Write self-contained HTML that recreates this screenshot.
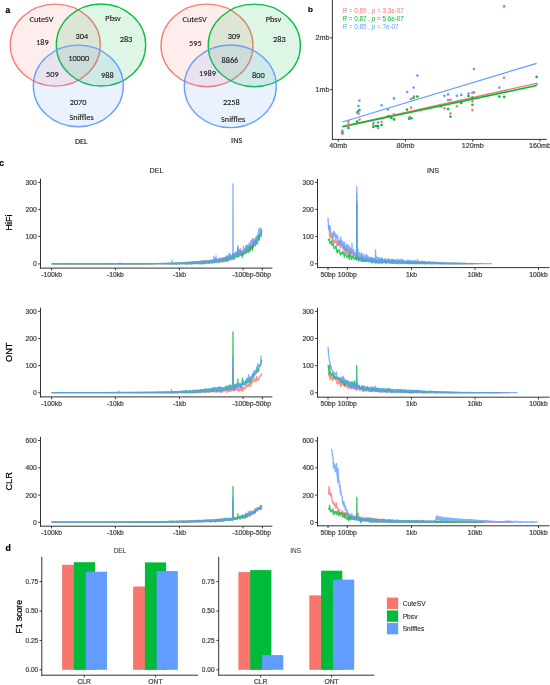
<!DOCTYPE html>
<html><head><meta charset="utf-8"><title>Figure</title>
<style>html,body{margin:0;padding:0;background:#fff;}svg{display:block;}</style></head>
<body><svg width="550" height="685" viewBox="0 0 550 685">
<rect width="550" height="685" fill="#fff"/>
<text x="5.50" y="13.00" font-size="8.5" text-anchor="start" fill="#000" font-weight="bold" font-family="'Liberation Sans', Arial, sans-serif" stroke="#000" stroke-width="0.22" >a</text>
<ellipse cx="55.3" cy="45.1" rx="45" ry="41" fill="#F8766D" fill-opacity="0.13" stroke="none"/>
<ellipse cx="55.3" cy="45.1" rx="45" ry="41" fill="none" stroke="#F8766D" stroke-opacity="0.95" stroke-width="1.35"/>
<ellipse cx="101" cy="45" rx="44.7" ry="41" fill="#00BA38" fill-opacity="0.13" stroke="none"/>
<ellipse cx="101" cy="45" rx="44.7" ry="41" fill="none" stroke="#00BA38" stroke-opacity="0.95" stroke-width="1.35"/>
<ellipse cx="78.3" cy="85.9" rx="45" ry="40.8" fill="#619CFF" fill-opacity="0.13" stroke="none"/>
<ellipse cx="78.3" cy="85.9" rx="45" ry="40.8" fill="none" stroke="#619CFF" stroke-opacity="0.95" stroke-width="1.35"/>
<text x="41.50" y="22.30" font-size="8.3" text-anchor="middle" fill="#1a1a1a" font-weight="normal" font-family="Carlito, 'Liberation Sans', sans-serif" stroke="#1a1a1a" stroke-width="0.12" >CuteSV</text>
<text x="113.10" y="21.40" font-size="8.3" text-anchor="middle" fill="#1a1a1a" font-weight="normal" font-family="Carlito, 'Liberation Sans', sans-serif" stroke="#1a1a1a" stroke-width="0.12" >Pbsv</text>
<text x="42.30" y="45.00" font-size="8.3" text-anchor="middle" fill="#1a1a1a" font-weight="normal" font-family="Carlito, 'Liberation Sans', sans-serif" stroke="#1a1a1a" stroke-width="0.12" >189</text>
<text x="81.80" y="39.10" font-size="8.3" text-anchor="middle" fill="#1a1a1a" font-weight="normal" font-family="Carlito, 'Liberation Sans', sans-serif" stroke="#1a1a1a" stroke-width="0.12" >304</text>
<text x="126.00" y="41.70" font-size="8.3" text-anchor="middle" fill="#1a1a1a" font-weight="normal" font-family="Carlito, 'Liberation Sans', sans-serif" stroke="#1a1a1a" stroke-width="0.12" >283</text>
<text x="78.70" y="61.10" font-size="8.3" text-anchor="middle" fill="#1a1a1a" font-weight="normal" font-family="Carlito, 'Liberation Sans', sans-serif" stroke="#1a1a1a" stroke-width="0.12" >10000</text>
<text x="52.40" y="76.90" font-size="8.3" text-anchor="middle" fill="#1a1a1a" font-weight="normal" font-family="Carlito, 'Liberation Sans', sans-serif" stroke="#1a1a1a" stroke-width="0.12" >509</text>
<text x="107.30" y="78.20" font-size="8.3" text-anchor="middle" fill="#1a1a1a" font-weight="normal" font-family="Carlito, 'Liberation Sans', sans-serif" stroke="#1a1a1a" stroke-width="0.12" >988</text>
<text x="78.10" y="104.50" font-size="8.3" text-anchor="middle" fill="#1a1a1a" font-weight="normal" font-family="Carlito, 'Liberation Sans', sans-serif" stroke="#1a1a1a" stroke-width="0.12" >2070</text>
<text x="81.60" y="119.90" font-size="8.3" text-anchor="middle" fill="#1a1a1a" font-weight="normal" font-family="Carlito, 'Liberation Sans', sans-serif" stroke="#1a1a1a" stroke-width="0.12" >Sniffles</text>
<text x="81.30" y="143.70" font-size="8.3" text-anchor="middle" fill="#1a1a1a" font-weight="normal" font-family="Carlito, 'Liberation Sans', sans-serif" stroke="#1a1a1a" stroke-width="0.12" >DEL</text>
<ellipse cx="207" cy="45.4" rx="46" ry="41.3" fill="#F8766D" fill-opacity="0.13" stroke="none"/>
<ellipse cx="207" cy="45.4" rx="46" ry="41.3" fill="none" stroke="#F8766D" stroke-opacity="0.95" stroke-width="1.35"/>
<ellipse cx="254.3" cy="45.4" rx="46.1" ry="41.3" fill="#00BA38" fill-opacity="0.13" stroke="none"/>
<ellipse cx="254.3" cy="45.4" rx="46.1" ry="41.3" fill="none" stroke="#00BA38" stroke-opacity="0.95" stroke-width="1.35"/>
<ellipse cx="230.3" cy="86.3" rx="46" ry="41.3" fill="#619CFF" fill-opacity="0.13" stroke="none"/>
<ellipse cx="230.3" cy="86.3" rx="46" ry="41.3" fill="none" stroke="#619CFF" stroke-opacity="0.95" stroke-width="1.35"/>
<text x="194.60" y="21.50" font-size="8.3" text-anchor="middle" fill="#1a1a1a" font-weight="normal" font-family="Carlito, 'Liberation Sans', sans-serif" stroke="#1a1a1a" stroke-width="0.12" >CuteSV</text>
<text x="273.50" y="21.50" font-size="8.3" text-anchor="middle" fill="#1a1a1a" font-weight="normal" font-family="Carlito, 'Liberation Sans', sans-serif" stroke="#1a1a1a" stroke-width="0.12" >Pbsv</text>
<text x="195.30" y="46.10" font-size="8.3" text-anchor="middle" fill="#1a1a1a" font-weight="normal" font-family="Carlito, 'Liberation Sans', sans-serif" stroke="#1a1a1a" stroke-width="0.12" >595</text>
<text x="234.00" y="39.20" font-size="8.3" text-anchor="middle" fill="#1a1a1a" font-weight="normal" font-family="Carlito, 'Liberation Sans', sans-serif" stroke="#1a1a1a" stroke-width="0.12" >309</text>
<text x="279.30" y="42.10" font-size="8.3" text-anchor="middle" fill="#1a1a1a" font-weight="normal" font-family="Carlito, 'Liberation Sans', sans-serif" stroke="#1a1a1a" stroke-width="0.12" >283</text>
<text x="229.90" y="63.10" font-size="8.3" text-anchor="middle" fill="#1a1a1a" font-weight="normal" font-family="Carlito, 'Liberation Sans', sans-serif" stroke="#1a1a1a" stroke-width="0.12" >8866</text>
<text x="207.50" y="76.20" font-size="8.3" text-anchor="middle" fill="#1a1a1a" font-weight="normal" font-family="Carlito, 'Liberation Sans', sans-serif" stroke="#1a1a1a" stroke-width="0.12" >1989</text>
<text x="258.30" y="77.90" font-size="8.3" text-anchor="middle" fill="#1a1a1a" font-weight="normal" font-family="Carlito, 'Liberation Sans', sans-serif" stroke="#1a1a1a" stroke-width="0.12" >800</text>
<text x="231.30" y="104.80" font-size="8.3" text-anchor="middle" fill="#1a1a1a" font-weight="normal" font-family="Carlito, 'Liberation Sans', sans-serif" stroke="#1a1a1a" stroke-width="0.12" >2258</text>
<text x="233.10" y="122.10" font-size="8.3" text-anchor="middle" fill="#1a1a1a" font-weight="normal" font-family="Carlito, 'Liberation Sans', sans-serif" stroke="#1a1a1a" stroke-width="0.12" >Sniffles</text>
<text x="236.70" y="142.90" font-size="8.3" text-anchor="middle" fill="#1a1a1a" font-weight="normal" font-family="Carlito, 'Liberation Sans', sans-serif" stroke="#1a1a1a" stroke-width="0.12" >INS</text>
<text x="307.90" y="12.10" font-size="8.1" text-anchor="start" fill="#000" font-weight="bold" font-family="'Liberation Sans', Arial, sans-serif" stroke="#000" stroke-width="0.22" >b</text>
<line x1="332.40" y1="0.00" x2="332.40" y2="139.70" stroke="#333333" stroke-width="1"/>
<line x1="332.00" y1="139.40" x2="546.70" y2="139.40" stroke="#333333" stroke-width="1"/>
<line x1="330.20" y1="37.90" x2="332.40" y2="37.90" stroke="#333333" stroke-width="1"/>
<text x="329.60" y="40.40" font-size="7.2" text-anchor="end" fill="#444444" font-weight="normal" font-family="'Liberation Sans', Arial, sans-serif" stroke="#444444" stroke-width="0.22" >2mb</text>
<line x1="330.20" y1="89.60" x2="332.40" y2="89.60" stroke="#333333" stroke-width="1"/>
<text x="329.60" y="92.10" font-size="7.2" text-anchor="end" fill="#444444" font-weight="normal" font-family="'Liberation Sans', Arial, sans-serif" stroke="#444444" stroke-width="0.22" >1mb</text>
<line x1="338.30" y1="139.40" x2="338.30" y2="141.60" stroke="#333333" stroke-width="1"/>
<text x="338.30" y="148.40" font-size="7.2" text-anchor="middle" fill="#444444" font-weight="normal" font-family="'Liberation Sans', Arial, sans-serif" stroke="#444444" stroke-width="0.22" >40mb</text>
<line x1="405.50" y1="139.40" x2="405.50" y2="141.60" stroke="#333333" stroke-width="1"/>
<text x="405.50" y="148.40" font-size="7.2" text-anchor="middle" fill="#444444" font-weight="normal" font-family="'Liberation Sans', Arial, sans-serif" stroke="#444444" stroke-width="0.22" >80mb</text>
<line x1="472.70" y1="139.40" x2="472.70" y2="141.60" stroke="#333333" stroke-width="1"/>
<text x="472.70" y="148.40" font-size="7.2" text-anchor="middle" fill="#444444" font-weight="normal" font-family="'Liberation Sans', Arial, sans-serif" stroke="#444444" stroke-width="0.22" >120mb</text>
<line x1="539.90" y1="139.40" x2="539.90" y2="141.60" stroke="#333333" stroke-width="1"/>
<text x="539.90" y="148.40" font-size="7.2" text-anchor="middle" fill="#444444" font-weight="normal" font-family="'Liberation Sans', Arial, sans-serif" stroke="#444444" stroke-width="0.22" >160mb</text>
<line x1="342.4" y1="122" x2="536.6" y2="63.3" stroke="#619CFF" stroke-width="1.25"/>
<line x1="342.4" y1="126.5" x2="536.6" y2="83.3" stroke="#F8766D" stroke-width="1.3"/>
<line x1="342.4" y1="126.8" x2="536.6" y2="85.5" stroke="#00BA38" stroke-width="1.6"/>
<circle cx="504" cy="77.8" r="1.3" fill="#F8766D"/>
<circle cx="474" cy="92.3" r="1.3" fill="#F8766D"/>
<circle cx="448.1" cy="100.1" r="1.3" fill="#F8766D"/>
<circle cx="472.4" cy="101.2" r="1.3" fill="#F8766D"/>
<circle cx="456.9" cy="106.3" r="1.3" fill="#F8766D"/>
<circle cx="444.4" cy="108.2" r="1.3" fill="#F8766D"/>
<circle cx="472.4" cy="110" r="1.3" fill="#F8766D"/>
<circle cx="450.5" cy="113.5" r="1.3" fill="#F8766D"/>
<circle cx="414" cy="96.6" r="1.3" fill="#F8766D"/>
<circle cx="411" cy="107.6" r="1.3" fill="#F8766D"/>
<circle cx="358.6" cy="113.6" r="1.3" fill="#F8766D"/>
<circle cx="394" cy="114.4" r="1.3" fill="#F8766D"/>
<circle cx="409.6" cy="117" r="1.3" fill="#F8766D"/>
<circle cx="359.6" cy="119.6" r="1.3" fill="#F8766D"/>
<circle cx="348.4" cy="123.6" r="1.3" fill="#F8766D"/>
<circle cx="342.4" cy="133.6" r="1.3" fill="#F8766D"/>
<circle cx="373.4" cy="125" r="1.3" fill="#F8766D"/>
<circle cx="378" cy="128" r="1.3" fill="#F8766D"/>
<circle cx="381.6" cy="122" r="1.3" fill="#F8766D"/>
<circle cx="348.4" cy="126" r="1.3" fill="#F8766D"/>
<circle cx="536.6" cy="76.9" r="1.3" fill="#00BA38"/>
<circle cx="499.4" cy="96.6" r="1.3" fill="#00BA38"/>
<circle cx="504.2" cy="96.9" r="1.3" fill="#00BA38"/>
<circle cx="468.5" cy="96" r="1.3" fill="#00BA38"/>
<circle cx="472.4" cy="97.5" r="1.3" fill="#00BA38"/>
<circle cx="461.3" cy="103" r="1.3" fill="#00BA38"/>
<circle cx="448.1" cy="109.1" r="1.3" fill="#00BA38"/>
<circle cx="472.4" cy="104.7" r="1.3" fill="#00BA38"/>
<circle cx="450.5" cy="116.8" r="1.3" fill="#00BA38"/>
<circle cx="441" cy="106.3" r="1.3" fill="#00BA38"/>
<circle cx="413.6" cy="98" r="1.3" fill="#00BA38"/>
<circle cx="417.4" cy="96.6" r="1.3" fill="#00BA38"/>
<circle cx="407" cy="109.6" r="1.3" fill="#00BA38"/>
<circle cx="359.4" cy="110" r="1.3" fill="#00BA38"/>
<circle cx="358" cy="111.6" r="1.3" fill="#00BA38"/>
<circle cx="388.4" cy="116" r="1.3" fill="#00BA38"/>
<circle cx="391.4" cy="118" r="1.3" fill="#00BA38"/>
<circle cx="394" cy="119.4" r="1.3" fill="#00BA38"/>
<circle cx="409.2" cy="118.8" r="1.3" fill="#00BA38"/>
<circle cx="411.4" cy="118.2" r="1.3" fill="#00BA38"/>
<circle cx="357" cy="121.6" r="1.3" fill="#00BA38"/>
<circle cx="348.4" cy="128" r="1.3" fill="#00BA38"/>
<circle cx="342.4" cy="132.4" r="1.3" fill="#00BA38"/>
<circle cx="373.4" cy="127" r="1.3" fill="#00BA38"/>
<circle cx="376" cy="126" r="1.3" fill="#00BA38"/>
<circle cx="381.6" cy="125" r="1.3" fill="#00BA38"/>
<circle cx="378" cy="126" r="1.3" fill="#00BA38"/>
<circle cx="504.2" cy="6.4" r="1.3" fill="#619CFF"/>
<circle cx="474" cy="69" r="1.3" fill="#619CFF"/>
<circle cx="536.6" cy="84.1" r="1.3" fill="#619CFF"/>
<circle cx="499.4" cy="87.6" r="1.3" fill="#619CFF"/>
<circle cx="444.4" cy="95.8" r="1.3" fill="#619CFF"/>
<circle cx="448.1" cy="94.4" r="1.3" fill="#619CFF"/>
<circle cx="456.9" cy="95.8" r="1.3" fill="#619CFF"/>
<circle cx="461.3" cy="94.9" r="1.3" fill="#619CFF"/>
<circle cx="468.5" cy="93.6" r="1.3" fill="#619CFF"/>
<circle cx="472.4" cy="92.9" r="1.3" fill="#619CFF"/>
<circle cx="450.5" cy="99.7" r="1.3" fill="#619CFF"/>
<circle cx="417.4" cy="75.6" r="1.3" fill="#619CFF"/>
<circle cx="413.6" cy="87.6" r="1.3" fill="#619CFF"/>
<circle cx="407.2" cy="92" r="1.3" fill="#619CFF"/>
<circle cx="394" cy="98.4" r="1.3" fill="#619CFF"/>
<circle cx="359.4" cy="100.6" r="1.3" fill="#619CFF"/>
<circle cx="358.4" cy="106" r="1.3" fill="#619CFF"/>
<circle cx="381.6" cy="105.2" r="1.3" fill="#619CFF"/>
<circle cx="411" cy="99" r="1.3" fill="#619CFF"/>
<circle cx="388" cy="109.6" r="1.3" fill="#619CFF"/>
<circle cx="357" cy="112.4" r="1.3" fill="#619CFF"/>
<circle cx="348.4" cy="121" r="1.3" fill="#619CFF"/>
<circle cx="342.4" cy="130.8" r="1.3" fill="#619CFF"/>
<circle cx="373.4" cy="123" r="1.3" fill="#619CFF"/>
<circle cx="378" cy="122.6" r="1.3" fill="#619CFF"/>
<text x="342.5" y="13.2" font-size="6.3" fill="#F8766D" font-family="'Liberation Sans', Arial, sans-serif"><tspan font-style="italic">R</tspan> = 0.89 , <tspan font-style="italic">p</tspan> = 3.3e-07</text>
<text x="342.5" y="21.1" font-size="6.3" fill="#00BA38" font-family="'Liberation Sans', Arial, sans-serif"><tspan font-style="italic">R</tspan> = 0.87 , <tspan font-style="italic">p</tspan> = 5.6e-07</text>
<text x="342.5" y="28.9" font-size="6.3" fill="#619CFF" font-family="'Liberation Sans', Arial, sans-serif"><tspan font-style="italic">R</tspan> = 0.85 , <tspan font-style="italic">p</tspan> = 7e-07</text>
<text x="-0.80" y="166.10" font-size="8.6" text-anchor="start" fill="#000" font-weight="bold" font-family="'Liberation Sans', Arial, sans-serif" stroke="#000" stroke-width="0.22" >c</text>
<text x="156.50" y="172.70" font-size="7.2" text-anchor="middle" fill="#1a1a1a" font-weight="normal" font-family="'Liberation Sans', Arial, sans-serif" stroke="#1a1a1a" stroke-width="0.1" >DEL</text>
<text x="433.00" y="172.60" font-size="7.2" text-anchor="middle" fill="#1a1a1a" font-weight="normal" font-family="'Liberation Sans', Arial, sans-serif" stroke="#1a1a1a" stroke-width="0.1" >INS</text>
<text x="0.00" y="0.00" font-size="9.2" text-anchor="middle" fill="#000" font-weight="normal" font-family="'Liberation Sans', Arial, sans-serif" stroke="#000" stroke-width="0.22" transform="translate(12.4,222.5) rotate(-90)">HiFi</text>
<line x1="40.50" y1="178.70" x2="40.50" y2="268.60" stroke="#333333" stroke-width="1"/>
<line x1="40.00" y1="268.10" x2="272.40" y2="268.10" stroke="#333333" stroke-width="1"/>
<line x1="38.20" y1="182.40" x2="40.50" y2="182.40" stroke="#333333" stroke-width="1"/>
<text x="36.80" y="184.80" font-size="6.8" text-anchor="end" fill="#444444" font-weight="normal" font-family="'Liberation Sans', Arial, sans-serif" stroke="#444444" stroke-width="0.22" >300</text>
<line x1="38.20" y1="209.40" x2="40.50" y2="209.40" stroke="#333333" stroke-width="1"/>
<text x="36.80" y="211.80" font-size="6.8" text-anchor="end" fill="#444444" font-weight="normal" font-family="'Liberation Sans', Arial, sans-serif" stroke="#444444" stroke-width="0.22" >200</text>
<line x1="38.20" y1="236.40" x2="40.50" y2="236.40" stroke="#333333" stroke-width="1"/>
<text x="36.80" y="238.80" font-size="6.8" text-anchor="end" fill="#444444" font-weight="normal" font-family="'Liberation Sans', Arial, sans-serif" stroke="#444444" stroke-width="0.22" >100</text>
<line x1="38.20" y1="263.90" x2="40.50" y2="263.90" stroke="#333333" stroke-width="1"/>
<text x="36.80" y="266.30" font-size="6.8" text-anchor="end" fill="#444444" font-weight="normal" font-family="'Liberation Sans', Arial, sans-serif" stroke="#444444" stroke-width="0.22" >0</text>
<line x1="51.60" y1="268.10" x2="51.60" y2="270.30" stroke="#333333" stroke-width="1"/>
<text x="51.60" y="277.10" font-size="6.8" text-anchor="middle" fill="#444444" font-weight="normal" font-family="'Liberation Sans', Arial, sans-serif" stroke="#444444" stroke-width="0.22" >-100kb</text>
<line x1="115.40" y1="268.10" x2="115.40" y2="270.30" stroke="#333333" stroke-width="1"/>
<text x="115.40" y="277.10" font-size="6.8" text-anchor="middle" fill="#444444" font-weight="normal" font-family="'Liberation Sans', Arial, sans-serif" stroke="#444444" stroke-width="0.22" >-10kb</text>
<line x1="179.50" y1="268.10" x2="179.50" y2="270.30" stroke="#333333" stroke-width="1"/>
<text x="179.50" y="277.10" font-size="6.8" text-anchor="middle" fill="#444444" font-weight="normal" font-family="'Liberation Sans', Arial, sans-serif" stroke="#444444" stroke-width="0.22" >-1kb</text>
<line x1="243.00" y1="268.10" x2="243.00" y2="270.30" stroke="#333333" stroke-width="1"/>
<text x="243.00" y="277.10" font-size="6.8" text-anchor="middle" fill="#444444" font-weight="normal" font-family="'Liberation Sans', Arial, sans-serif" stroke="#444444" stroke-width="0.22" >-100bp</text>
<line x1="262.40" y1="268.10" x2="262.40" y2="270.30" stroke="#333333" stroke-width="1"/>
<text x="262.40" y="277.10" font-size="6.8" text-anchor="middle" fill="#444444" font-weight="normal" font-family="'Liberation Sans', Arial, sans-serif" stroke="#444444" stroke-width="0.22" >-50bp</text>
<line x1="317.50" y1="178.70" x2="317.50" y2="268.10" stroke="#333333" stroke-width="1"/>
<line x1="317.00" y1="267.60" x2="549.50" y2="267.60" stroke="#333333" stroke-width="1"/>
<line x1="315.20" y1="182.40" x2="317.50" y2="182.40" stroke="#333333" stroke-width="1"/>
<text x="313.80" y="184.80" font-size="6.8" text-anchor="end" fill="#444444" font-weight="normal" font-family="'Liberation Sans', Arial, sans-serif" stroke="#444444" stroke-width="0.22" >300</text>
<line x1="315.20" y1="209.40" x2="317.50" y2="209.40" stroke="#333333" stroke-width="1"/>
<text x="313.80" y="211.80" font-size="6.8" text-anchor="end" fill="#444444" font-weight="normal" font-family="'Liberation Sans', Arial, sans-serif" stroke="#444444" stroke-width="0.22" >200</text>
<line x1="315.20" y1="236.40" x2="317.50" y2="236.40" stroke="#333333" stroke-width="1"/>
<text x="313.80" y="238.80" font-size="6.8" text-anchor="end" fill="#444444" font-weight="normal" font-family="'Liberation Sans', Arial, sans-serif" stroke="#444444" stroke-width="0.22" >100</text>
<line x1="315.20" y1="263.80" x2="317.50" y2="263.80" stroke="#333333" stroke-width="1"/>
<text x="313.80" y="266.20" font-size="6.8" text-anchor="end" fill="#444444" font-weight="normal" font-family="'Liberation Sans', Arial, sans-serif" stroke="#444444" stroke-width="0.22" >0</text>
<line x1="328.00" y1="267.60" x2="328.00" y2="269.80" stroke="#333333" stroke-width="1"/>
<text x="328.00" y="276.60" font-size="6.8" text-anchor="middle" fill="#444444" font-weight="normal" font-family="'Liberation Sans', Arial, sans-serif" stroke="#444444" stroke-width="0.22" >50bp</text>
<line x1="347.30" y1="267.60" x2="347.30" y2="269.80" stroke="#333333" stroke-width="1"/>
<text x="347.30" y="276.60" font-size="6.8" text-anchor="middle" fill="#444444" font-weight="normal" font-family="'Liberation Sans', Arial, sans-serif" stroke="#444444" stroke-width="0.22" >100bp</text>
<line x1="411.50" y1="267.60" x2="411.50" y2="269.80" stroke="#333333" stroke-width="1"/>
<text x="411.50" y="276.60" font-size="6.8" text-anchor="middle" fill="#444444" font-weight="normal" font-family="'Liberation Sans', Arial, sans-serif" stroke="#444444" stroke-width="0.22" >1kb</text>
<line x1="475.00" y1="267.60" x2="475.00" y2="269.80" stroke="#333333" stroke-width="1"/>
<text x="475.00" y="276.60" font-size="6.8" text-anchor="middle" fill="#444444" font-weight="normal" font-family="'Liberation Sans', Arial, sans-serif" stroke="#444444" stroke-width="0.22" >10kb</text>
<line x1="538.50" y1="267.60" x2="538.50" y2="269.80" stroke="#333333" stroke-width="1"/>
<text x="538.50" y="276.60" font-size="6.8" text-anchor="middle" fill="#444444" font-weight="normal" font-family="'Liberation Sans', Arial, sans-serif" stroke="#444444" stroke-width="0.22" >100kb</text>
<polyline points="51.6,263.8 51.9,263.8 52.1,263.8 52.4,263.8 52.6,263.8 52.9,263.8 53.1,263.8 53.4,263.8 53.6,263.8 53.9,263.8 54.1,263.8 54.4,263.8 54.6,263.8 54.9,263.8 55.1,263.8 55.4,263.8 55.6,263.8 55.9,263.8 56.1,263.8 56.4,263.8 56.6,263.8 56.9,263.8 57.1,263.8 57.4,263.8 57.6,263.8 57.9,263.8 58.1,263.8 58.4,263.8 58.6,263.8 58.9,263.8 59.1,263.8 59.4,263.8 59.6,263.8 59.9,263.8 60.1,263.8 60.4,263.9 60.6,263.8 60.9,263.8 61.1,263.8 61.4,263.8 61.6,263.8 61.9,263.8 62.1,263.8 62.4,263.8 62.6,263.8 62.9,263.8 63.1,263.8 63.4,263.8 63.6,263.8 63.9,263.8 64.1,263.8 64.4,263.8 64.6,263.8 64.9,263.8 65.1,263.8 65.4,263.8 65.6,263.8 65.9,263.8 66.1,263.8 66.4,263.8 66.6,263.8 66.9,263.8 67.1,263.8 67.4,263.8 67.6,263.8 67.9,263.8 68.1,263.8 68.4,263.8 68.6,263.8 68.9,263.8 69.1,263.8 69.4,263.8 69.6,263.8 69.9,263.8 70.1,263.8 70.4,263.8 70.6,263.8 70.9,263.8 71.1,263.8 71.4,263.8 71.6,263.8 71.9,263.8 72.1,263.8 72.4,263.8 72.6,263.8 72.9,263.8 73.1,263.8 73.4,263.8 73.6,263.8 73.9,263.8 74.1,263.8 74.4,263.8 74.6,263.8 74.9,263.8 75.1,263.8 75.4,263.8 75.6,263.8 75.9,263.8 76.1,263.8 76.4,263.8 76.6,263.8 76.9,263.8 77.1,263.8 77.4,263.8 77.6,263.8 77.9,263.8 78.1,263.8 78.4,263.8 78.6,263.8 78.9,263.8 79.1,263.8 79.4,263.8 79.6,263.8 79.9,263.8 80.1,263.8 80.4,263.8 80.6,263.8 80.9,263.8 81.1,263.8 81.4,263.8 81.6,263.8 81.9,263.8 82.1,263.8 82.4,263.8 82.6,263.8 82.9,263.8 83.1,263.8 83.4,263.8 83.6,263.8 83.9,263.8 84.1,263.8 84.4,263.8 84.6,263.8 84.9,263.8 85.1,263.8 85.4,263.8 85.6,263.8 85.9,263.8 86.1,263.8 86.4,263.8 86.6,263.8 86.9,263.8 87.1,263.8 87.4,263.8 87.6,263.8 87.9,263.8 88.1,263.8 88.4,263.8 88.6,263.8 88.9,263.8 89.1,263.8 89.4,263.8 89.6,263.8 89.9,263.8 90.1,263.8 90.4,263.8 90.6,263.8 90.9,263.8 91.1,263.8 91.4,263.8 91.6,263.8 91.9,263.8 92.1,263.8 92.4,263.8 92.6,263.8 92.9,263.8 93.1,263.8 93.4,263.8 93.6,263.8 93.9,263.8 94.1,263.8 94.4,263.8 94.6,263.8 94.9,263.8 95.1,263.8 95.4,263.8 95.6,263.8 95.9,263.8 96.1,263.8 96.4,263.8 96.6,263.8 96.9,263.8 97.1,263.8 97.4,263.8 97.6,263.8 97.9,263.8 98.1,263.8 98.4,263.8 98.6,263.8 98.9,263.8 99.1,263.8 99.4,263.8 99.6,263.8 99.9,263.8 100.1,263.8 100.4,263.8 100.6,263.8 100.9,263.8 101.1,263.8 101.4,263.8 101.6,263.8 101.9,263.8 102.1,263.8 102.4,263.8 102.6,263.8 102.9,263.8 103.1,263.8 103.4,263.8 103.6,263.8 103.9,263.8 104.1,263.8 104.4,263.8 104.6,263.8 104.9,263.8 105.1,263.8 105.4,263.8 105.6,263.8 105.9,263.8 106.1,263.8 106.4,263.8 106.6,263.8 106.9,263.8 107.1,263.8 107.4,263.8 107.6,263.8 107.9,263.8 108.1,263.8 108.4,263.8 108.6,263.8 108.9,263.8 109.1,263.8 109.4,263.8 109.6,263.8 109.9,263.8 110.1,263.8 110.4,263.8 110.6,263.8 110.9,263.8 111.1,263.8 111.4,263.8 111.6,263.8 111.9,263.8 112.1,263.8 112.4,263.8 112.6,263.8 112.9,263.8 113.1,263.8 113.4,263.8 113.6,263.8 113.9,263.8 114.1,263.8 114.4,263.8 114.6,263.8 114.9,263.8 115.1,263.8 115.4,263.8 115.6,263.8 115.9,263.8 116.1,263.8 116.4,263.8 116.6,263.8 116.9,263.8 117.1,263.8 117.4,263.8 117.6,263.8 117.9,263.8 118.1,263.8 118.4,263.8 118.6,263.8 118.9,263.8 119.1,263.8 119.4,263.8 119.6,263.8 119.9,263.8 120.1,263.8 120.4,263.8 120.6,263.8 120.9,263.8 121.1,263.8 121.4,263.8 121.6,263.8 121.9,263.8 122.1,263.8 122.4,263.8 122.6,263.8 122.9,263.8 123.1,263.8 123.4,263.8 123.6,263.8 123.9,263.8 124.1,263.7 124.4,263.8 124.6,263.8 124.9,263.8 125.1,263.8 125.4,263.8 125.6,263.8 125.9,263.8 126.1,263.8 126.4,263.8 126.6,263.8 126.9,263.8 127.1,263.8 127.4,263.8 127.6,263.8 127.9,263.8 128.1,263.8 128.4,263.8 128.6,263.8 128.9,263.7 129.1,263.8 129.4,263.8 129.6,263.7 129.9,263.8 130.1,263.8 130.4,263.8 130.6,263.8 130.9,263.8 131.1,263.7 131.4,263.8 131.6,263.7 131.9,263.8 132.1,263.8 132.4,263.7 132.6,263.7 132.9,263.8 133.1,263.8 133.4,263.8 133.6,263.8 133.9,263.8 134.1,263.8 134.4,263.7 134.6,263.8 134.9,263.8 135.1,263.7 135.4,263.8 135.6,263.8 135.9,263.8 136.1,263.7 136.4,263.8 136.6,263.8 136.9,263.8 137.1,263.7 137.4,263.8 137.6,263.7 137.9,263.8 138.1,263.8 138.4,263.8 138.6,263.8 138.9,263.7 139.1,263.8 139.4,263.7 139.6,263.7 139.9,263.8 140.1,263.7 140.4,263.8 140.6,263.7 140.9,263.8 141.1,263.8 141.4,263.7 141.6,263.8 141.9,263.7 142.1,263.7 142.4,263.8 142.6,263.7 142.9,263.8 143.1,263.8 143.4,263.7 143.6,263.7 143.9,263.8 144.1,263.8 144.4,263.7 144.6,263.8 144.9,263.7 145.1,263.8 145.4,263.7 145.6,263.8 145.9,263.7 146.1,263.8 146.4,263.7 146.6,263.7 146.9,263.8 147.1,263.7 147.4,263.8 147.6,263.8 147.9,263.6 148.1,263.8 148.4,263.7 148.6,263.7 148.9,263.8 149.1,263.8 149.4,263.6 149.6,263.8 149.9,263.6 150.1,263.7 150.4,263.6 150.6,263.8 150.9,263.7 151.1,263.7 151.4,263.7 151.6,263.7 151.9,263.6 152.1,263.7 152.4,263.6 152.6,263.6 152.9,263.7 153.1,263.7 153.4,263.7 153.6,263.7 153.9,263.6 154.1,263.6 154.4,263.8 154.6,263.7 154.9,263.7 155.1,263.6 155.4,263.7 155.6,263.6 155.9,263.7 156.1,263.6 156.4,263.7 156.6,263.7 156.9,263.6 157.1,263.7 157.4,263.6 157.6,263.6 157.9,263.7 158.1,263.7 158.4,263.5 158.6,263.6 158.9,263.7 159.1,263.6 159.4,263.7 159.6,263.6 159.9,263.7 160.1,263.8 160.4,263.5 160.6,263.8 160.9,263.6 161.1,263.4 161.4,263.8 161.6,263.6 161.9,263.7 162.1,263.6 162.4,263.5 162.6,263.6 162.9,263.8 163.1,263.7 163.4,263.5 163.6,263.6 163.9,263.7 164.1,263.7 164.4,263.5 164.6,263.6 164.9,263.7 165.1,263.5 165.4,263.7 165.6,263.6 165.9,263.5 166.1,263.4 166.4,263.7 166.6,263.7 166.9,263.5 167.1,263.9 167.4,263.5 167.6,263.7 167.9,263.5 168.1,263.5 168.4,263.7 168.6,263.4 168.9,263.6 169.1,263.4 169.4,263.8 169.6,263.9 169.9,263.3 170.1,263.4 170.4,263.7 170.6,263.8 170.9,263.4 171.1,263.8 171.4,263.3 171.6,263.3 171.9,263.7 172.1,263.5 172.4,263.7 172.6,263.4 172.9,263.6 173.1,263.4 173.4,263.9 173.6,263.4 173.9,263.8 174.1,263.5 174.4,263.1 174.6,263.1 174.9,263.8 175.1,263.1 175.4,263.7 175.6,263.9 175.9,263.4 176.1,263.8 176.4,263.3 176.6,263.1 176.9,263.6 177.1,263.5 177.4,263.2 177.6,263.8 177.9,263.3 178.1,263.2 178.4,263.7 178.6,263.1 178.9,263.5 179.1,263.3 179.4,263.6 179.6,263.1 179.9,263.5 180.1,263.0 180.4,263.5 180.6,263.2 180.9,262.9 181.1,263.6 181.4,263.2 181.6,263.3 181.9,262.8 182.1,263.4 182.4,263.0 182.6,263.0 182.9,263.7 183.1,262.8 183.4,263.2 183.6,262.9 183.9,263.3 184.1,262.7 184.4,263.6 184.6,263.3 184.9,263.1 185.1,262.7 185.4,263.4 185.6,263.6 185.9,262.9 186.1,262.8 186.4,263.7 186.6,262.9 186.9,263.5 187.1,262.8 187.4,263.3 187.6,263.1 187.9,262.4 188.1,262.5 188.4,263.7 188.6,262.3 188.9,263.2 189.1,262.4 189.4,263.2 189.6,262.8 189.9,263.6 190.1,262.1 190.4,263.6 190.6,262.9 190.9,263.9 191.1,262.4 191.4,263.2 191.6,262.7 191.9,263.4 192.1,261.9 192.4,263.3 192.6,263.1 192.9,262.0 193.1,262.4 193.4,263.4 193.6,262.2 193.9,263.3 194.1,262.1 194.4,263.3 194.6,263.4 194.9,262.3 195.1,263.7 195.4,262.7 195.6,262.0 195.9,263.0 196.1,262.0 196.4,262.7 196.6,262.8 196.9,261.7 197.1,263.1 197.4,262.2 197.6,263.5 197.9,261.7 198.1,262.8 198.4,261.8 198.6,262.1 198.9,262.8 199.1,262.5 199.4,263.6 199.6,262.1 199.9,262.8 200.1,262.6 200.4,261.9 200.6,261.7 200.9,263.9 201.1,262.6 201.4,262.1 201.6,261.6 201.9,263.8 202.1,262.6 202.4,261.5 202.6,263.0 202.9,261.8 203.1,261.0 203.4,262.8 203.6,262.8 203.9,262.1 204.1,263.7 204.4,261.4 204.6,263.2 204.9,261.5 205.1,263.0 205.4,261.8 205.6,261.5 205.9,262.3 206.1,261.3 206.4,262.4 206.6,262.3 206.9,261.0 207.1,261.1 207.4,262.3 207.6,262.6 207.9,261.5 208.1,262.7 208.4,261.8 208.6,261.4 208.9,263.3 209.1,262.7 209.4,261.2 209.6,262.0 209.9,260.8 210.1,261.3 210.4,261.6 210.6,262.2 210.9,260.5 211.1,260.5 211.4,262.8 211.6,261.4 211.9,260.4 212.1,260.5 212.4,262.0 212.6,260.6 212.9,262.9 213.1,260.8 213.4,262.6 213.6,261.2 213.9,259.4 214.1,260.7 214.4,262.0 214.6,261.6 214.9,260.8 215.1,258.5 215.4,261.6 215.6,261.4 215.9,260.0 216.1,260.8 216.4,259.8 216.6,259.8 216.9,261.7 217.1,259.6 217.4,262.6 217.6,260.4 217.9,262.0 218.1,260.9 218.4,259.5 218.6,258.9 218.9,261.2 219.1,259.6 219.4,262.7 219.6,261.4 219.9,259.9 220.1,259.9 220.4,261.5 220.6,259.0 220.9,261.1 221.1,258.9 221.4,261.2 221.6,259.0 221.9,259.6 222.1,262.2 222.4,260.0 222.6,259.5 222.9,261.3 223.1,260.1 223.4,258.8 223.6,259.7 223.9,259.1 224.1,260.6 224.4,258.8 224.6,260.3 224.9,259.3 225.1,257.3 225.4,260.0 225.6,258.8 225.9,260.0 226.1,260.0 226.4,257.3 226.6,260.8 226.9,258.0 227.1,260.5 227.4,258.7 227.6,258.9 227.9,257.7 228.1,258.1 228.4,256.4 228.6,258.3 228.9,256.3 229.1,255.8 229.4,259.2 229.6,254.3 229.9,258.5 230.1,258.8 230.4,256.6 230.6,256.8 230.9,255.9 231.2,257.2 231.4,258.4 231.6,256.8 231.9,258.5 232.1,258.1 232.4,255.6 232.7,257.8 232.9,257.0 233.1,259.3 233.4,256.0 233.6,258.9 233.8,255.0 234.1,255.8 234.4,256.8 234.7,254.5 234.9,255.4 235.1,255.3 235.4,256.7 235.7,254.8 235.9,255.0 236.1,254.6 236.4,257.0 236.6,255.3 236.8,255.4 237.1,252.3 237.4,255.1 237.7,255.8 237.9,255.4 237.7,254.6 237.9,249.0 238.1,254.6 238.2,253.4 238.4,253.9 238.6,252.9 238.9,254.4 239.1,255.5 239.4,253.6 239.6,252.4 239.9,253.8 240.1,253.8 240.4,253.0 240.6,248.7 240.9,251.3 241.1,253.3 241.4,252.8 241.6,252.0 241.9,255.7 242.2,254.0 242.4,251.4 242.7,252.4 243.0,251.2 243.3,251.3 243.6,255.0 243.8,253.5 244.1,251.4 244.4,251.9 244.7,250.7 245.0,249.2 245.3,250.5 245.6,250.9 245.9,252.8 246.2,251.3 246.6,247.4 246.9,247.1 247.2,247.4 247.5,249.8 247.8,249.1 248.2,246.0 248.5,249.7 248.9,246.2 249.2,246.9 249.6,246.4 249.9,249.2 250.3,244.8 250.6,244.9 251.0,247.7 251.4,244.8 251.7,244.8 252.1,244.4 252.5,248.7 252.9,239.0 253.3,247.3 253.7,246.1 254.1,242.2 254.5,241.3 255.0,239.6 255.4,243.1 255.8,240.0 256.3,241.7 256.7,243.0 257.2,239.3 257.7,238.4 258.1,237.2 258.6,240.0 259.1,235.7 259.6,234.8 260.1,234.8 260.6,231.9 261.2,234.5 261.7,232.5" fill="none" stroke="#F8766D" stroke-opacity="0.8" stroke-width="1.3" stroke-linejoin="round"/>
<polyline points="51.6,263.8 51.9,263.8 52.1,263.8 52.4,263.8 52.6,263.8 52.9,263.8 53.1,263.8 53.4,263.8 53.6,263.8 53.9,263.8 54.1,263.8 54.4,263.8 54.6,263.8 54.9,263.8 55.1,263.8 55.4,263.8 55.6,263.8 55.9,263.8 56.1,263.8 56.4,263.8 56.6,263.8 56.9,263.8 57.1,263.8 57.4,263.8 57.6,263.8 57.9,263.8 58.1,263.8 58.4,263.8 58.6,263.8 58.9,263.8 59.1,263.8 59.4,263.8 59.6,263.8 59.9,263.8 60.1,263.8 60.4,263.8 60.6,263.8 60.9,263.8 61.1,263.8 61.4,263.8 61.6,263.8 61.9,263.8 62.1,263.8 62.4,263.8 62.6,263.8 62.9,263.9 63.1,263.8 63.4,263.8 63.6,263.8 63.9,263.8 64.1,263.8 64.4,263.9 64.6,263.8 64.9,263.8 65.1,263.8 65.4,263.8 65.6,263.8 65.9,263.8 66.1,263.8 66.4,263.8 66.6,263.9 66.9,263.8 67.1,263.8 67.4,263.8 67.6,263.8 67.9,263.8 68.1,263.8 68.4,263.8 68.6,263.8 68.9,263.8 69.1,263.8 69.4,263.8 69.6,263.8 69.9,263.8 70.1,263.8 70.4,263.8 70.6,263.8 70.9,263.8 71.1,263.8 71.4,263.8 71.6,263.8 71.9,263.8 72.1,263.8 72.4,263.8 72.6,263.8 72.9,263.8 73.1,263.8 73.4,263.8 73.6,263.8 73.9,263.8 74.1,263.8 74.4,263.8 74.6,263.8 74.9,263.8 75.1,263.8 75.4,263.8 75.6,263.8 75.9,263.8 76.1,263.8 76.4,263.8 76.6,263.8 76.9,263.8 77.1,263.8 77.4,263.8 77.6,263.8 77.9,263.8 78.1,263.8 78.4,263.8 78.6,263.8 78.9,263.8 79.1,263.8 79.4,263.8 79.6,263.8 79.9,263.8 80.1,263.8 80.4,263.8 80.6,263.8 80.9,263.8 81.1,263.8 81.4,263.8 81.6,263.8 81.9,263.8 82.1,263.8 82.4,263.8 82.6,263.8 82.9,263.8 83.1,263.8 83.4,263.8 83.6,263.8 83.9,263.8 84.1,263.8 84.4,263.8 84.6,263.8 84.9,263.8 85.1,263.8 85.4,263.8 85.6,263.8 85.9,263.8 86.1,263.8 86.4,263.8 86.6,263.8 86.9,263.8 87.1,263.8 87.4,263.8 87.6,263.8 87.9,263.8 88.1,263.8 88.4,263.8 88.6,263.8 88.9,263.8 89.1,263.8 89.4,263.8 89.6,263.8 89.9,263.8 90.1,263.8 90.4,263.8 90.6,263.8 90.9,263.8 91.1,263.8 91.4,263.8 91.6,263.8 91.9,263.8 92.1,263.8 92.4,263.8 92.6,263.8 92.9,263.9 93.1,263.8 93.4,263.8 93.6,263.8 93.9,263.8 94.1,263.8 94.4,263.8 94.6,263.8 94.9,263.8 95.1,263.8 95.4,263.8 95.6,263.8 95.9,263.8 96.1,263.8 96.4,263.8 96.6,263.8 96.9,263.8 97.1,263.8 97.4,263.8 97.6,263.8 97.9,263.8 98.1,263.8 98.4,263.8 98.6,263.8 98.9,263.8 99.1,263.8 99.4,263.8 99.6,263.8 99.9,263.8 100.1,263.8 100.4,263.7 100.6,263.8 100.9,263.8 101.1,263.8 101.4,263.8 101.6,263.8 101.9,263.8 102.1,263.8 102.4,263.8 102.6,263.8 102.9,263.8 103.1,263.8 103.4,263.8 103.6,263.8 103.9,263.8 104.1,263.8 104.4,263.8 104.6,263.8 104.9,263.8 105.1,263.8 105.4,263.8 105.6,263.8 105.9,263.8 106.1,263.8 106.4,263.8 106.6,263.8 106.9,263.8 107.1,263.8 107.4,263.8 107.6,263.8 107.9,263.8 108.1,263.8 108.4,263.8 108.6,263.8 108.9,263.8 109.1,263.8 109.4,263.8 109.6,263.8 109.9,263.8 110.1,263.8 110.4,263.8 110.6,263.8 110.9,263.8 111.1,263.8 111.4,263.8 111.6,263.8 111.9,263.8 112.1,263.8 112.4,263.8 112.6,263.8 112.9,263.8 113.1,263.8 113.4,263.8 113.6,263.8 113.9,263.8 114.1,263.8 114.4,263.8 114.6,263.8 114.9,263.8 115.1,263.8 115.4,263.8 115.6,263.8 115.9,263.8 116.1,263.8 116.4,263.8 116.6,263.7 116.9,263.8 117.1,263.8 117.4,263.8 117.6,263.8 117.9,263.8 118.1,263.8 118.4,263.8 118.6,263.8 118.9,263.8 119.1,263.8 119.4,263.8 119.6,263.8 119.9,263.8 120.1,263.8 120.4,263.8 120.6,263.8 120.9,263.8 121.1,263.8 121.4,263.8 121.6,263.8 121.9,263.8 122.1,263.8 122.4,263.8 122.6,263.7 122.9,263.8 123.1,263.8 123.4,263.8 123.6,263.8 123.9,263.8 124.1,263.8 124.4,263.8 124.6,263.8 124.9,263.7 125.1,263.8 125.4,263.8 125.6,263.8 125.9,263.8 126.1,263.8 126.4,263.8 126.6,263.8 126.9,263.8 127.1,263.8 127.4,263.8 127.6,263.8 127.9,263.8 128.1,263.8 128.4,263.8 128.6,263.8 128.9,263.8 129.1,263.7 129.4,263.8 129.6,263.8 129.9,263.8 130.1,263.8 130.4,263.8 130.6,263.8 130.9,263.8 131.1,263.8 131.4,263.8 131.6,263.8 131.9,263.7 132.1,263.8 132.4,263.7 132.6,263.8 132.9,263.7 133.1,263.8 133.4,263.8 133.6,263.8 133.9,263.8 134.1,263.8 134.4,263.8 134.6,263.7 134.9,263.8 135.1,263.8 135.4,263.8 135.6,263.8 135.9,263.7 136.1,263.7 136.4,263.8 136.6,263.7 136.9,263.8 137.1,263.8 137.4,263.7 137.6,263.8 137.9,263.7 138.1,263.7 138.4,263.8 138.6,263.7 138.9,263.8 139.1,263.8 139.4,263.7 139.6,263.7 139.9,263.8 140.1,263.8 140.4,263.7 140.6,263.7 140.9,263.8 141.1,263.7 141.4,263.8 141.6,263.8 141.9,263.7 142.1,263.7 142.4,263.8 142.6,263.8 142.9,263.7 143.1,263.8 143.4,263.7 143.6,263.7 143.9,263.8 144.1,263.7 144.4,263.8 144.6,263.7 144.9,263.8 145.1,263.7 145.4,263.8 145.6,263.7 145.9,263.8 146.1,263.7 146.4,263.8 146.6,263.6 146.9,263.7 147.1,263.7 147.4,263.7 147.6,263.7 147.9,263.8 148.1,263.6 148.4,263.7 148.6,263.8 148.9,263.7 149.1,263.7 149.4,263.8 149.6,263.7 149.9,263.7 150.1,263.8 150.4,263.7 150.6,263.7 150.9,263.8 151.1,263.7 151.4,263.7 151.6,263.7 151.9,263.8 152.1,263.8 152.4,263.6 152.6,263.8 152.9,263.7 153.1,263.7 153.4,263.8 153.6,263.6 153.9,263.8 154.1,263.7 154.4,263.7 154.6,263.6 154.9,263.7 155.1,263.6 155.4,263.7 155.6,263.7 155.9,263.6 156.1,263.6 156.4,263.7 156.6,263.7 156.9,263.6 157.1,263.7 157.4,263.8 157.6,263.8 157.9,263.5 158.1,263.7 158.4,263.7 158.6,263.7 158.9,263.6 159.1,263.7 159.4,263.6 159.6,263.6 159.9,263.7 160.1,263.7 160.4,263.6 160.6,263.8 160.9,263.6 161.1,263.8 161.4,263.6 161.6,263.7 161.9,263.5 162.1,263.7 162.4,263.6 162.6,263.7 162.9,263.5 163.1,263.7 163.4,263.5 163.6,263.6 163.9,263.7 164.1,263.6 164.4,263.7 164.6,263.8 164.9,263.4 165.1,263.7 165.4,263.5 165.6,263.6 165.9,263.6 166.1,263.5 166.4,263.7 166.6,263.6 166.9,263.7 167.1,263.8 167.4,263.3 167.6,263.7 167.9,263.5 168.1,263.6 168.4,263.4 168.6,263.5 168.9,263.6 169.1,263.6 169.4,263.3 169.6,263.5 169.9,263.6 170.1,263.8 170.4,263.5 170.6,263.6 170.9,263.5 171.1,263.8 171.4,263.5 171.6,263.7 171.9,263.3 172.1,263.7 172.4,263.5 172.6,263.7 172.9,263.4 173.1,263.3 173.4,263.6 173.6,263.7 173.9,263.3 174.1,263.3 174.4,263.9 174.6,263.2 174.9,263.6 175.1,263.3 175.4,263.6 175.6,263.1 175.9,263.7 176.1,263.2 176.4,263.6 176.6,263.9 176.9,263.6 177.1,263.7 177.4,263.2 177.6,263.1 177.9,263.6 178.1,263.4 178.4,263.8 178.6,263.3 178.9,263.5 179.1,263.7 179.4,263.3 179.6,263.2 179.9,263.8 180.1,263.5 180.4,263.0 180.6,263.0 180.9,263.4 181.1,263.5 181.4,263.0 181.6,263.0 181.9,263.5 182.1,263.8 182.4,263.2 182.6,263.6 182.9,263.2 183.1,263.1 183.4,263.4 183.6,263.4 183.9,263.1 184.1,263.7 184.4,263.2 184.6,263.8 184.9,262.9 185.1,262.8 185.4,263.9 185.6,263.5 185.9,262.8 186.1,263.9 186.4,262.6 186.6,262.5 186.9,263.9 187.1,263.4 187.4,262.3 187.6,263.6 187.9,262.4 188.1,262.6 188.4,263.9 188.6,262.6 188.9,263.5 189.1,262.9 189.4,263.6 189.6,263.2 189.9,262.4 190.1,263.0 190.4,263.6 190.6,263.7 190.9,262.7 191.1,262.5 191.4,263.5 191.6,263.8 191.9,263.0 192.1,262.8 192.4,263.1 192.6,263.8 192.9,262.0 193.1,263.5 193.4,262.2 193.6,263.3 193.9,262.6 194.1,263.5 194.4,262.7 194.6,263.3 194.9,262.8 195.1,263.2 195.4,262.0 195.6,262.6 195.9,263.0 196.1,261.7 196.4,262.8 196.6,262.5 196.9,263.6 197.1,263.3 197.4,262.0 197.6,263.6 197.9,261.7 198.1,263.0 198.4,262.3 198.6,262.7 198.9,262.0 199.1,263.8 199.4,262.1 199.6,261.5 199.9,262.4 200.1,261.4 200.4,262.7 200.6,262.0 200.9,262.6 201.1,261.1 201.4,263.8 201.6,261.2 201.9,263.1 202.1,261.1 202.4,262.4 202.6,261.6 202.9,262.8 203.1,262.5 203.4,261.3 203.6,261.5 203.9,263.4 204.1,263.9 204.4,261.7 204.6,263.5 204.9,260.9 205.1,263.0 205.4,262.1 205.6,261.3 205.9,262.8 206.1,262.0 206.4,263.4 206.6,262.6 206.9,261.6 207.1,263.2 207.4,261.9 207.6,262.5 207.9,260.6 208.1,261.7 208.4,262.3 208.6,261.5 208.9,263.4 209.1,263.2 209.4,260.9 209.6,260.8 209.9,262.2 210.1,260.1 210.4,262.1 210.6,261.0 210.9,262.4 211.1,261.3 211.4,262.7 211.6,261.6 211.9,261.2 212.1,262.5 212.4,260.8 212.6,261.7 212.9,260.6 213.1,261.9 213.4,261.1 213.6,260.2 213.9,261.6 214.1,260.4 214.4,262.0 214.6,262.6 214.9,260.9 215.1,259.0 215.4,261.1 215.6,259.9 215.9,262.1 216.1,260.6 216.4,261.5 216.6,261.4 216.9,260.1 217.1,261.9 217.4,260.8 217.6,261.9 217.9,259.9 218.1,259.7 218.4,260.8 218.6,260.0 218.9,261.8 219.1,262.0 219.4,258.9 219.6,261.3 219.9,259.3 220.1,259.4 220.4,260.6 220.6,260.6 220.9,259.7 221.1,260.0 221.4,261.6 221.6,260.5 221.9,258.8 222.1,258.3 222.4,261.1 222.6,260.9 222.9,258.9 223.1,259.0 223.4,260.5 223.6,261.7 223.9,259.6 224.1,257.9 224.4,260.4 224.6,260.6 224.9,258.3 225.1,261.2 225.4,258.0 225.6,261.4 225.9,258.7 226.1,259.9 226.4,258.8 226.6,259.7 226.9,256.9 227.1,256.2 227.4,259.6 227.6,261.4 227.9,258.3 228.1,257.2 228.4,258.4 228.6,259.8 228.9,257.2 229.1,258.9 229.4,259.5 229.6,257.2 229.9,259.7 230.1,257.5 230.4,256.4 230.6,257.7 230.9,258.4 231.2,258.2 231.4,257.1 231.6,257.8 231.9,255.9 232.1,259.2 232.4,254.5 232.7,256.3 232.9,255.7 233.1,254.1 233.4,257.1 233.6,257.9 233.8,254.1 234.1,256.1 234.4,259.2 234.7,256.6 234.9,257.3 235.1,256.8 235.4,253.9 235.7,256.6 235.9,252.0 236.1,255.5 236.4,254.8 236.6,254.3 236.8,255.9 237.1,256.9 237.4,253.4 237.7,254.8 237.9,255.0 237.7,255.2 237.9,247.6 238.1,255.2 238.2,256.9 238.4,253.0 238.6,255.7 238.9,256.4 239.1,254.8 239.4,252.7 239.6,253.7 239.9,253.3 240.1,253.5 240.4,251.6 240.6,255.1 240.9,252.3 241.1,253.5 241.4,252.5 241.6,251.3 241.9,252.4 242.2,257.3 242.4,253.6 242.7,253.8 243.0,254.6 243.3,253.7 243.6,252.0 243.8,253.4 244.1,251.3 244.4,251.9 244.7,252.2 245.0,253.6 245.3,253.1 245.6,252.0 245.9,251.8 246.2,252.8 246.6,246.0 246.9,251.7 247.2,249.6 247.5,249.9 247.8,251.9 248.2,252.6 248.5,251.5 248.9,248.0 249.2,251.5 249.6,246.8 249.9,251.0 250.3,250.6 250.6,247.4 251.0,246.6 251.4,247.1 251.7,249.1 252.1,244.9 252.5,250.0 252.9,247.1 253.3,246.5 253.7,244.5 254.1,244.1 254.5,241.9 255.0,241.5 255.4,245.8 255.8,239.4 256.3,243.9 256.7,243.4 257.2,235.8 257.7,237.0 258.1,240.1 258.6,234.8 259.1,240.0 259.6,238.5 260.1,234.5 260.6,234.1 261.2,236.2 261.7,229.4" fill="none" stroke="#00BA38" stroke-opacity="0.8" stroke-width="1.3" stroke-linejoin="round"/>
<polyline points="51.6,263.8 51.9,263.8 52.1,263.8 52.4,263.8 52.6,263.8 52.9,263.8 53.1,263.8 53.4,263.8 53.6,263.8 53.9,263.8 54.1,263.8 54.4,263.8 54.6,263.8 54.9,263.8 55.1,263.8 55.4,263.8 55.6,263.8 55.9,263.8 56.1,263.8 56.4,263.8 56.6,263.8 56.9,263.8 57.1,263.8 57.4,263.8 57.6,263.8 57.9,263.8 58.1,263.8 58.4,263.8 58.6,263.8 58.9,263.8 59.1,263.8 59.4,263.8 59.6,263.8 59.9,263.8 60.1,263.8 60.4,263.8 60.6,263.8 60.9,263.8 61.1,263.8 61.4,263.8 61.6,263.8 61.9,263.8 62.1,263.8 62.4,263.8 62.6,263.8 62.9,263.8 63.1,263.8 63.4,263.8 63.6,263.8 63.9,263.8 64.1,263.8 64.4,263.8 64.6,263.8 64.9,263.8 65.1,263.8 65.4,263.8 65.6,263.9 65.9,263.8 66.1,263.8 66.4,263.8 66.6,263.8 66.9,263.8 67.1,263.8 67.4,263.8 67.6,263.8 67.9,263.8 68.1,263.8 68.4,263.8 68.6,263.8 68.9,263.8 69.1,263.8 69.4,263.8 69.6,263.8 69.9,263.8 70.1,263.8 70.4,263.8 70.6,263.8 70.9,263.8 71.1,263.8 71.4,263.8 71.6,263.8 71.9,263.8 72.1,263.8 72.4,263.8 72.6,263.8 72.9,263.8 73.1,263.8 73.4,263.8 73.6,263.8 73.9,263.8 74.1,263.8 74.4,263.8 74.6,263.8 74.9,263.8 75.1,263.8 75.4,263.8 75.6,263.8 75.9,263.8 76.1,263.8 76.4,263.8 76.6,263.8 76.9,263.8 77.1,263.8 77.4,263.8 77.6,263.8 77.9,263.8 78.1,263.8 78.4,263.8 78.6,263.8 78.9,263.8 79.1,263.8 79.4,263.8 79.6,263.8 79.9,263.8 80.1,263.8 80.4,263.8 80.6,263.8 80.9,263.8 81.1,263.8 81.4,263.8 81.6,263.8 81.9,263.8 82.1,263.8 82.4,263.8 82.6,263.8 82.9,263.8 83.1,263.8 83.4,263.8 83.6,263.8 83.9,263.8 84.1,263.8 84.4,263.8 84.6,263.8 84.9,263.8 85.1,263.8 85.4,263.8 85.6,263.8 85.9,263.8 86.1,263.8 86.4,263.8 86.6,263.9 86.9,263.8 87.1,263.8 87.4,263.8 87.6,263.8 87.9,263.8 88.1,263.8 88.4,263.8 88.6,263.8 88.9,263.8 89.1,263.8 89.4,263.8 89.6,263.8 89.9,263.8 90.1,263.8 90.4,263.8 90.6,263.8 90.9,263.8 91.1,263.8 91.4,263.8 91.6,263.8 91.9,263.8 92.1,263.8 92.4,263.8 92.6,263.8 92.9,263.8 93.1,263.8 93.4,263.8 93.6,263.8 93.9,263.8 94.1,263.8 94.4,263.8 94.6,263.8 94.9,263.8 95.1,263.8 95.4,263.8 95.6,263.8 95.9,263.8 96.1,263.8 96.4,263.8 96.6,263.8 96.9,263.8 97.1,263.8 97.4,263.8 97.6,263.8 97.9,263.8 98.1,263.8 98.4,263.8 98.6,263.8 98.9,263.8 99.1,263.8 99.4,263.8 99.6,263.8 99.9,263.8 100.1,263.8 100.4,263.8 100.6,263.8 100.9,263.8 101.1,263.8 101.4,263.8 101.6,263.8 101.9,263.8 102.1,263.8 102.4,263.8 102.6,263.8 102.9,263.8 103.1,263.8 103.4,263.8 103.6,263.8 103.9,263.8 104.1,263.8 104.4,263.8 104.6,263.8 104.9,263.8 105.1,263.8 105.4,263.8 105.6,263.8 105.9,263.8 106.1,263.8 106.4,263.8 106.6,263.8 106.9,263.8 107.1,263.8 107.4,263.8 107.6,263.8 107.9,263.8 108.1,263.8 108.4,263.8 108.6,263.8 108.9,263.8 109.1,263.8 109.4,263.8 109.6,263.8 109.9,263.8 110.1,263.8 110.4,263.8 110.6,263.8 110.9,263.8 111.1,263.8 111.4,263.8 111.6,263.8 111.9,263.8 112.1,263.8 112.4,263.8 112.6,263.8 112.9,263.8 113.1,263.8 113.4,263.8 113.6,263.8 113.9,263.8 114.1,263.8 114.4,263.8 114.6,263.8 114.9,263.8 115.1,263.8 115.4,263.8 115.6,263.8 115.9,263.8 116.1,263.8 116.4,263.8 116.6,263.8 116.9,263.8 117.1,263.8 117.4,263.8 117.6,263.8 117.9,263.8 118.1,263.8 118.4,263.8 118.6,263.8 118.9,263.8 119.1,263.8 119.4,263.8 119.6,263.8 119.9,263.8 119.8,263.8 120.0,262.5 120.2,263.8 120.1,263.8 120.4,263.8 120.6,263.8 120.9,263.8 121.1,263.8 121.4,263.8 121.6,263.7 121.9,263.8 122.1,263.8 122.4,263.8 122.6,263.8 122.9,263.8 123.1,263.8 123.4,263.8 123.6,263.7 123.9,263.8 124.1,263.8 124.4,263.8 124.6,263.8 124.9,263.8 125.1,263.8 125.4,263.8 125.6,263.8 125.9,263.8 126.1,263.8 126.4,263.8 126.6,263.7 126.9,263.8 127.1,263.8 127.4,263.8 127.6,263.8 127.9,263.8 128.1,263.8 128.4,263.8 128.6,263.8 128.9,263.8 129.1,263.8 129.4,263.7 129.6,263.7 129.9,263.8 130.1,263.7 130.4,263.8 130.6,263.8 130.9,263.8 131.1,263.8 131.4,263.8 131.6,263.8 131.9,263.8 132.1,263.8 132.4,263.8 132.6,263.8 132.9,263.7 133.1,263.7 133.4,263.8 133.6,263.8 133.9,263.8 134.1,263.7 134.4,263.8 134.6,263.7 134.9,263.8 135.1,263.7 135.4,263.8 135.6,263.7 135.9,263.8 136.1,263.7 136.4,263.8 136.6,263.8 136.9,263.8 137.1,263.7 137.4,263.8 137.6,263.7 137.9,263.8 138.1,263.7 138.4,263.8 138.6,263.8 138.9,263.7 139.1,263.8 139.4,263.7 139.6,263.8 139.9,263.7 140.1,263.8 140.4,263.8 140.6,263.8 140.9,263.7 141.1,263.7 141.4,263.8 141.6,263.8 141.9,263.7 142.1,263.8 142.4,263.7 142.6,263.7 142.9,263.8 143.1,263.8 143.4,263.7 143.6,263.7 143.9,263.8 144.1,263.7 144.4,263.7 144.6,263.7 144.9,263.8 145.1,263.8 145.4,263.7 145.6,263.7 145.9,263.8 146.1,263.8 146.4,263.7 146.6,263.7 146.9,263.8 147.1,263.8 147.4,263.7 147.6,263.7 147.9,263.8 148.1,263.8 148.4,263.7 148.6,263.7 148.9,263.8 149.1,263.7 149.4,263.8 149.6,263.6 149.9,263.8 150.1,263.7 150.4,263.7 150.6,263.8 150.9,263.7 151.1,263.6 151.4,263.7 151.6,263.7 151.9,263.6 152.1,263.8 152.4,263.7 152.6,263.7 152.9,263.8 153.1,263.7 153.4,263.8 153.6,263.8 153.9,263.6 154.1,263.7 154.4,263.6 154.6,263.6 154.9,263.8 155.1,263.7 155.4,263.6 155.6,263.7 155.9,263.6 156.1,263.8 156.4,263.7 156.6,263.7 156.9,263.6 157.1,263.5 157.4,263.8 157.6,263.7 157.9,263.6 158.1,263.4 158.4,263.7 158.6,263.7 158.9,263.7 159.1,263.6 159.4,263.7 159.6,263.6 159.9,263.7 160.1,263.5 160.4,263.7 160.6,263.5 160.9,263.7 161.1,263.7 161.4,263.5 161.6,263.5 161.9,263.7 162.1,263.6 162.4,263.7 162.6,263.5 162.9,263.8 163.1,263.7 163.4,263.5 163.6,263.6 163.9,263.5 164.1,263.7 164.4,263.4 164.6,263.5 164.9,263.7 165.1,263.6 165.4,263.5 165.6,263.8 165.9,263.3 166.1,263.4 166.4,263.7 166.6,263.6 166.9,263.6 167.1,263.5 167.4,263.7 167.6,263.6 167.9,263.7 168.1,263.6 168.4,263.4 168.6,263.7 168.9,263.5 169.1,263.4 169.4,263.7 169.6,263.5 169.9,263.8 170.1,263.4 170.4,263.7 170.6,263.6 170.9,263.5 171.1,263.4 171.4,263.8 171.6,263.2 171.9,263.6 171.8,263.5 172.0,260.4 172.2,263.5 172.1,263.6 172.4,263.4 172.6,263.4 172.9,263.7 173.1,263.3 173.4,263.8 173.6,263.7 173.9,263.2 174.1,263.2 174.4,263.6 174.6,263.3 174.9,263.6 175.1,263.2 175.4,263.5 175.6,263.5 175.9,263.3 176.1,263.8 176.4,263.2 176.6,263.0 176.9,263.8 177.1,263.5 177.4,263.2 177.6,263.4 177.9,263.3 178.1,263.5 178.4,263.3 178.6,263.0 178.9,263.4 179.1,263.5 179.4,263.0 179.6,263.4 179.9,263.7 180.1,263.6 180.4,263.1 180.6,262.9 180.9,263.3 181.1,263.1 181.4,263.8 181.6,263.0 181.9,263.2 182.1,263.4 182.4,262.8 182.6,263.5 182.9,262.8 183.1,262.7 183.4,263.6 183.6,263.5 183.9,263.0 184.1,262.8 184.4,263.4 184.6,263.2 184.9,262.2 185.1,263.3 185.4,263.9 185.6,263.8 185.9,263.0 186.1,262.8 186.4,263.8 186.6,263.7 186.9,263.3 187.1,263.6 187.4,262.3 187.6,262.8 187.9,263.9 188.1,261.9 188.4,263.4 188.6,263.5 188.9,262.6 189.1,263.6 189.4,262.2 189.6,263.3 189.9,262.7 190.1,262.4 190.4,263.4 190.6,262.4 190.9,263.3 191.1,262.0 191.4,263.9 191.6,262.3 191.9,263.5 192.1,263.3 192.4,262.6 192.6,262.8 192.9,262.2 193.1,263.3 193.4,262.3 193.6,263.1 193.9,262.3 194.1,262.3 194.4,263.2 194.6,263.6 194.9,261.6 195.1,261.9 195.4,263.2 195.6,263.6 195.9,262.1 196.1,262.7 196.4,262.2 196.6,262.7 196.9,263.0 197.1,263.1 197.4,262.4 197.6,261.7 197.9,263.3 198.1,263.4 198.4,261.9 198.6,263.8 198.9,262.4 199.1,263.4 199.4,261.6 199.6,262.2 199.9,263.4 200.1,262.1 200.4,262.9 200.6,261.8 200.9,262.7 201.1,261.3 201.4,262.4 201.6,262.0 201.9,263.5 202.1,261.9 202.4,263.1 202.6,261.7 202.9,262.6 203.1,260.6 203.4,262.2 203.6,261.1 203.9,262.7 204.1,262.6 204.4,261.8 204.6,262.6 204.9,261.2 204.8,262.0 205.0,260.6 205.2,262.0 205.1,262.9 205.4,260.4 205.6,262.7 205.9,261.3 206.1,263.1 206.4,261.0 206.6,262.3 206.9,261.8 207.1,260.9 207.4,262.3 207.6,261.6 207.9,262.9 208.1,262.6 208.4,260.8 208.6,261.6 208.9,262.8 209.1,260.9 209.4,262.5 209.6,261.6 209.9,261.1 210.1,261.2 210.4,262.1 210.6,262.3 210.9,260.6 211.1,263.0 211.4,261.7 211.6,263.4 211.9,259.9 212.1,261.9 212.4,260.8 212.6,262.0 212.9,260.3 213.1,262.9 213.4,260.8 213.6,260.3 213.9,261.8 213.7,261.0 213.9,256.6 214.1,261.0 214.1,259.9 214.4,261.6 214.6,259.0 214.9,261.5 215.1,261.2 215.4,259.2 215.6,262.4 215.9,259.9 215.8,260.6 216.0,255.7 216.2,260.6 216.1,258.4 216.4,261.3 216.6,261.8 216.9,259.1 217.1,261.8 217.4,258.8 217.6,260.2 217.9,261.1 218.1,258.8 218.4,259.8 218.6,260.6 218.9,260.0 219.1,261.5 219.4,259.3 219.6,261.5 219.9,257.8 220.1,259.3 220.4,260.3 220.6,259.0 220.9,261.7 221.1,260.7 221.4,259.0 221.6,260.5 221.9,257.9 222.1,257.7 222.4,260.3 222.6,259.9 222.9,258.2 223.1,261.4 223.4,257.9 223.6,258.1 223.9,259.9 224.1,259.7 224.4,258.4 224.6,259.1 224.9,257.9 224.8,258.7 225.0,257.1 225.2,258.7 225.1,261.7 225.4,256.9 225.6,257.5 225.9,260.0 226.1,259.3 226.4,257.7 226.6,255.7 226.9,258.6 227.1,258.5 227.4,259.2 227.6,258.4 227.9,259.2 228.1,259.5 228.4,257.1 228.6,257.6 228.9,260.6 228.8,257.5 229.0,253.0 229.2,257.5 229.1,256.7 229.4,258.4 229.6,257.3 229.9,257.9 230.1,256.3 230.4,254.5 230.6,256.3 230.9,255.5 231.2,255.7 231.4,259.9 231.6,257.6 231.9,256.4 232.1,255.4 232.4,256.5 232.7,258.4 232.9,256.5 232.8,256.1 233.0,183.8 233.2,256.1 233.1,253.1 233.4,255.3 233.6,254.5 233.8,256.2 234.1,253.4 234.4,257.1 234.7,252.9 234.9,253.9 235.1,254.8 235.4,256.7 235.7,254.6 235.9,253.6 236.1,253.6 236.4,255.0 236.6,252.5 236.8,256.0 237.1,253.7 237.4,255.6 237.7,253.3 237.9,253.2 237.7,253.8 237.9,245.4 238.1,253.8 238.2,252.6 238.4,255.5 238.6,253.8 238.9,254.3 239.1,251.5 239.4,249.5 239.6,252.4 239.9,252.1 240.1,252.8 240.4,251.9 240.6,250.6 240.9,253.6 241.1,252.4 241.4,251.3 241.6,251.7 241.9,252.5 242.2,251.7 242.4,251.8 242.7,250.2 243.0,250.2 243.3,252.6 243.6,246.5 243.8,248.9 244.1,252.1 244.4,250.4 244.7,252.5 245.0,248.6 245.3,249.5 245.6,250.7 245.9,245.6 246.2,246.4 246.6,248.2 246.9,245.4 247.2,247.8 247.5,250.9 247.8,245.3 248.2,246.2 248.5,249.9 248.9,245.9 249.2,243.0 249.6,247.2 249.9,245.2 250.3,245.0 250.6,244.1 251.0,240.4 251.4,242.4 251.7,239.8 252.1,243.8 252.5,243.8 252.9,242.8 253.3,238.7 253.7,241.3 254.1,243.6 254.5,241.2 255.0,245.1 255.4,237.4 255.8,245.1 256.3,237.4 256.7,237.9 257.2,236.1 257.7,243.7 258.1,232.7 258.6,231.2 259.1,228.6 259.6,233.8 260.1,228.1 260.6,234.3 261.2,228.8 261.7,229.0" fill="none" stroke="#619CFF" stroke-opacity="0.8" stroke-width="1.3" stroke-linejoin="round"/>
<polyline points="328.0,229.9 328.6,229.3 329.1,225.3 329.6,236.9 330.1,236.6 330.6,233.6 331.1,237.8 331.6,236.6 332.1,234.6 332.6,242.0 333.1,240.3 333.5,241.6 334.0,240.4 334.4,242.6 334.9,241.6 335.3,240.8 335.7,242.8 336.1,241.2 336.5,240.8 337.0,245.6 337.4,243.1 337.7,243.6 338.1,244.1 338.5,245.3 338.9,241.5 339.3,245.2 339.6,244.0 340.0,241.4 340.4,247.9 340.7,242.0 341.1,246.2 341.4,246.2 341.8,245.3 342.1,247.6 342.4,247.7 342.7,246.1 343.1,249.5 343.4,248.9 343.7,246.2 344.0,250.4 344.3,250.2 344.6,247.6 344.9,251.2 345.2,249.6 345.5,247.9 345.8,249.6 346.1,251.2 346.4,250.1 346.7,252.4 347.0,253.4 347.3,248.8 347.5,253.7 347.8,252.1 348.1,249.4 348.4,251.7 348.6,252.4 348.9,251.8 349.1,252.7 349.4,249.7 349.7,250.9 349.9,255.6 350.2,252.2 350.4,252.0 350.7,254.1 350.9,253.4 351.2,254.0 351.4,251.6 351.6,251.5 351.9,250.6 352.1,253.9 352.3,251.9 352.6,253.1 352.8,252.2 353.1,252.8 353.4,256.3 353.7,253.9 353.9,253.9 354.1,255.7 354.3,254.1 354.6,254.8 354.9,253.4 355.2,255.2 355.4,253.2 355.6,258.9 355.8,258.6 356.1,255.9 356.4,254.8 356.6,256.0 356.8,257.7 356.6,255.9 356.8,193.7 357.0,255.9 357.1,255.3 357.4,257.0 357.6,256.3 357.9,255.5 358.2,257.4 358.3,257.1 358.6,256.7 358.9,256.9 359.1,259.6 359.4,257.2 359.6,257.1 359.9,258.3 360.2,257.2 360.3,256.3 360.6,258.2 360.9,257.2 361.1,256.3 361.4,258.7 361.6,257.5 361.9,256.9 362.1,260.4 362.4,257.7 362.6,259.6 362.9,256.5 363.1,256.4 363.4,260.9 363.6,256.5 363.9,258.5 364.1,259.6 364.4,258.1 364.6,261.4 364.9,257.8 365.1,260.8 365.4,258.8 365.6,260.4 365.9,258.4 366.1,260.1 366.4,258.8 366.6,258.4 366.9,259.3 367.1,259.3 367.4,260.7 367.6,258.2 367.9,260.3 368.1,258.6 368.4,260.8 368.6,260.8 368.9,259.2 369.1,260.5 369.4,258.6 369.6,261.1 369.9,258.7 370.1,260.3 370.4,261.0 370.6,260.7 370.9,259.5 371.1,261.2 371.4,257.9 371.6,260.6 371.9,259.6 372.1,258.1 372.4,260.8 372.6,260.2 372.9,261.9 373.1,259.0 373.4,260.8 373.6,259.7 373.9,262.1 374.1,261.1 374.4,259.4 374.6,260.4 374.9,260.2 375.1,260.3 375.4,261.2 375.6,261.9 375.9,259.3 376.1,259.9 376.4,260.7 376.6,261.0 376.9,261.8 377.1,261.7 377.4,260.5 377.6,261.8 377.9,259.7 378.1,261.2 378.4,260.2 378.6,260.5 378.9,261.8 379.1,262.3 379.4,260.3 379.6,262.9 379.9,259.6 380.1,261.7 380.4,259.4 380.6,259.8 380.9,262.7 381.1,261.8 381.4,259.8 381.6,260.1 381.9,262.2 382.1,261.8 382.4,260.7 382.6,258.9 382.9,261.3 383.1,261.8 383.4,260.5 383.6,260.9 383.9,262.1 384.1,262.0 384.4,261.2 384.6,261.9 384.9,259.9 385.1,260.3 385.4,261.6 385.6,261.5 385.9,260.7 386.1,260.9 386.4,262.3 386.6,263.2 386.9,261.3 387.1,262.5 387.4,260.8 387.6,260.8 387.9,262.3 388.1,262.1 388.4,260.5 388.6,262.2 388.9,260.6 389.1,262.5 389.4,260.6 389.6,262.2 389.9,260.7 390.1,262.1 390.4,261.0 390.6,262.3 390.9,260.9 391.1,262.4 391.4,261.1 391.6,263.0 391.9,260.2 392.1,261.5 392.4,262.8 392.6,261.1 392.9,262.3 393.1,260.3 393.4,262.1 393.6,260.3 393.9,262.0 394.1,262.6 394.4,260.6 394.6,261.3 394.9,262.9 395.1,262.4 395.4,261.6 395.6,262.8 395.9,261.5 396.1,262.8 396.4,261.4 396.6,261.5 396.9,263.4 397.1,261.8 397.4,262.6 397.6,262.7 397.9,261.6 398.1,260.8 398.4,262.6 398.6,262.4 398.9,263.0 399.1,261.8 399.4,262.7 399.6,262.2 399.9,263.0 400.1,262.8 400.4,261.2 400.6,262.3 400.9,261.4 401.1,262.2 401.4,260.8 401.6,261.6 401.9,262.6 402.1,262.5 402.4,261.5 402.6,263.0 402.9,262.2 403.1,262.4 403.4,261.6 403.6,263.0 403.9,261.8 404.1,261.9 404.4,263.0 404.6,262.5 404.9,261.9 405.1,261.6 405.4,262.5 405.6,261.4 405.9,262.1 406.1,261.8 406.4,262.6 406.6,261.6 406.9,263.2 407.1,263.4 407.4,261.6 407.6,262.9 407.9,261.9 408.1,261.5 408.4,263.7 408.6,261.9 408.9,262.9 409.1,261.1 409.4,263.0 409.6,263.1 409.9,261.9 410.1,262.2 410.4,262.8 410.6,262.7 410.9,263.1 411.1,262.5 411.4,261.5 411.6,262.7 411.9,262.3 412.1,262.7 412.4,262.1 412.6,262.7 412.9,261.9 413.1,263.3 413.4,261.8 413.6,263.0 413.9,261.9 414.1,262.7 414.4,261.6 414.6,263.3 414.9,262.4 415.1,262.6 415.4,263.3 415.6,262.6 415.9,262.1 416.1,263.4 416.4,263.0 416.6,263.7 416.9,262.8 417.1,263.1 417.4,262.3 417.6,261.8 417.9,263.0 418.1,261.7 418.4,263.8 418.6,263.5 418.9,262.2 419.1,261.9 419.4,263.1 419.6,262.8 419.9,263.2 420.1,262.8 420.4,263.5 420.6,262.0 420.9,263.4 421.1,262.5 421.4,263.4 421.6,263.6 421.9,262.0 422.1,263.0 422.4,261.9 422.6,263.5 422.9,262.5 423.1,262.3 423.4,262.9 423.6,263.0 423.9,262.5 424.1,262.3 424.4,262.9 424.6,263.3 424.9,262.4 425.1,263.5 425.4,262.5 425.6,262.5 425.9,263.8 426.1,263.3 426.4,262.6 426.6,263.3 426.9,262.2 427.1,263.4 427.4,262.6 427.6,262.6 427.9,263.4 428.1,262.7 428.4,263.4 428.6,262.8 428.9,263.4 429.1,263.3 429.4,263.7 429.6,262.9 429.9,263.6 430.1,262.7 430.4,263.3 430.6,263.6 430.9,263.0 431.1,263.7 431.4,262.5 431.6,263.8 431.9,262.6 432.1,263.2 432.4,263.5 432.6,263.0 432.9,263.3 433.1,262.7 433.4,263.5 433.6,262.9 433.9,263.4 434.1,262.9 434.4,263.1 434.6,263.2 434.9,263.7 435.1,263.4 435.4,262.7 435.6,262.9 435.9,263.3 436.1,263.0 436.4,263.2 436.6,263.2 436.9,262.9 437.1,262.9 437.4,263.1 437.6,263.3 437.9,262.9 438.1,263.6 438.4,263.1 438.6,263.0 438.9,263.6 439.1,263.1 439.4,263.4 439.6,263.0 439.9,263.5 440.1,263.2 440.4,263.4 440.6,263.7 440.9,263.3 441.1,263.7 441.4,263.2 441.6,263.3 441.9,263.7 442.1,263.3 442.4,263.0 442.6,263.3 442.9,263.2 443.1,263.1 443.4,263.7 443.6,263.0 443.9,263.5 444.1,263.4 444.4,263.5 444.6,263.7 444.9,263.3 445.1,263.3 445.4,263.4 445.6,263.3 445.9,263.6 446.1,263.6 446.4,263.2 446.6,263.3 446.9,263.8 447.1,263.6 447.4,263.4 447.6,263.4 447.9,263.6 448.1,263.6 448.4,263.3 448.6,263.6 448.9,263.4 449.1,263.4 449.4,263.5 449.6,263.4 449.9,263.6 450.1,263.3 450.4,263.5 450.6,263.3 450.9,263.5 451.1,263.6 451.4,263.4 451.6,263.4 451.9,263.6 452.1,263.8 452.4,263.3 452.6,263.6 452.9,263.4 453.1,263.7 453.4,263.4 453.6,263.6 453.9,263.5 454.1,263.6 454.4,263.4 454.6,263.6 454.9,263.3 455.1,263.6 455.4,263.4 455.6,263.5 455.9,263.4 456.1,263.6 456.4,263.4 456.6,263.6 456.9,263.4 457.1,263.5 457.4,263.6 457.6,263.7 457.9,263.5 458.1,263.5 458.4,263.5 458.6,263.5 458.9,263.6 459.1,263.6 459.4,263.5 459.6,263.5 459.9,263.6 460.1,263.6 460.4,263.5 460.6,263.5 460.9,263.6 461.1,263.5 461.4,263.6 461.6,263.6 461.9,263.5 462.1,263.5 462.4,263.6 462.6,263.6 462.9,263.6 463.1,263.4 463.4,263.7 463.6,263.5 463.9,263.6 464.1,263.6 464.4,263.4 464.6,263.5 464.9,263.7 465.1,263.5 465.4,263.7 465.6,263.7 465.9,263.6 466.1,263.6 466.4,263.6 466.6,263.6 466.9,263.6 467.1,263.6 467.4,263.7 467.6,263.6 467.9,263.6 468.1,263.6 468.4,263.6 468.6,263.6 468.9,263.6 469.1,263.6 469.4,263.5 469.6,263.6 469.9,263.6 470.1,263.6 470.4,263.7 470.6,263.6 470.9,263.6 471.1,263.7 471.4,263.5 471.6,263.6 471.9,263.6 472.1,263.5 472.4,263.6 472.6,263.6 472.9,263.7 473.1,263.7 473.4,263.6 473.6,263.6 473.9,263.6 474.1,263.6 474.4,263.7 474.6,263.5 474.9,263.7 475.1,263.7 475.4,263.6 475.6,263.6 475.9,263.6 476.1,263.6 476.4,263.7 476.6,263.6 476.9,263.6 477.1,263.6 477.4,263.7 477.6,263.6 477.9,263.7 478.1,263.7 478.4,263.6 478.6,263.6 478.9,263.7 479.1,263.7 479.4,263.6 479.6,263.7 479.9,263.6 480.1,263.7 480.4,263.6 480.6,263.6 480.9,263.7 481.1,263.6 481.4,263.7 481.6,263.7 481.9,263.7 482.1,263.6 482.4,263.7 482.6,263.6 482.9,263.7 483.1,263.7 483.4,263.6 483.6,263.6 483.9,263.7 484.1,263.6 484.4,263.7 484.6,263.7 484.9,263.7 485.1,263.7 485.4,263.7 485.6,263.7 485.9,263.7 486.1,263.7 486.4,263.6 486.6,263.7 486.9,263.7 487.1,263.7 487.4,263.6 487.6,263.7 487.9,263.6 488.1,263.6 488.4,263.7 488.6,263.7 488.9,263.7 489.1,263.6 489.4,263.7 489.6,263.7 489.9,263.7 490.1,263.7 490.4,263.6 490.6,263.7 490.9,263.7 491.1,263.7 491.4,263.7 491.6,263.7 491.9,263.7" fill="none" stroke="#F8766D" stroke-opacity="0.8" stroke-width="1.3" stroke-linejoin="round"/>
<polyline points="328.0,238.9 328.6,240.0 329.1,240.7 329.6,238.9 330.1,244.0 330.6,242.5 331.1,241.4 331.6,241.4 332.1,245.4 332.6,244.8 333.1,243.2 333.5,245.5 334.0,248.4 334.4,247.8 334.9,248.2 335.3,246.8 335.7,246.5 336.1,246.0 336.5,251.4 337.0,252.0 337.4,253.0 337.7,250.3 338.1,250.3 338.5,251.4 338.9,251.2 339.3,249.5 339.6,251.7 340.0,253.7 340.4,255.0 340.7,253.9 341.1,252.8 341.4,252.4 341.8,253.9 342.1,253.2 342.4,251.8 342.7,251.4 343.1,254.0 343.4,252.6 343.7,254.3 344.0,253.2 344.3,257.2 344.6,254.4 344.9,253.8 345.2,252.8 345.5,253.4 345.8,254.9 346.1,255.8 346.4,255.8 346.7,256.6 347.0,257.7 347.3,255.9 347.5,257.0 347.8,255.6 348.1,254.5 348.4,256.3 348.6,258.2 348.9,254.9 349.1,252.9 349.4,254.5 349.7,259.5 349.9,254.8 350.2,255.3 350.4,256.0 350.7,256.3 350.9,255.7 351.2,256.4 351.4,257.1 351.6,259.4 351.9,258.8 352.1,256.7 352.3,255.9 352.6,256.7 352.8,257.3 353.1,256.0 353.4,257.5 353.7,257.0 353.9,259.3 354.1,257.9 354.3,258.6 354.6,259.0 354.9,257.9 355.2,258.1 355.4,258.7 355.6,257.2 355.8,257.1 356.1,257.1 356.4,257.7 356.6,260.0 356.8,258.2 356.6,258.8 356.8,202.4 357.0,258.8 357.1,258.0 357.4,259.8 357.6,256.8 357.9,258.7 358.2,259.7 358.3,258.6 358.6,258.2 358.9,261.0 359.1,259.2 359.4,259.9 359.6,259.0 359.9,259.8 360.2,259.1 360.3,257.9 360.6,258.7 360.9,259.0 361.1,258.6 361.4,261.5 361.6,259.8 361.9,257.7 362.1,259.5 362.4,259.9 362.6,261.3 362.9,259.2 363.1,259.3 363.4,260.3 363.6,260.0 363.9,260.5 364.1,258.5 364.4,261.0 364.6,261.4 364.9,259.9 365.1,260.7 365.4,259.5 365.6,261.4 365.9,260.6 366.1,261.4 366.4,259.6 366.6,258.2 366.9,260.9 367.1,259.6 367.4,261.1 367.6,260.9 367.9,260.5 368.1,261.7 368.4,259.6 368.6,261.4 368.9,261.9 369.1,260.4 369.4,261.1 369.6,261.5 369.9,260.6 370.1,259.2 370.4,261.5 370.6,261.4 370.9,259.7 371.1,261.3 371.4,258.5 371.6,260.9 371.9,263.1 372.1,261.0 372.4,260.5 372.6,260.2 372.9,261.7 373.1,260.1 373.4,261.2 373.6,261.9 373.9,260.6 374.1,260.4 374.4,261.4 374.6,260.3 374.9,261.8 375.1,262.1 375.4,260.3 375.6,261.0 375.9,262.4 376.1,260.5 376.4,261.9 376.6,260.7 376.9,262.9 377.1,261.2 377.4,260.1 377.6,262.0 377.9,260.5 378.1,261.9 378.4,260.3 378.6,261.7 378.9,260.9 379.1,260.4 379.4,262.1 379.6,261.2 379.9,260.7 380.1,261.9 380.4,259.9 380.6,262.0 380.9,260.0 381.1,261.0 381.4,260.4 381.6,259.7 381.9,262.3 382.1,260.5 382.4,262.6 382.6,263.2 382.9,260.9 383.1,261.5 383.4,262.1 383.6,262.2 383.9,260.7 384.1,262.5 384.4,260.6 384.6,262.3 384.9,260.4 385.1,262.0 385.4,262.4 385.6,261.5 385.9,262.2 386.1,260.7 386.4,262.0 386.6,261.0 386.9,262.1 387.1,262.7 387.4,261.6 387.6,261.5 387.9,260.6 388.1,261.8 388.4,261.2 388.6,262.6 388.9,261.1 389.1,262.8 389.4,260.7 389.6,262.1 389.9,261.5 390.1,260.8 390.4,263.2 390.6,261.2 390.9,262.6 391.1,260.2 391.4,262.8 391.6,262.2 391.9,261.4 392.1,261.5 392.4,262.9 392.6,260.7 392.9,262.6 393.1,263.4 393.4,261.0 393.6,260.7 393.9,262.3 394.1,260.4 394.4,263.3 394.6,261.3 394.9,262.3 395.1,261.8 395.4,262.5 395.6,262.5 395.9,261.8 396.1,262.3 396.4,260.9 396.6,262.9 396.9,261.6 397.1,262.6 397.4,261.4 397.6,263.1 397.9,261.2 398.1,262.0 398.4,263.0 398.6,262.4 398.9,262.8 399.1,262.7 399.4,261.0 399.6,261.5 399.9,262.9 400.1,262.4 400.4,261.5 400.6,262.0 400.9,262.7 401.1,263.2 401.4,262.0 401.6,262.4 401.9,261.5 402.1,262.9 402.4,261.9 402.6,261.3 402.9,262.1 403.1,261.6 403.4,262.6 403.6,262.5 403.9,261.3 404.1,261.8 404.4,263.1 404.6,263.0 404.9,262.2 405.1,262.1 405.4,262.6 405.6,262.8 405.9,261.9 406.1,262.8 406.4,262.2 406.6,262.4 406.9,263.0 407.1,262.4 407.4,261.8 407.6,261.7 407.9,263.2 408.1,261.8 408.4,262.9 408.6,262.8 408.9,262.0 409.1,261.5 409.4,263.3 409.6,261.3 409.9,262.2 410.1,263.8 410.4,262.6 410.6,263.6 410.9,263.1 411.1,262.5 411.4,261.9 411.6,262.5 411.9,261.4 412.1,263.3 412.4,261.4 412.6,263.8 412.9,261.8 413.1,263.0 413.4,262.5 413.6,262.9 413.9,262.1 414.1,263.6 414.4,262.3 414.6,262.2 414.9,262.6 415.1,262.3 415.4,263.7 415.6,262.6 415.9,261.5 416.1,262.2 416.4,263.8 416.6,263.1 416.9,262.7 417.1,262.6 417.4,262.3 417.6,262.5 417.9,262.9 418.1,263.2 418.4,262.4 418.6,263.3 418.9,261.8 419.1,263.7 419.4,262.6 419.6,262.9 419.9,262.6 420.1,263.5 420.4,262.6 420.6,263.3 420.9,261.9 421.1,262.3 421.4,263.4 421.6,263.0 421.9,262.1 422.1,262.2 422.4,263.5 422.6,263.7 422.9,262.1 423.1,262.6 423.4,263.4 423.6,262.7 423.9,263.1 424.1,261.7 424.4,262.8 424.6,262.4 424.9,263.3 425.1,262.0 425.4,262.9 425.6,262.8 425.9,263.5 426.1,262.8 426.4,263.1 426.6,263.5 426.9,262.7 427.1,263.5 427.4,262.7 427.6,262.6 427.9,263.0 428.1,262.8 428.4,263.4 428.6,263.2 428.9,262.7 429.1,262.9 429.4,263.1 429.6,262.5 429.9,263.2 430.1,263.1 430.4,262.7 430.6,262.7 430.9,263.4 431.1,262.6 431.4,263.6 431.6,262.8 431.9,263.4 432.1,263.4 432.4,262.5 432.6,263.3 432.9,262.5 433.1,263.5 433.4,263.3 433.6,263.5 433.9,262.8 434.1,263.1 434.4,263.3 434.6,263.6 434.9,262.7 435.1,263.5 435.4,263.0 435.6,263.4 435.9,262.9 436.1,263.5 436.4,262.8 436.6,263.3 436.9,262.9 437.1,263.0 437.4,263.5 437.6,263.5 437.9,262.7 438.1,263.2 438.4,263.6 438.6,263.0 438.9,263.6 439.1,263.5 439.4,263.2 439.6,263.4 439.9,263.0 440.1,263.2 440.4,263.3 440.6,263.0 440.9,263.4 441.1,263.0 441.4,263.4 441.6,263.4 441.9,262.9 442.1,263.6 442.4,263.2 442.6,263.5 442.9,263.1 443.1,263.3 443.4,263.5 443.6,263.6 443.9,263.1 444.1,263.5 444.4,263.2 444.6,263.4 444.9,263.5 445.1,263.6 445.4,263.4 445.6,263.3 445.9,263.7 446.1,263.6 446.4,263.4 446.6,263.8 446.9,263.1 447.1,263.5 447.4,263.2 447.6,263.2 447.9,263.6 448.1,263.4 448.4,263.2 448.6,263.3 448.9,263.5 449.1,263.4 449.4,263.6 449.6,263.5 449.9,263.3 450.1,263.5 450.4,263.3 450.6,263.3 450.9,263.8 451.1,263.3 451.4,263.6 451.6,263.7 451.9,263.4 452.1,263.7 452.4,263.5 452.6,263.6 452.9,263.4 453.1,263.6 453.4,263.4 453.6,263.6 453.9,263.4 454.1,263.4 454.4,263.5 454.6,263.4 454.9,263.6 455.1,263.5 455.4,263.6 455.6,263.5 455.9,263.6 456.1,263.4 456.4,263.6 456.6,263.4 456.9,263.6 457.1,263.7 457.4,263.5 457.6,263.7 457.9,263.5 458.1,263.5 458.4,263.6 458.6,263.6 458.9,263.5 459.1,263.5 459.4,263.7 459.6,263.6 459.9,263.5 460.1,263.6 460.4,263.5 460.6,263.6 460.9,263.6 461.1,263.6 461.4,263.6 461.6,263.6 461.9,263.7 462.1,263.7 462.4,263.5 462.6,263.6 462.9,263.6 463.1,263.5 463.4,263.7 463.6,263.6 463.9,263.7 464.1,263.6 464.4,263.7 464.6,263.6 464.9,263.6 465.1,263.6 465.4,263.7 465.6,263.7 465.9,263.6 466.1,263.6 466.4,263.7 466.6,263.7 466.9,263.6 467.1,263.6 467.4,263.7 467.6,263.6 467.9,263.7 468.1,263.6 468.4,263.7 468.6,263.7 468.9,263.6 469.1,263.7 469.4,263.7 469.6,263.7 469.9,263.7 470.1,263.6 470.4,263.7 470.6,263.7 470.9,263.6 471.1,263.7 471.4,263.6 471.6,263.7 471.9,263.6 472.1,263.6 472.4,263.7 472.6,263.7 472.9,263.7 473.1,263.7 473.4,263.6 473.6,263.7 473.9,263.7" fill="none" stroke="#00BA38" stroke-opacity="0.8" stroke-width="1.3" stroke-linejoin="round"/>
<polyline points="328.0,217.7 328.6,228.8 329.1,225.9 329.6,226.2 330.1,226.1 330.6,232.1 331.1,232.6 331.6,233.1 332.1,234.2 332.6,233.5 333.1,241.5 333.5,231.1 334.0,231.7 334.4,232.4 334.9,236.4 335.3,233.5 335.7,239.7 336.1,237.2 336.5,234.9 337.0,234.9 337.4,239.3 337.7,236.1 338.1,245.2 338.5,242.6 338.9,243.2 339.3,240.1 339.6,240.8 340.0,245.1 340.4,239.3 340.7,237.0 341.1,242.2 341.4,241.2 341.8,245.2 342.1,244.6 342.4,242.6 342.0,243.8 342.2,240.7 342.4,243.8 342.7,246.4 343.1,245.5 343.4,246.1 343.7,242.5 344.0,248.0 344.3,243.5 344.6,242.3 344.9,249.9 345.2,245.3 345.5,252.1 345.8,249.6 346.1,246.1 346.4,246.2 346.7,244.4 347.0,252.2 347.3,247.4 347.5,244.9 347.8,244.9 348.1,248.6 348.4,248.1 348.6,246.4 348.9,245.6 349.1,249.7 349.4,247.0 349.7,255.9 349.9,247.6 350.2,252.3 350.4,252.5 350.7,253.8 350.9,248.4 351.2,250.7 351.4,252.2 351.6,253.6 351.9,250.4 351.8,251.3 352.0,243.2 352.2,251.3 352.1,249.4 352.3,251.9 352.6,252.3 352.8,252.2 353.1,251.7 353.4,249.7 353.7,249.4 353.9,250.7 354.1,253.0 354.3,254.4 354.6,252.7 354.9,253.7 355.2,253.5 355.4,253.7 355.6,255.9 355.8,254.6 356.1,254.3 356.4,252.5 356.6,252.3 356.8,254.4 356.6,253.9 356.8,186.4 357.0,253.9 357.1,256.6 357.4,254.7 357.6,256.3 357.9,248.9 358.2,254.6 358.3,258.0 358.6,254.2 358.9,254.0 359.1,254.2 359.4,255.7 359.6,252.4 359.9,257.4 360.2,258.3 360.3,256.0 360.6,260.5 360.9,254.6 361.1,256.3 361.4,252.8 361.6,258.2 361.9,254.2 362.1,255.1 362.4,258.8 362.6,255.5 362.9,259.5 363.1,258.3 363.4,259.8 363.6,254.0 363.9,258.1 364.1,257.4 364.4,259.2 364.6,256.4 364.9,261.4 365.1,259.1 365.4,256.8 365.6,255.3 365.9,258.7 366.1,257.7 366.4,260.3 366.6,254.5 366.9,259.1 367.1,260.7 367.4,256.0 367.6,261.2 367.9,259.1 368.1,259.1 368.4,258.2 368.6,261.2 368.9,257.0 369.1,261.3 369.4,258.1 369.6,261.5 369.9,256.8 370.1,259.9 370.4,261.5 370.6,258.3 370.9,261.4 371.1,258.9 371.4,261.7 371.6,257.8 371.9,260.3 372.1,257.6 372.4,261.9 372.6,258.1 372.9,261.2 373.1,260.0 373.4,258.7 373.6,260.7 373.9,258.6 374.1,262.7 374.4,259.4 374.6,261.4 374.9,257.7 375.1,257.3 375.4,260.5 375.6,263.8 375.9,257.7 375.4,260.2 375.6,249.7 375.8,260.2 376.1,262.9 376.4,261.1 376.6,257.0 376.9,262.0 377.1,258.3 377.4,260.4 377.6,261.6 377.9,258.2 378.1,257.2 378.4,263.6 378.6,263.0 378.9,258.5 379.1,259.2 379.4,258.5 379.6,263.7 379.9,258.3 380.1,258.0 380.4,261.6 380.6,259.6 380.9,262.4 381.1,261.4 381.4,259.6 381.6,257.7 381.9,263.8 382.1,260.0 382.4,263.2 382.6,262.1 382.9,258.9 383.1,259.4 383.4,262.3 383.6,262.0 383.9,260.0 384.1,260.4 384.4,261.7 384.6,261.2 384.9,259.6 385.1,258.4 385.4,261.2 385.6,263.8 385.9,259.5 386.1,261.3 386.4,259.9 386.6,262.3 386.9,260.8 387.1,262.7 387.4,260.0 387.6,262.4 387.9,259.9 388.1,258.4 388.4,262.4 388.6,259.0 388.9,262.6 389.1,259.0 389.4,262.2 389.6,261.1 389.9,262.7 390.1,262.6 390.4,260.0 390.6,261.6 390.9,260.0 391.1,262.8 391.4,259.9 391.6,260.4 391.9,262.5 392.1,262.2 392.4,259.4 392.6,261.1 392.9,262.8 393.1,263.2 393.4,259.3 393.6,261.8 393.9,260.1 394.1,259.8 394.4,262.5 394.6,260.4 394.9,261.8 395.1,263.0 395.4,260.2 395.6,261.0 395.9,262.9 396.1,262.5 396.4,259.8 396.6,260.1 396.9,263.3 397.1,258.7 397.4,263.6 397.6,262.1 397.9,261.2 398.1,260.6 398.4,263.8 398.6,262.8 398.9,259.6 399.1,262.9 399.4,261.0 399.6,261.0 399.9,262.3 400.1,259.6 400.4,263.7 400.6,263.2 400.9,262.1 401.1,263.7 401.4,260.2 401.6,259.2 401.9,263.3 402.1,263.8 402.4,259.7 402.6,261.1 402.9,262.3 403.1,260.1 403.4,263.2 403.6,263.2 403.9,261.2 404.1,263.2 404.4,261.3 404.6,263.0 404.9,260.6 405.1,262.4 405.4,261.2 405.6,263.7 405.9,262.1 406.1,263.7 406.4,261.2 406.6,263.7 406.9,261.5 407.1,263.0 407.4,260.0 407.6,261.3 407.9,262.6 408.1,263.5 408.4,261.6 408.6,261.3 408.9,263.4 409.1,260.0 409.4,262.6 409.6,261.1 409.9,262.7 410.1,262.4 410.4,260.6 410.6,261.1 410.9,262.5 411.1,263.5 411.4,261.8 411.6,262.9 411.9,260.7 412.1,261.3 412.4,262.9 412.6,262.5 412.9,261.0 413.1,263.3 413.4,261.8 413.6,262.9 413.9,261.0 414.1,261.5 414.4,263.5 414.6,261.5 414.9,263.0 415.1,260.4 415.4,261.8 415.6,262.3 415.9,262.7 416.1,262.7 416.4,261.0 416.6,261.3 416.9,262.7 417.1,263.2 417.4,261.5 417.6,262.6 417.9,261.6 417.5,262.5 417.7,259.7 417.9,262.5 418.1,261.8 418.4,263.4 418.6,262.1 418.9,263.4 419.1,262.6 419.4,263.8 419.6,261.9 419.9,263.3 420.1,263.7 420.4,261.6 420.6,261.9 420.9,262.5 421.1,263.3 421.4,262.1 421.6,261.5 421.9,262.9 422.1,263.3 422.4,261.9 422.6,263.3 422.9,261.4 423.1,262.0 423.4,261.5 423.6,263.6 423.9,262.1 424.1,262.2 424.4,263.5 424.6,263.6 424.9,262.2 425.1,261.3 425.4,263.8 425.6,262.0 425.9,263.8 426.1,263.4 426.4,262.4 426.6,263.6 426.9,262.4 427.1,261.8 427.4,263.7 427.6,261.8 427.9,262.8 428.1,262.7 428.4,263.5 428.6,263.1 428.9,263.5 429.1,261.2 429.4,263.3 429.6,263.8 429.9,262.2 430.1,262.8 430.4,263.4 430.6,261.8 430.9,263.6 431.1,263.2 431.4,262.2 431.6,263.6 431.9,262.5 432.1,263.8 432.4,261.7 432.6,263.7 432.9,262.0 433.1,263.7 433.4,262.9 433.6,263.2 433.9,262.6 434.1,263.8 434.4,262.3 434.6,262.5 434.9,263.7 435.1,263.1 435.4,261.8 435.6,263.5 435.9,262.6 436.1,262.2 436.4,263.3 436.6,263.5 436.9,262.6 437.1,263.5 437.4,262.5 437.6,263.3 437.9,262.4 438.1,263.4 438.4,262.4 438.6,263.3 438.9,262.7 439.1,263.2 439.4,263.8 439.6,262.8 439.9,263.7 440.1,263.4 440.4,263.0 440.6,262.9 440.9,263.8 441.1,263.3 441.4,262.5 441.6,262.9 441.9,263.8 442.1,263.0 442.4,263.8 442.6,263.6 442.9,262.7 443.1,263.8 443.4,263.0 443.6,262.9 443.9,263.7 444.1,263.2 444.4,263.8 444.6,262.9 444.9,263.3 445.1,263.0 445.4,263.4 445.6,263.6 445.9,262.8 446.1,263.6 446.4,263.4 446.6,262.8 446.9,263.7 447.1,263.0 447.4,263.4 447.6,263.7 447.9,263.3 448.1,263.8 448.4,263.2 448.6,263.2 448.9,263.7 449.1,263.2 449.4,263.7 449.6,263.7 449.9,263.1 450.1,263.5 450.4,263.3 450.6,263.6 450.9,263.2 451.1,263.6 451.4,263.3 451.6,263.3 451.9,263.4 452.1,263.5 452.4,263.3 452.6,263.6 452.9,263.2 453.1,263.1 453.4,263.5 453.6,263.6 453.9,262.9 454.1,263.8 454.4,263.2 454.6,263.1 454.9,263.7 455.1,263.3 455.4,263.7 455.6,263.2 455.9,263.7 456.1,263.5 456.4,263.7 456.6,263.2 456.9,263.6 457.1,263.6 457.4,263.1 457.6,263.7 457.9,263.2 458.1,263.6 458.4,263.2 458.6,263.8 458.9,263.3 459.1,263.7 459.4,263.3 459.6,263.4 459.9,263.8 460.1,263.4 460.4,263.7 460.6,263.6 460.9,263.3 461.1,263.4 461.4,263.6 461.6,263.6 461.9,263.3 462.1,263.5 462.4,263.6 462.6,263.3 462.9,263.6 463.1,263.4 463.4,263.6 463.6,263.6 463.9,263.5 464.1,263.6 464.4,263.4 464.6,263.7 464.9,263.5 465.1,263.6 465.4,263.4 465.6,263.4 465.9,263.6 466.1,263.6 466.4,263.6 466.6,263.6 466.9,263.6 467.1,263.7 467.4,263.5 467.6,263.6 467.9,263.6 468.1,263.7 468.4,263.5 468.6,263.6 468.9,263.6 469.1,263.6 469.4,263.4 469.6,263.6 469.9,263.5 470.1,263.7 470.4,263.6 470.6,263.6 470.9,263.6 471.1,263.5 471.4,263.7 471.6,263.6 471.9,263.7 472.1,263.5 472.4,263.7 472.6,263.7 472.9,263.6 473.1,263.7 473.4,263.5 473.6,263.6 473.9,263.7 474.1,263.7 474.4,263.6 474.6,263.6 474.9,263.7 475.1,263.6 475.4,263.7 475.6,263.6 475.9,263.7 476.1,263.6 476.4,263.7 476.6,263.6 476.9,263.7 477.1,263.8 477.4,263.6 477.6,263.6 477.9,263.6 478.1,263.7 478.4,263.6 478.6,263.6 478.9,263.7 479.1,263.6 479.4,263.6 479.6,263.7 479.9,263.6 480.1,263.6 480.4,263.7 480.6,263.7 480.9,263.7 481.1,263.7 481.4,263.6 481.6,263.6 481.9,263.7" fill="none" stroke="#619CFF" stroke-opacity="0.8" stroke-width="1.3" stroke-linejoin="round"/>
<text x="0.00" y="0.00" font-size="9.2" text-anchor="middle" fill="#000" font-weight="normal" font-family="'Liberation Sans', Arial, sans-serif" stroke="#000" stroke-width="0.22" transform="translate(12.4,352.3) rotate(-90)">ONT</text>
<line x1="40.50" y1="307.70" x2="40.50" y2="397.40" stroke="#333333" stroke-width="1"/>
<line x1="40.00" y1="396.90" x2="272.40" y2="396.90" stroke="#333333" stroke-width="1"/>
<line x1="38.20" y1="311.40" x2="40.50" y2="311.40" stroke="#333333" stroke-width="1"/>
<text x="36.80" y="313.80" font-size="6.8" text-anchor="end" fill="#444444" font-weight="normal" font-family="'Liberation Sans', Arial, sans-serif" stroke="#444444" stroke-width="0.22" >300</text>
<line x1="38.20" y1="338.50" x2="40.50" y2="338.50" stroke="#333333" stroke-width="1"/>
<text x="36.80" y="340.90" font-size="6.8" text-anchor="end" fill="#444444" font-weight="normal" font-family="'Liberation Sans', Arial, sans-serif" stroke="#444444" stroke-width="0.22" >200</text>
<line x1="38.20" y1="365.60" x2="40.50" y2="365.60" stroke="#333333" stroke-width="1"/>
<text x="36.80" y="368.00" font-size="6.8" text-anchor="end" fill="#444444" font-weight="normal" font-family="'Liberation Sans', Arial, sans-serif" stroke="#444444" stroke-width="0.22" >100</text>
<line x1="38.20" y1="392.80" x2="40.50" y2="392.80" stroke="#333333" stroke-width="1"/>
<text x="36.80" y="395.20" font-size="6.8" text-anchor="end" fill="#444444" font-weight="normal" font-family="'Liberation Sans', Arial, sans-serif" stroke="#444444" stroke-width="0.22" >0</text>
<line x1="51.60" y1="396.90" x2="51.60" y2="399.10" stroke="#333333" stroke-width="1"/>
<text x="51.60" y="405.90" font-size="6.8" text-anchor="middle" fill="#444444" font-weight="normal" font-family="'Liberation Sans', Arial, sans-serif" stroke="#444444" stroke-width="0.22" >-100kb</text>
<line x1="115.40" y1="396.90" x2="115.40" y2="399.10" stroke="#333333" stroke-width="1"/>
<text x="115.40" y="405.90" font-size="6.8" text-anchor="middle" fill="#444444" font-weight="normal" font-family="'Liberation Sans', Arial, sans-serif" stroke="#444444" stroke-width="0.22" >-10kb</text>
<line x1="179.50" y1="396.90" x2="179.50" y2="399.10" stroke="#333333" stroke-width="1"/>
<text x="179.50" y="405.90" font-size="6.8" text-anchor="middle" fill="#444444" font-weight="normal" font-family="'Liberation Sans', Arial, sans-serif" stroke="#444444" stroke-width="0.22" >-1kb</text>
<line x1="243.00" y1="396.90" x2="243.00" y2="399.10" stroke="#333333" stroke-width="1"/>
<text x="243.00" y="405.90" font-size="6.8" text-anchor="middle" fill="#444444" font-weight="normal" font-family="'Liberation Sans', Arial, sans-serif" stroke="#444444" stroke-width="0.22" >-100bp</text>
<line x1="262.40" y1="396.90" x2="262.40" y2="399.10" stroke="#333333" stroke-width="1"/>
<text x="262.40" y="405.90" font-size="6.8" text-anchor="middle" fill="#444444" font-weight="normal" font-family="'Liberation Sans', Arial, sans-serif" stroke="#444444" stroke-width="0.22" >-50bp</text>
<line x1="317.50" y1="307.70" x2="317.50" y2="397.70" stroke="#333333" stroke-width="1"/>
<line x1="317.00" y1="397.20" x2="549.50" y2="397.20" stroke="#333333" stroke-width="1"/>
<line x1="315.20" y1="311.40" x2="317.50" y2="311.40" stroke="#333333" stroke-width="1"/>
<text x="313.80" y="313.80" font-size="6.8" text-anchor="end" fill="#444444" font-weight="normal" font-family="'Liberation Sans', Arial, sans-serif" stroke="#444444" stroke-width="0.22" >300</text>
<line x1="315.20" y1="338.50" x2="317.50" y2="338.50" stroke="#333333" stroke-width="1"/>
<text x="313.80" y="340.90" font-size="6.8" text-anchor="end" fill="#444444" font-weight="normal" font-family="'Liberation Sans', Arial, sans-serif" stroke="#444444" stroke-width="0.22" >200</text>
<line x1="315.20" y1="365.60" x2="317.50" y2="365.60" stroke="#333333" stroke-width="1"/>
<text x="313.80" y="368.00" font-size="6.8" text-anchor="end" fill="#444444" font-weight="normal" font-family="'Liberation Sans', Arial, sans-serif" stroke="#444444" stroke-width="0.22" >100</text>
<line x1="315.20" y1="392.80" x2="317.50" y2="392.80" stroke="#333333" stroke-width="1"/>
<text x="313.80" y="395.20" font-size="6.8" text-anchor="end" fill="#444444" font-weight="normal" font-family="'Liberation Sans', Arial, sans-serif" stroke="#444444" stroke-width="0.22" >0</text>
<line x1="328.00" y1="397.20" x2="328.00" y2="399.40" stroke="#333333" stroke-width="1"/>
<text x="328.00" y="406.20" font-size="6.8" text-anchor="middle" fill="#444444" font-weight="normal" font-family="'Liberation Sans', Arial, sans-serif" stroke="#444444" stroke-width="0.22" >50bp</text>
<line x1="347.30" y1="397.20" x2="347.30" y2="399.40" stroke="#333333" stroke-width="1"/>
<text x="347.30" y="406.20" font-size="6.8" text-anchor="middle" fill="#444444" font-weight="normal" font-family="'Liberation Sans', Arial, sans-serif" stroke="#444444" stroke-width="0.22" >100bp</text>
<line x1="411.50" y1="397.20" x2="411.50" y2="399.40" stroke="#333333" stroke-width="1"/>
<text x="411.50" y="406.20" font-size="6.8" text-anchor="middle" fill="#444444" font-weight="normal" font-family="'Liberation Sans', Arial, sans-serif" stroke="#444444" stroke-width="0.22" >1kb</text>
<line x1="475.00" y1="397.20" x2="475.00" y2="399.40" stroke="#333333" stroke-width="1"/>
<text x="475.00" y="406.20" font-size="6.8" text-anchor="middle" fill="#444444" font-weight="normal" font-family="'Liberation Sans', Arial, sans-serif" stroke="#444444" stroke-width="0.22" >10kb</text>
<line x1="538.50" y1="397.20" x2="538.50" y2="399.40" stroke="#333333" stroke-width="1"/>
<text x="538.50" y="406.20" font-size="6.8" text-anchor="middle" fill="#444444" font-weight="normal" font-family="'Liberation Sans', Arial, sans-serif" stroke="#444444" stroke-width="0.22" >100kb</text>
<polyline points="51.6,392.6 51.9,392.7 52.1,392.7 52.4,392.7 52.6,392.7 52.9,392.7 53.1,392.7 53.4,392.7 53.6,392.7 53.9,392.7 54.1,392.7 54.4,392.7 54.6,392.7 54.9,392.7 55.1,392.7 55.4,392.7 55.6,392.7 55.9,392.7 56.1,392.7 56.4,392.7 56.6,392.7 56.9,392.7 57.1,392.7 57.4,392.7 57.6,392.6 57.9,392.7 58.1,392.7 58.4,392.7 58.6,392.6 58.9,392.7 59.1,392.7 59.4,392.7 59.6,392.7 59.9,392.7 60.1,392.6 60.4,392.7 60.6,392.7 60.9,392.6 61.1,392.7 61.4,392.6 61.6,392.7 61.9,392.7 62.1,392.7 62.4,392.6 62.6,392.7 62.9,392.7 63.1,392.7 63.4,392.7 63.6,392.7 63.9,392.6 64.1,392.7 64.4,392.7 64.6,392.7 64.9,392.7 65.1,392.6 65.4,392.7 65.6,392.7 65.9,392.7 66.1,392.7 66.4,392.7 66.6,392.7 66.9,392.7 67.1,392.7 67.4,392.6 67.6,392.7 67.9,392.6 68.1,392.7 68.4,392.6 68.6,392.6 68.9,392.7 69.1,392.7 69.4,392.6 69.6,392.7 69.9,392.6 70.1,392.7 70.4,392.7 70.6,392.7 70.9,392.6 71.1,392.7 71.4,392.6 71.6,392.7 71.9,392.6 72.1,392.7 72.4,392.6 72.6,392.6 72.9,392.7 73.1,392.7 73.4,392.7 73.6,392.7 73.9,392.6 74.1,392.6 74.4,392.7 74.6,392.7 74.9,392.7 75.1,392.7 75.4,392.6 75.6,392.6 75.9,392.7 76.1,392.6 76.4,392.7 76.6,392.7 76.9,392.7 77.1,392.7 77.4,392.6 77.6,392.6 77.9,392.7 78.1,392.7 78.4,392.6 78.6,392.7 78.9,392.6 79.1,392.7 79.4,392.7 79.6,392.7 79.9,392.6 80.1,392.6 80.4,392.7 80.6,392.7 80.9,392.7 81.1,392.6 81.4,392.7 81.6,392.6 81.9,392.7 82.1,392.7 82.4,392.6 82.6,392.7 82.9,392.7 83.1,392.6 83.4,392.7 83.6,392.7 83.9,392.6 84.1,392.7 84.4,392.6 84.6,392.7 84.9,392.6 85.1,392.6 85.4,392.7 85.6,392.6 85.9,392.7 86.1,392.7 86.4,392.6 86.6,392.7 86.9,392.6 87.1,392.7 87.4,392.6 87.6,392.7 87.9,392.6 88.1,392.7 88.4,392.6 88.6,392.7 88.9,392.6 89.1,392.6 89.4,392.7 89.6,392.6 89.9,392.7 90.1,392.6 90.4,392.7 90.6,392.6 90.9,392.7 91.1,392.6 91.4,392.7 91.6,392.7 91.9,392.6 92.1,392.6 92.4,392.7 92.6,392.7 92.9,392.6 93.1,392.7 93.4,392.6 93.6,392.7 93.9,392.7 94.1,392.6 94.4,392.6 94.6,392.6 94.9,392.7 95.1,392.6 95.4,392.7 95.6,392.6 95.9,392.7 96.1,392.7 96.4,392.6 96.6,392.7 96.9,392.6 97.1,392.7 97.4,392.6 97.6,392.6 97.9,392.6 98.1,392.6 98.4,392.7 98.6,392.7 98.9,392.6 99.1,392.6 99.4,392.7 99.6,392.6 99.9,392.6 100.1,392.6 100.4,392.7 100.6,392.6 100.9,392.7 101.1,392.7 101.4,392.6 101.6,392.6 101.9,392.7 102.1,392.6 102.4,392.7 102.6,392.6 102.9,392.7 103.1,392.7 103.4,392.6 103.6,392.6 103.9,392.7 104.1,392.7 104.4,392.6 104.6,392.7 104.9,392.6 105.1,392.7 105.4,392.6 105.6,392.6 105.9,392.7 106.1,392.7 106.4,392.6 106.6,392.6 106.9,392.7 107.1,392.6 107.4,392.7 107.6,392.6 107.9,392.6 108.1,392.6 108.4,392.7 108.6,392.7 108.9,392.6 109.1,392.6 109.4,392.7 109.6,392.7 109.9,392.6 110.1,392.6 110.4,392.7 110.6,392.7 110.9,392.6 111.1,392.6 111.4,392.6 111.6,392.6 111.9,392.6 112.1,392.6 112.4,392.7 112.6,392.6 112.9,392.7 113.1,392.6 113.4,392.7 113.6,392.6 113.9,392.6 114.1,392.7 114.4,392.6 114.6,392.6 114.9,392.7 115.1,392.7 115.4,392.5 115.6,392.6 115.9,392.6 116.1,392.5 116.4,392.6 116.6,392.7 116.9,392.6 117.1,392.6 117.4,392.5 117.6,392.7 117.9,392.6 118.1,392.7 118.4,392.6 118.6,392.7 118.9,392.6 119.1,392.7 119.4,392.6 119.6,392.5 119.9,392.7 120.1,392.6 120.4,392.7 120.6,392.7 120.9,392.6 121.1,392.7 121.4,392.6 121.6,392.7 121.9,392.6 122.1,392.7 122.4,392.6 122.6,392.6 122.9,392.6 123.1,392.7 123.4,392.6 123.6,392.6 123.9,392.7 124.1,392.6 124.4,392.7 124.6,392.7 124.9,392.6 125.1,392.6 125.4,392.7 125.6,392.5 125.9,392.7 126.1,392.7 126.4,392.5 126.6,392.6 126.9,392.7 127.1,392.7 127.4,392.6 127.6,392.6 127.9,392.7 128.1,392.7 128.4,392.6 128.6,392.7 128.9,392.5 129.1,392.6 129.4,392.7 129.6,392.6 129.9,392.7 130.1,392.5 130.4,392.6 130.6,392.7 130.9,392.6 131.1,392.6 131.4,392.6 131.6,392.6 131.9,392.5 132.1,392.6 132.4,392.5 132.6,392.5 132.9,392.6 133.1,392.6 133.4,392.5 133.6,392.7 133.9,392.5 134.1,392.6 134.4,392.6 134.6,392.7 134.9,392.5 135.1,392.7 135.4,392.6 135.6,392.5 135.9,392.7 136.1,392.5 136.4,392.7 136.6,392.5 136.9,392.6 137.1,392.7 137.4,392.5 137.6,392.5 137.9,392.7 138.1,392.5 138.4,392.6 138.6,392.5 138.9,392.7 139.1,392.6 139.4,392.5 139.6,392.6 139.9,392.5 140.1,392.6 140.4,392.5 140.6,392.7 140.9,392.5 141.1,392.6 141.4,392.5 141.6,392.7 141.9,392.6 142.1,392.6 142.4,392.5 142.6,392.5 142.9,392.6 143.1,392.6 143.4,392.7 143.6,392.5 143.9,392.7 144.1,392.7 144.4,392.5 144.6,392.5 144.9,392.6 145.1,392.5 145.4,392.6 145.6,392.5 145.9,392.7 146.1,392.7 146.4,392.5 146.6,392.5 146.9,392.7 147.1,392.4 147.4,392.7 147.6,392.6 147.9,392.5 148.1,392.5 148.4,392.7 148.6,392.5 148.9,392.6 149.1,392.5 149.4,392.7 149.6,392.6 149.9,392.7 150.1,392.5 150.4,392.6 150.6,392.5 150.9,392.6 151.1,392.5 151.4,392.6 151.6,392.5 151.9,392.6 152.1,392.6 152.4,392.5 152.6,392.5 152.9,392.6 153.1,392.6 153.4,392.7 153.6,392.4 153.9,392.6 154.1,392.6 154.4,392.5 154.6,392.6 154.9,392.4 155.1,392.6 155.4,392.5 155.6,392.6 155.9,392.4 156.1,392.5 156.4,392.4 156.6,392.3 156.9,392.7 157.1,392.4 157.4,392.6 157.6,392.5 157.9,392.6 158.1,392.4 158.4,392.5 158.6,392.4 158.9,392.6 159.1,392.3 159.4,392.6 159.6,392.6 159.9,392.4 160.1,392.4 160.4,392.7 160.6,392.2 160.9,392.5 161.1,392.4 161.4,392.7 161.6,392.6 161.9,392.4 162.1,392.3 162.4,392.7 162.6,392.7 162.9,392.4 163.1,392.7 163.4,392.5 163.6,392.7 163.9,392.3 164.1,392.4 164.4,392.6 164.6,392.5 164.9,392.3 165.1,392.5 165.4,392.2 165.6,392.4 165.9,392.2 166.1,392.5 166.4,392.3 166.6,392.1 166.9,392.7 167.1,392.2 167.4,392.5 167.6,392.5 167.9,392.3 168.1,392.6 168.4,392.1 168.6,392.5 168.9,392.2 169.1,392.3 169.4,392.7 169.6,392.5 169.9,392.2 170.1,392.7 170.4,392.2 170.6,392.5 170.9,392.7 171.1,391.9 171.4,392.4 171.6,392.3 171.9,392.6 172.1,392.0 172.4,392.5 172.6,392.2 172.9,392.1 173.1,392.7 173.4,392.1 173.6,392.5 173.9,392.2 174.1,392.2 174.4,392.8 174.6,392.1 174.9,392.5 175.1,392.1 175.4,392.4 175.6,392.4 175.9,392.1 176.1,392.0 176.4,392.5 176.6,392.4 176.9,392.0 177.1,392.0 177.4,392.8 177.6,392.0 177.9,392.3 178.1,392.2 178.4,392.5 178.6,392.7 178.9,391.9 179.1,392.1 179.4,392.4 179.6,392.3 179.9,392.0 180.1,392.5 180.4,392.1 180.6,392.2 180.9,392.5 181.1,391.8 181.4,392.2 181.6,392.1 181.9,391.8 182.1,391.8 182.4,392.7 182.6,391.6 182.9,392.2 183.1,391.6 183.4,392.6 183.6,391.7 183.9,392.6 184.1,391.9 184.4,392.3 184.6,391.9 184.9,392.3 185.1,392.2 185.4,391.6 185.6,392.2 185.9,391.4 186.1,392.3 186.4,391.5 186.6,392.5 186.9,392.0 187.1,391.4 187.4,392.4 187.6,392.3 187.9,391.6 188.1,391.6 188.4,392.4 188.6,392.6 188.9,392.2 189.1,392.4 189.4,390.8 189.6,392.7 189.9,391.7 190.1,392.1 190.4,391.2 190.6,392.1 190.9,392.6 191.1,392.7 191.4,391.7 191.6,391.6 191.9,392.5 192.1,392.8 192.4,391.1 192.6,392.3 192.9,391.5 193.1,392.5 193.4,391.2 193.6,392.3 193.9,391.3 194.1,391.7 194.4,392.7 194.6,392.3 194.9,391.7 195.1,392.0 195.4,391.3 195.6,392.3 195.9,391.3 196.1,391.8 196.4,392.3 196.6,392.2 196.9,390.8 197.1,390.7 197.4,392.1 197.6,391.6 197.9,392.4 198.1,391.2 198.4,391.8 198.6,391.0 198.9,391.7 199.1,390.6 199.4,392.3 199.6,390.8 199.9,392.0 200.1,392.7 200.4,391.8 200.6,391.3 200.9,392.5 201.1,391.4 201.4,390.3 201.6,392.1 201.9,390.9 202.1,392.0 202.4,391.3 202.6,391.9 202.9,391.1 203.1,391.4 203.4,391.8 203.6,390.6 203.9,392.1 204.1,391.2 204.4,391.8 204.6,391.0 204.9,391.7 205.1,392.4 205.4,391.6 205.6,391.4 205.9,392.7 206.1,391.7 206.4,391.3 206.6,390.6 206.9,391.9 207.1,390.6 207.4,392.2 207.6,391.7 207.9,391.1 208.1,390.6 208.4,392.2 208.6,392.1 208.9,390.7 209.1,391.6 209.4,390.1 209.6,391.6 209.9,390.7 210.1,389.9 210.4,391.8 210.6,392.1 210.9,390.4 211.1,391.1 211.4,391.6 211.6,391.9 211.9,390.0 212.1,390.7 212.4,391.4 212.6,391.6 212.9,390.6 213.1,391.6 213.4,390.3 213.6,390.3 213.9,391.3 214.1,391.0 214.4,390.5 214.6,392.0 214.9,389.4 215.1,391.3 215.4,390.3 215.6,390.6 215.9,392.2 216.1,390.4 216.4,391.7 216.6,392.1 216.9,389.8 217.1,390.5 217.4,391.3 217.6,391.6 217.9,390.2 218.1,392.0 218.4,391.3 218.6,390.4 218.9,389.6 219.1,390.9 219.4,389.1 219.6,390.2 219.9,392.0 220.1,392.3 220.4,389.7 220.6,391.3 220.9,390.4 221.1,389.8 221.4,392.2 221.6,389.2 221.9,392.0 222.1,390.8 222.4,390.2 222.6,390.0 222.9,389.6 223.1,390.9 223.4,389.7 223.6,389.6 223.9,391.8 224.1,389.6 224.4,390.8 224.6,389.7 224.9,390.9 225.1,390.4 225.4,390.2 225.6,389.6 225.9,390.5 226.1,390.5 226.4,389.4 226.6,392.3 226.9,389.7 227.1,389.8 227.4,390.9 227.6,390.4 227.9,388.9 228.1,390.9 228.4,389.4 228.6,391.6 228.9,388.2 229.1,390.2 229.4,390.4 229.6,391.4 229.9,389.9 230.1,391.2 230.4,388.5 230.6,390.0 230.9,388.6 231.2,390.4 231.4,390.9 231.6,390.0 231.9,389.1 232.1,388.6 232.4,390.4 232.7,389.3 232.9,389.2 232.8,389.8 233.0,368.4 233.2,389.8 233.1,388.9 233.4,389.6 233.6,389.2 233.8,390.8 234.1,389.1 234.4,390.8 234.7,388.9 234.9,389.8 235.1,390.5 235.4,388.2 235.7,388.6 235.9,389.7 236.1,389.9 236.4,388.9 236.6,388.3 236.8,388.4 237.1,389.5 237.4,389.9 237.7,390.4 237.9,388.0 238.2,391.0 238.4,389.0 238.6,388.9 238.9,388.6 239.1,388.9 239.4,391.1 239.6,391.0 239.9,389.0 240.1,389.6 240.4,390.2 240.6,389.2 240.9,388.8 241.1,390.5 241.4,388.9 241.6,388.7 241.9,387.6 242.2,389.4 242.4,388.8 242.7,391.4 243.0,388.4 243.3,387.5 243.6,387.4 243.8,388.1 244.1,389.7 244.4,387.6 244.7,388.9 245.0,388.0 245.3,388.2 245.6,388.0 245.9,387.8 246.2,385.9 246.6,385.6 246.9,386.7 247.2,386.2 247.5,385.9 247.8,384.9 248.2,386.6 248.5,384.3 248.9,386.0 249.2,382.9 249.6,385.2 249.9,384.0 250.3,382.9 250.6,386.4 251.0,385.1 251.4,380.5 251.7,383.5 252.1,380.3 252.5,381.3 252.9,381.9 253.3,381.5 253.7,382.1 254.1,380.1 254.5,378.2 255.0,379.3 255.4,380.4 255.8,381.6 256.3,380.3 256.7,376.5 257.2,380.6 257.7,378.9 258.1,380.2 258.6,378.5 259.1,379.0 259.6,376.4 260.1,376.0 260.6,375.9 261.2,375.8 261.7,373.3" fill="none" stroke="#F8766D" stroke-opacity="0.8" stroke-width="1.3" stroke-linejoin="round"/>
<polyline points="51.6,392.7 51.9,392.7 52.1,392.7 52.4,392.7 52.6,392.7 52.9,392.7 53.1,392.7 53.4,392.7 53.6,392.7 53.9,392.7 54.1,392.7 54.4,392.7 54.6,392.7 54.9,392.7 55.1,392.7 55.4,392.7 55.6,392.7 55.9,392.7 56.1,392.7 56.4,392.7 56.6,392.7 56.9,392.7 57.1,392.7 57.4,392.7 57.6,392.7 57.9,392.7 58.1,392.7 58.4,392.7 58.6,392.7 58.9,392.7 59.1,392.7 59.4,392.6 59.6,392.7 59.9,392.7 60.1,392.7 60.4,392.7 60.6,392.7 60.9,392.7 61.1,392.6 61.4,392.7 61.6,392.7 61.9,392.7 62.1,392.7 62.4,392.7 62.6,392.6 62.9,392.7 63.1,392.6 63.4,392.7 63.6,392.6 63.9,392.7 64.1,392.7 64.4,392.7 64.6,392.7 64.9,392.7 65.1,392.6 65.4,392.7 65.6,392.7 65.9,392.7 66.1,392.7 66.4,392.7 66.6,392.7 66.9,392.6 67.1,392.7 67.4,392.7 67.6,392.7 67.9,392.7 68.1,392.7 68.4,392.7 68.6,392.7 68.9,392.6 69.1,392.7 69.4,392.7 69.6,392.7 69.9,392.7 70.1,392.6 70.4,392.7 70.6,392.7 70.9,392.7 71.1,392.7 71.4,392.6 71.6,392.6 71.9,392.7 72.1,392.7 72.4,392.7 72.6,392.7 72.9,392.6 73.1,392.7 73.4,392.7 73.6,392.7 73.9,392.7 74.1,392.7 74.4,392.7 74.6,392.7 74.9,392.6 75.1,392.7 75.4,392.6 75.6,392.6 75.9,392.7 76.1,392.7 76.4,392.6 76.6,392.6 76.9,392.7 77.1,392.6 77.4,392.6 77.6,392.7 77.9,392.7 78.1,392.6 78.4,392.7 78.6,392.6 78.9,392.7 79.1,392.7 79.4,392.7 79.6,392.7 79.9,392.6 80.1,392.6 80.4,392.7 80.6,392.6 80.9,392.7 81.1,392.7 81.4,392.6 81.6,392.6 81.9,392.7 82.1,392.7 82.4,392.6 82.6,392.7 82.9,392.6 83.1,392.7 83.4,392.6 83.6,392.6 83.9,392.7 84.1,392.6 84.4,392.7 84.6,392.6 84.9,392.7 85.1,392.6 85.4,392.7 85.6,392.7 85.9,392.6 86.1,392.7 86.4,392.6 86.6,392.6 86.9,392.7 87.1,392.7 87.4,392.6 87.6,392.7 87.9,392.7 88.1,392.7 88.4,392.6 88.6,392.7 88.9,392.6 89.1,392.6 89.4,392.7 89.6,392.7 89.9,392.6 90.1,392.7 90.4,392.6 90.6,392.6 90.9,392.7 91.1,392.6 91.4,392.7 91.6,392.6 91.9,392.6 92.1,392.6 92.4,392.6 92.6,392.6 92.9,392.7 93.1,392.6 93.4,392.7 93.6,392.6 93.9,392.6 94.1,392.6 94.4,392.7 94.6,392.6 94.9,392.7 95.1,392.7 95.4,392.6 95.6,392.7 95.9,392.6 96.1,392.7 96.4,392.6 96.6,392.7 96.9,392.6 97.1,392.6 97.4,392.7 97.6,392.6 97.9,392.7 98.1,392.6 98.4,392.7 98.6,392.6 98.9,392.7 99.1,392.6 99.4,392.7 99.6,392.6 99.9,392.6 100.1,392.6 100.4,392.7 100.6,392.5 100.9,392.7 101.1,392.6 101.4,392.7 101.6,392.7 101.9,392.6 102.1,392.6 102.4,392.7 102.6,392.7 102.9,392.6 103.1,392.5 103.4,392.6 103.6,392.6 103.9,392.7 104.1,392.6 104.4,392.7 104.6,392.6 104.9,392.6 105.1,392.7 105.4,392.6 105.6,392.7 105.9,392.6 106.1,392.6 106.4,392.7 106.6,392.6 106.9,392.7 107.1,392.6 107.4,392.7 107.6,392.5 107.9,392.7 108.1,392.6 108.4,392.7 108.6,392.6 108.9,392.6 109.1,392.6 109.4,392.6 109.6,392.6 109.9,392.7 110.1,392.5 110.4,392.6 110.6,392.6 110.9,392.6 111.1,392.6 111.4,392.6 111.6,392.6 111.9,392.7 112.1,392.7 112.4,392.5 112.6,392.6 112.9,392.5 113.1,392.6 113.4,392.5 113.6,392.6 113.9,392.7 114.1,392.6 114.4,392.6 114.6,392.7 114.9,392.6 115.1,392.7 115.4,392.6 115.6,392.7 115.9,392.5 116.1,392.5 116.4,392.7 116.6,392.5 116.9,392.7 117.1,392.6 117.4,392.7 117.6,392.5 117.9,392.6 118.1,392.6 118.4,392.7 118.6,392.5 118.9,392.6 119.1,392.6 119.4,392.7 119.6,392.6 119.9,392.7 120.1,392.5 120.4,392.7 120.6,392.7 120.9,392.6 121.1,392.6 121.4,392.5 121.6,392.6 121.9,392.6 122.1,392.6 122.4,392.5 122.6,392.5 122.9,392.7 123.1,392.6 123.4,392.7 123.6,392.7 123.9,392.5 124.1,392.5 124.4,392.7 124.6,392.5 124.9,392.6 125.1,392.6 125.4,392.5 125.6,392.6 125.9,392.7 126.1,392.7 126.4,392.6 126.6,392.7 126.9,392.5 127.1,392.6 127.4,392.5 127.6,392.6 127.9,392.5 128.1,392.4 128.4,392.6 128.6,392.5 128.9,392.7 129.1,392.6 129.4,392.6 129.6,392.6 129.9,392.5 130.1,392.6 130.4,392.6 130.6,392.6 130.9,392.6 131.1,392.6 131.4,392.5 131.6,392.5 131.9,392.7 132.1,392.5 132.4,392.6 132.6,392.5 132.9,392.6 133.1,392.7 133.4,392.6 133.6,392.5 133.9,392.7 134.1,392.7 134.4,392.5 134.6,392.6 134.9,392.5 135.1,392.6 135.4,392.4 135.6,392.7 135.9,392.5 136.1,392.7 136.4,392.4 136.6,392.6 136.9,392.5 137.1,392.5 137.4,392.6 137.6,392.6 137.9,392.5 138.1,392.7 138.4,392.5 138.6,392.6 138.9,392.5 139.1,392.5 139.4,392.6 139.6,392.5 139.9,392.7 140.1,392.6 140.4,392.4 140.6,392.8 140.9,392.6 141.1,392.5 141.4,392.4 141.6,392.6 141.9,392.4 142.1,392.7 142.4,392.5 142.6,392.6 142.9,392.5 143.1,392.5 143.4,392.7 143.6,392.6 143.9,392.5 144.1,392.4 144.4,392.5 144.6,392.5 144.9,392.6 145.1,392.4 145.4,392.6 145.6,392.5 145.9,392.6 146.1,392.7 146.4,392.5 146.6,392.6 146.9,392.5 147.1,392.6 147.4,392.5 147.6,392.5 147.9,392.4 148.1,392.5 148.4,392.6 148.6,392.7 148.9,392.4 149.1,392.5 149.4,392.6 149.6,392.3 149.9,392.7 150.1,392.4 150.4,392.5 150.6,392.5 150.9,392.4 151.1,392.4 151.4,392.6 151.6,392.6 151.9,392.5 152.1,392.4 152.4,392.5 152.6,392.4 152.9,392.6 153.1,392.7 153.4,392.4 153.6,392.4 153.9,392.7 154.1,392.5 154.4,392.5 154.6,392.6 154.9,392.2 155.1,392.3 155.4,392.6 155.6,392.6 155.9,392.3 156.1,392.6 156.4,392.5 156.6,392.6 156.9,392.4 157.1,392.6 157.4,392.3 157.6,392.2 157.9,392.6 158.1,392.6 158.4,392.4 158.6,392.2 158.9,392.7 159.1,392.6 159.4,392.3 159.6,392.6 159.9,392.2 160.1,392.6 160.4,392.3 160.6,392.3 160.9,392.5 161.1,392.2 161.4,392.7 161.6,392.5 161.9,392.2 162.1,392.5 162.4,392.1 162.6,392.2 162.9,392.6 163.1,392.5 163.4,392.2 163.6,392.8 163.9,392.2 164.1,392.1 164.4,392.6 164.6,392.2 164.9,392.8 165.1,392.6 165.4,392.2 165.6,391.9 165.9,392.4 166.1,392.4 166.4,392.6 166.6,392.1 166.9,392.5 167.1,392.2 167.4,392.5 167.6,392.5 167.9,392.1 168.1,392.1 168.4,392.5 168.6,392.5 168.9,392.2 169.1,392.2 169.4,392.5 169.6,392.5 169.9,392.3 170.1,392.7 170.4,392.1 170.6,392.2 170.9,392.5 171.1,392.7 171.4,392.0 171.6,392.1 171.9,392.5 172.1,392.5 172.4,391.8 172.6,392.8 172.9,392.1 173.1,392.2 173.4,392.8 173.6,392.3 173.9,392.4 174.1,391.5 174.4,392.5 174.6,391.9 174.9,392.4 175.1,392.5 175.4,391.8 175.6,391.9 175.9,392.7 176.1,392.3 176.4,392.0 176.6,391.6 176.9,392.3 177.1,392.0 177.4,392.7 177.6,392.4 177.9,391.8 178.1,392.8 178.4,391.6 178.6,391.5 178.9,392.3 179.1,392.2 179.4,391.5 179.6,392.1 179.9,392.4 180.1,391.6 180.4,392.6 180.6,391.7 180.9,392.5 181.1,391.9 181.4,391.5 181.6,392.5 181.9,391.7 182.1,391.2 182.4,392.5 182.6,392.0 182.9,391.5 183.1,392.1 183.4,391.2 183.6,391.8 183.9,392.3 184.1,391.4 184.4,392.8 184.6,391.7 184.9,392.6 185.1,392.8 185.4,391.0 185.6,392.6 185.9,391.4 186.1,390.6 186.4,392.4 186.6,391.7 186.9,391.3 187.1,391.4 187.4,392.7 187.6,391.5 187.9,392.0 188.1,392.5 188.4,391.7 188.6,391.2 188.9,392.5 189.1,391.5 189.4,391.9 189.6,392.2 189.9,390.8 190.1,391.3 190.4,392.0 190.6,391.1 190.9,392.5 191.1,392.4 191.4,391.1 191.6,391.1 191.9,392.0 192.1,392.0 192.4,391.6 192.6,391.1 192.9,392.3 193.1,390.7 193.4,392.2 193.6,390.5 193.9,391.4 194.1,392.8 194.4,390.8 194.6,391.0 194.9,391.8 195.1,391.9 195.4,390.5 195.6,390.6 195.9,391.9 196.1,392.1 196.4,390.9 196.6,391.7 196.9,390.5 197.1,390.5 197.4,391.5 197.6,392.1 197.9,390.8 198.1,391.2 198.4,391.6 198.6,392.0 198.9,390.8 199.1,391.9 199.4,390.8 199.6,391.5 199.9,390.3 200.1,391.8 200.4,390.3 200.6,389.7 200.9,391.6 201.1,391.7 201.4,390.4 201.6,390.6 201.9,391.7 202.1,391.6 202.4,390.3 202.6,389.8 202.9,391.3 203.1,391.1 203.4,390.2 203.6,389.5 203.9,390.8 204.1,392.1 204.4,390.9 204.6,389.7 204.9,391.5 205.1,391.4 205.4,389.7 205.6,391.2 205.9,389.6 206.1,388.4 206.4,391.3 206.6,391.2 206.9,389.9 207.1,389.6 207.4,391.2 207.6,391.0 207.9,389.6 208.1,391.2 208.4,389.2 208.6,391.8 208.9,389.4 209.1,389.9 209.4,391.2 209.6,389.8 209.9,391.6 210.1,389.4 210.4,390.4 210.6,389.3 210.9,390.9 211.1,390.5 211.4,388.6 211.6,390.8 211.9,389.7 212.1,391.0 212.4,389.5 212.6,391.1 212.9,389.4 213.1,388.2 213.4,391.3 213.6,390.5 213.9,387.9 214.1,391.2 214.4,387.9 214.6,390.5 214.9,388.5 215.1,389.7 215.4,388.3 215.6,389.1 215.9,390.2 216.1,389.8 216.4,389.0 216.6,388.3 216.9,389.4 217.1,391.4 217.4,388.5 217.6,387.7 217.9,388.9 218.1,388.8 218.4,388.2 218.6,390.3 218.9,388.3 219.1,390.4 219.4,387.0 219.6,387.3 219.9,390.2 220.1,390.3 220.4,387.1 220.6,387.8 220.9,391.6 221.1,390.2 221.4,388.1 221.6,388.4 221.9,389.9 222.1,390.2 222.4,387.8 222.6,388.1 222.9,389.9 223.1,390.0 223.4,388.8 223.6,389.8 223.9,387.8 224.1,389.2 224.4,387.2 224.6,389.2 224.9,388.3 225.1,389.6 225.4,387.3 225.6,388.8 225.9,387.4 226.1,386.2 226.4,389.8 226.6,388.1 226.9,387.1 227.1,387.6 227.4,388.0 227.6,386.0 227.9,388.3 228.1,389.4 228.4,386.6 228.6,388.1 228.9,387.0 229.1,385.7 229.4,389.0 229.6,386.3 229.9,388.1 229.8,387.5 230.0,384.7 230.2,387.5 230.1,388.9 230.4,385.5 230.6,387.5 230.9,389.2 231.2,386.4 231.4,387.4 231.6,385.9 231.9,387.7 232.1,388.7 232.4,386.5 232.7,385.0 232.9,384.9 232.8,387.0 233.0,331.9 233.2,387.0 233.1,387.5 233.4,385.1 233.6,384.8 233.8,387.0 234.1,386.0 234.4,386.9 234.7,386.7 234.9,384.6 235.1,387.9 235.4,384.7 235.7,385.5 235.9,386.2 236.1,386.8 236.4,387.7 236.6,384.2 236.8,384.2 237.1,386.3 237.4,383.9 237.7,385.6 237.9,385.6 237.7,385.7 237.9,378.9 238.1,385.7 238.2,387.0 238.4,386.0 238.6,385.7 238.9,385.2 239.1,386.2 239.4,385.9 239.6,384.7 239.9,386.7 240.1,386.0 240.4,384.8 240.6,387.5 240.9,385.0 241.1,384.4 241.4,387.3 241.6,384.6 241.9,384.5 242.2,384.4 242.4,384.2 242.3,384.3 242.5,378.1 242.7,384.3 242.7,385.1 243.0,382.8 243.3,383.2 243.6,382.4 243.8,383.9 244.1,382.5 244.4,382.8 244.7,384.3 245.0,383.0 245.3,381.9 245.6,381.1 245.9,384.5 246.2,381.1 246.6,383.8 246.9,378.8 247.2,378.3 247.5,382.5 247.8,379.8 248.2,380.4 248.5,382.0 248.9,378.8 249.2,381.2 249.6,378.3 249.9,381.1 250.3,377.0 250.6,382.0 251.0,377.9 251.4,378.5 251.7,378.5 252.1,379.5 252.5,375.3 252.9,376.1 253.3,373.6 253.7,373.9 254.1,376.4 254.5,374.9 255.0,373.2 255.4,374.0 255.8,373.8 256.3,371.5 256.7,370.0 257.2,372.2 257.7,368.6 258.1,371.3 258.6,371.5 259.1,365.3 259.6,365.8 260.1,366.2 260.6,365.6 261.2,362.8 261.7,359.8" fill="none" stroke="#00BA38" stroke-opacity="0.8" stroke-width="1.3" stroke-linejoin="round"/>
<polyline points="51.6,392.7 51.9,392.7 52.1,392.7 52.4,392.6 52.6,392.6 52.9,392.7 53.1,392.7 53.4,392.6 53.6,392.7 53.9,392.7 54.1,392.7 54.4,392.7 54.6,392.6 54.9,392.7 55.1,392.7 55.4,392.7 55.6,392.7 55.9,392.6 56.1,392.7 56.4,392.7 56.6,392.7 56.9,392.7 57.1,392.6 57.4,392.7 57.6,392.7 57.9,392.7 58.1,392.6 58.4,392.7 58.6,392.7 58.9,392.7 59.1,392.7 59.4,392.6 59.6,392.7 59.9,392.7 60.1,392.7 60.4,392.7 60.6,392.7 60.9,392.6 61.1,392.7 61.4,392.6 61.6,392.6 61.9,392.7 62.1,392.7 62.4,392.7 62.6,392.6 62.9,392.7 63.1,392.7 63.4,392.6 63.6,392.6 63.9,392.7 64.1,392.7 64.4,392.7 64.6,392.7 64.9,392.6 65.1,392.6 65.4,392.7 65.6,392.7 65.9,392.7 66.1,392.7 66.4,392.6 66.6,392.7 66.9,392.7 67.1,392.6 67.4,392.7 67.6,392.7 67.9,392.7 68.1,392.7 68.4,392.7 68.6,392.7 68.9,392.7 69.1,392.7 69.4,392.6 69.6,392.6 69.9,392.7 70.1,392.6 70.4,392.7 70.6,392.7 70.9,392.7 71.1,392.6 71.4,392.7 71.6,392.7 71.9,392.6 72.1,392.6 72.4,392.7 72.6,392.7 72.9,392.6 73.1,392.7 73.4,392.6 73.6,392.7 73.9,392.7 74.1,392.6 74.4,392.7 74.6,392.7 74.9,392.7 75.1,392.6 75.4,392.7 75.6,392.7 75.9,392.7 76.1,392.7 76.4,392.7 76.6,392.7 76.9,392.7 77.1,392.7 77.4,392.7 77.6,392.7 77.9,392.6 78.1,392.6 78.4,392.7 78.6,392.7 78.9,392.6 79.1,392.6 79.4,392.7 79.6,392.7 79.9,392.6 80.1,392.7 80.4,392.6 80.6,392.6 80.9,392.7 81.1,392.6 81.4,392.7 81.6,392.6 81.9,392.7 82.1,392.7 82.4,392.6 82.6,392.6 82.9,392.7 83.1,392.7 83.4,392.6 83.6,392.6 83.9,392.7 84.1,392.7 84.4,392.6 84.6,392.7 84.9,392.6 85.1,392.7 85.4,392.6 85.6,392.6 85.9,392.7 86.1,392.6 86.4,392.7 86.6,392.6 86.9,392.7 87.1,392.6 87.4,392.7 87.6,392.6 87.9,392.6 88.1,392.6 88.4,392.7 88.6,392.7 88.9,392.6 89.1,392.7 89.4,392.6 89.6,392.7 89.9,392.6 90.1,392.7 90.4,392.6 90.6,392.6 90.9,392.7 91.1,392.6 91.4,392.7 91.6,392.6 91.9,392.6 92.1,392.6 92.4,392.7 92.6,392.6 92.9,392.7 93.1,392.6 93.4,392.7 93.6,392.7 93.9,392.6 94.1,392.7 94.4,392.6 94.6,392.7 94.9,392.6 95.1,392.6 95.4,392.6 95.6,392.7 95.9,392.6 96.1,392.7 96.4,392.5 96.6,392.6 96.9,392.7 97.1,392.6 97.4,392.7 97.6,392.7 97.9,392.6 98.1,392.7 98.4,392.6 98.6,392.6 98.9,392.7 99.1,392.6 99.4,392.7 99.6,392.7 99.9,392.6 100.1,392.6 100.4,392.6 100.6,392.7 100.9,392.6 101.1,392.7 101.4,392.6 101.6,392.7 101.9,392.6 102.1,392.5 102.4,392.6 102.6,392.6 102.9,392.6 103.1,392.7 103.4,392.6 103.6,392.7 103.9,392.6 104.1,392.5 104.4,392.7 104.6,392.7 104.9,392.6 105.1,392.6 105.4,392.6 105.6,392.5 105.9,392.6 106.1,392.6 106.4,392.5 106.6,392.6 106.9,392.6 107.1,392.7 107.4,392.6 107.6,392.7 107.9,392.6 108.1,392.5 108.4,392.7 108.6,392.6 108.9,392.7 109.1,392.7 109.4,392.6 109.6,392.5 109.9,392.7 110.1,392.5 110.4,392.6 110.6,392.7 110.9,392.7 111.1,392.5 111.4,392.8 111.6,392.7 111.9,392.6 112.1,392.7 112.4,392.5 112.6,392.5 112.9,392.6 113.1,392.6 113.4,392.7 113.6,392.6 113.9,392.6 114.1,392.7 114.4,392.6 114.6,392.6 114.9,392.7 115.1,392.7 115.4,392.5 115.6,392.5 115.9,392.6 116.1,392.6 116.4,392.5 116.6,392.6 116.9,392.6 117.1,392.6 117.4,392.5 117.6,392.5 117.9,392.6 118.1,392.5 118.4,392.6 118.6,392.6 118.9,392.7 118.8,392.6 119.0,391.2 119.2,392.6 119.1,392.6 119.4,392.6 119.6,392.5 119.9,392.6 120.1,392.5 120.4,392.7 120.6,392.5 120.9,392.7 121.1,392.7 121.4,392.6 121.6,392.5 121.9,392.7 122.1,392.6 122.4,392.5 122.6,392.5 122.9,392.6 123.1,392.6 123.4,392.5 123.6,392.5 123.9,392.6 124.1,392.5 124.4,392.7 124.6,392.7 124.9,392.5 125.1,392.7 125.4,392.5 125.6,392.7 125.9,392.5 126.1,392.7 126.4,392.5 126.6,392.6 126.9,392.5 127.1,392.7 127.4,392.6 127.6,392.7 127.9,392.5 128.1,392.5 128.4,392.7 128.6,392.7 128.9,392.5 129.1,392.6 129.4,392.7 129.6,392.6 129.9,392.5 130.1,392.5 130.4,392.7 130.6,392.5 130.9,392.7 131.1,392.5 131.4,392.4 131.6,392.6 131.9,392.5 132.1,392.7 132.4,392.5 132.6,392.5 132.9,392.7 133.1,392.5 133.4,392.6 133.6,392.5 133.9,392.6 134.1,392.6 134.4,392.5 134.6,392.7 134.9,392.5 135.1,392.7 135.4,392.5 135.6,392.5 135.9,392.6 136.1,392.7 136.4,392.4 136.6,392.5 136.9,392.6 137.1,392.5 137.4,392.6 137.6,392.6 137.9,392.5 138.1,392.6 138.4,392.6 138.6,392.5 138.9,392.6 139.1,392.6 139.4,392.4 139.6,392.6 139.9,392.4 140.1,392.5 140.4,392.6 140.6,392.6 140.9,392.4 141.1,392.4 141.4,392.6 141.6,392.7 141.9,392.4 142.1,392.6 142.4,392.4 142.6,392.6 142.9,392.4 143.1,392.5 143.4,392.6 143.6,392.5 143.9,392.6 144.1,392.5 144.4,392.6 144.6,392.6 144.9,392.4 145.1,392.7 145.4,392.5 145.6,392.4 145.9,392.6 146.1,392.6 146.4,392.5 146.6,392.6 146.9,392.5 147.1,392.4 147.4,392.6 147.6,392.6 147.9,392.4 148.1,392.4 148.4,392.5 148.6,392.4 148.9,392.6 149.1,392.7 149.4,392.5 149.6,392.4 149.9,392.7 150.1,392.4 150.4,392.7 150.6,392.3 150.9,392.6 151.1,392.5 151.4,392.6 151.6,392.6 151.9,392.4 152.1,392.6 152.4,392.4 152.6,392.4 152.9,392.6 153.1,392.5 153.4,392.4 153.6,392.3 153.9,392.5 154.1,392.3 154.4,392.6 154.6,392.4 154.9,392.5 155.1,392.6 155.4,392.5 155.6,392.2 155.9,392.5 156.1,392.5 156.4,392.6 156.6,392.3 156.9,392.5 157.1,392.6 157.4,392.3 157.6,392.7 157.9,392.4 158.1,392.5 158.4,392.3 158.6,392.3 158.9,392.6 159.1,392.3 159.4,392.6 159.6,392.5 159.9,392.3 160.1,392.3 160.4,392.6 160.6,392.5 160.9,392.2 161.1,392.1 161.4,392.6 161.6,392.2 161.9,392.4 162.1,392.4 162.4,392.1 162.6,392.3 162.9,392.5 163.1,392.4 163.4,392.2 163.6,392.1 163.9,392.5 164.1,392.2 164.4,392.3 164.6,392.6 164.9,392.2 165.1,392.3 165.4,392.6 165.6,392.2 165.9,392.5 166.1,392.2 166.4,392.6 166.6,392.3 166.9,392.4 167.1,392.6 167.4,392.1 167.6,392.0 167.9,392.5 168.1,392.5 168.4,392.1 168.6,392.6 168.9,392.2 169.1,392.0 169.4,392.6 169.6,392.0 169.9,392.5 170.1,392.3 170.4,392.6 170.6,392.0 170.9,392.3 171.1,392.3 171.4,391.9 171.2,392.3 171.4,389.5 171.6,392.3 171.6,392.6 171.9,392.2 172.1,392.7 172.4,392.0 172.6,391.5 172.9,392.7 173.1,391.7 173.4,392.4 173.6,392.3 173.9,391.8 174.1,392.2 174.4,391.9 174.6,392.3 174.9,391.7 175.1,391.9 175.4,392.7 175.6,392.0 175.9,392.3 176.1,391.8 176.4,392.5 176.6,392.5 176.9,391.7 177.1,392.5 177.4,391.6 177.6,391.7 177.9,391.5 178.1,391.7 178.4,392.5 178.6,392.1 178.9,392.0 179.1,391.6 179.4,392.3 179.6,391.7 179.9,391.8 180.1,391.1 180.4,391.8 180.6,391.7 180.9,392.2 181.1,391.5 181.4,392.3 181.6,392.4 181.9,391.9 182.1,392.4 182.4,391.4 182.6,391.2 182.9,392.0 183.1,392.5 183.4,391.1 183.6,391.7 183.9,392.2 184.1,392.1 184.4,391.1 184.6,392.0 184.9,390.8 185.1,391.3 185.4,392.2 185.6,392.4 185.9,391.4 186.1,392.5 186.4,391.4 186.6,392.7 186.9,391.6 187.1,392.4 187.4,391.5 187.6,391.5 187.9,392.6 188.1,391.4 188.4,392.1 188.6,391.0 188.9,392.1 189.1,392.6 189.4,390.7 189.6,391.2 189.9,392.5 190.1,392.2 190.4,391.2 190.6,391.5 190.9,392.4 191.1,392.3 191.4,390.9 191.6,391.4 191.9,391.7 192.1,391.7 192.4,390.6 192.6,392.5 192.9,391.2 193.1,390.4 193.4,392.3 193.6,389.9 193.9,390.9 194.1,390.4 194.4,391.4 194.6,390.7 194.9,391.6 195.1,390.7 195.4,392.2 195.6,391.8 195.9,391.3 196.1,391.5 196.4,391.0 196.6,392.1 196.9,390.0 197.1,392.6 197.4,390.3 197.6,390.6 197.9,392.0 198.1,390.9 198.4,389.6 198.6,390.6 198.9,391.3 199.1,391.9 199.4,390.4 199.6,391.7 199.9,390.5 200.1,390.6 200.4,392.3 200.6,391.9 200.9,390.4 201.1,391.3 201.4,389.7 201.6,390.4 201.9,392.0 202.1,390.2 202.4,390.9 202.6,391.2 202.9,390.0 203.1,390.6 203.4,391.6 203.6,390.1 203.9,391.5 204.1,390.6 204.4,390.2 204.6,389.4 204.9,391.3 205.1,391.4 205.4,390.0 205.6,390.5 205.9,389.5 206.1,391.5 206.4,390.6 206.6,390.2 206.9,391.5 207.1,391.3 207.4,389.7 207.6,389.1 207.9,390.9 208.1,391.2 208.4,389.3 208.6,389.9 208.9,391.2 209.1,391.5 209.4,388.7 209.6,389.7 209.9,390.5 210.1,391.4 210.4,389.8 210.6,390.7 210.9,388.7 211.1,391.1 211.4,389.0 211.6,388.6 211.9,391.1 212.1,388.9 212.4,389.1 212.6,387.9 212.9,390.3 213.1,388.6 213.4,390.5 213.6,390.9 213.9,389.4 214.1,389.1 214.4,390.5 214.6,390.8 214.9,387.4 215.1,390.0 215.4,388.1 215.6,390.3 215.9,388.5 216.1,387.6 216.4,390.4 216.6,390.3 216.9,388.6 217.1,390.1 217.4,388.2 217.6,387.5 217.9,390.2 218.1,389.4 218.4,388.8 218.6,387.4 218.9,388.1 219.1,387.6 219.4,389.8 219.6,389.0 219.9,387.6 219.8,388.8 220.0,386.8 220.2,388.8 220.1,391.0 220.4,388.0 220.6,387.6 220.9,388.6 221.1,387.4 221.4,390.4 221.6,388.0 221.9,390.3 222.1,387.8 222.4,390.6 222.6,390.3 222.9,388.6 223.1,390.2 223.4,387.8 223.6,389.5 223.9,388.8 224.1,390.0 224.4,387.7 224.6,390.0 224.9,387.3 225.1,387.3 225.4,389.6 225.6,387.7 225.9,387.9 226.1,387.8 226.4,387.1 226.6,387.3 226.9,387.8 227.1,387.2 227.4,387.9 227.6,386.2 227.9,387.9 228.1,387.4 228.4,388.6 228.6,387.8 228.9,386.5 229.1,386.1 229.4,387.5 229.6,386.0 229.9,388.1 230.1,387.9 230.4,386.2 230.6,386.2 230.9,388.9 231.2,386.6 231.4,388.7 231.6,387.9 231.9,386.6 232.1,386.4 232.4,386.7 232.7,388.4 232.9,385.9 232.8,386.8 233.0,356.4 233.2,386.8 233.1,386.0 233.4,389.9 233.6,388.1 233.8,386.8 234.1,390.2 234.4,387.4 234.7,387.3 234.9,385.8 235.1,388.6 235.4,384.1 235.7,384.9 235.9,386.8 236.1,383.8 236.4,387.2 236.6,385.4 236.8,384.9 237.1,385.4 237.4,386.7 237.7,385.5 237.9,385.0 238.2,385.3 238.4,383.4 238.6,383.8 238.9,387.0 239.1,385.2 239.4,383.4 239.6,384.0 239.9,386.9 240.1,384.4 240.4,386.5 240.6,383.8 240.9,386.4 241.1,384.1 241.4,382.7 241.6,384.1 241.9,381.9 242.2,385.7 242.4,384.6 242.7,381.4 243.0,382.3 243.3,383.2 243.6,381.0 243.8,382.9 244.1,384.0 244.4,385.6 244.7,383.8 245.0,382.5 245.3,384.7 245.6,382.6 245.9,383.5 246.2,380.0 246.6,382.2 246.9,379.8 247.2,380.0 247.5,379.1 247.8,379.8 248.2,379.3 248.5,374.7 248.9,379.4 249.2,382.8 249.6,378.3 249.9,379.0 250.3,377.5 250.6,379.9 251.0,378.4 251.4,379.4 251.7,375.6 252.1,376.5 252.5,374.0 252.9,379.2 253.3,375.9 253.7,371.2 254.1,375.8 254.5,373.7 255.0,370.4 255.4,372.1 255.8,373.1 256.3,372.4 256.7,367.0 257.2,369.8 257.7,363.6 258.1,367.2 258.6,366.1 259.1,365.3 259.6,364.3 260.1,364.1 260.6,363.7 261.2,356.1 261.7,357.1" fill="none" stroke="#619CFF" stroke-opacity="0.8" stroke-width="1.3" stroke-linejoin="round"/>
<polyline points="328.0,373.9 328.6,373.6 329.1,376.4 329.6,375.6 330.1,379.5 330.6,372.8 331.1,375.0 331.6,379.1 332.1,377.8 332.6,380.5 333.1,378.6 333.5,378.6 334.0,376.6 334.4,378.0 334.9,379.0 335.3,378.4 335.7,379.6 336.1,380.1 336.5,381.0 337.0,383.6 337.4,383.8 337.7,382.2 338.1,383.8 338.5,383.6 338.9,380.2 339.3,379.4 339.6,383.6 340.0,383.4 340.4,382.0 340.7,386.6 341.1,381.2 341.4,382.1 341.8,384.8 342.1,382.4 342.4,382.9 342.7,384.2 343.1,383.9 343.4,384.7 343.7,385.4 344.0,383.1 344.3,383.6 344.6,384.6 344.9,386.6 345.2,382.7 345.5,383.9 345.8,382.8 346.1,381.7 346.4,385.1 346.7,385.4 347.0,387.5 347.3,386.6 347.5,385.0 347.8,387.0 348.1,386.0 348.4,388.8 348.6,386.4 348.9,385.8 349.1,385.8 349.4,387.2 349.7,384.3 349.9,386.2 350.2,385.2 350.4,387.1 350.7,386.6 350.9,388.9 351.2,386.6 351.4,388.3 351.6,386.8 351.9,386.1 352.1,388.3 352.3,387.7 352.6,385.1 352.8,387.1 353.1,388.3 353.4,385.6 353.7,388.0 353.9,388.2 354.1,387.8 354.3,389.4 354.6,387.1 354.9,389.2 355.2,387.9 355.4,388.3 355.6,388.0 355.8,389.0 356.1,386.4 356.4,390.4 356.6,388.7 356.8,388.3 356.5,388.5 356.7,381.9 356.9,388.5 357.1,387.0 357.4,389.2 357.6,387.1 357.9,387.9 358.2,387.1 358.3,388.5 358.6,388.4 358.9,389.3 359.1,387.7 359.4,388.4 359.6,388.2 359.9,390.6 360.2,389.7 360.3,389.1 360.6,390.1 360.9,388.9 361.1,389.4 361.4,388.3 361.6,388.2 361.9,389.3 362.1,389.8 362.4,388.1 362.6,388.4 362.9,390.1 363.1,391.7 363.4,388.9 363.6,387.9 363.9,388.8 364.1,389.0 364.4,390.0 364.6,389.5 364.9,390.7 365.1,390.8 365.4,389.1 365.6,388.3 365.9,390.1 366.1,391.1 366.4,388.7 366.6,390.8 366.9,390.0 367.1,388.6 367.4,390.0 367.6,390.4 367.9,388.8 368.1,390.8 368.4,388.9 368.6,389.2 368.9,390.2 369.1,391.4 369.4,390.0 369.6,390.5 369.9,389.3 370.1,390.0 370.4,390.8 370.6,391.0 370.9,389.4 371.1,391.6 371.4,390.1 371.6,390.8 371.9,389.2 372.1,390.9 372.4,389.4 372.6,388.5 372.9,390.6 373.1,389.2 373.4,390.5 373.6,390.6 373.9,388.8 374.1,391.3 374.4,389.6 374.6,391.6 374.9,389.9 375.1,390.0 375.4,391.5 375.6,389.3 375.9,391.5 376.1,389.1 376.4,390.4 376.6,389.6 376.9,391.7 377.1,391.4 377.4,390.1 377.6,391.4 377.9,389.2 378.1,391.3 378.4,389.9 378.6,391.6 378.9,389.6 379.1,391.4 379.4,389.4 379.6,391.6 379.9,389.4 380.1,391.7 380.4,389.8 380.6,390.1 380.9,391.0 381.1,391.1 381.4,390.2 381.6,391.3 381.9,389.9 382.1,391.3 382.4,389.9 382.6,392.3 382.9,390.5 383.1,391.5 383.4,390.6 383.6,391.2 383.9,390.6 384.1,390.1 384.4,391.8 384.6,390.7 384.9,389.5 385.1,391.0 385.4,390.2 385.6,391.6 385.9,390.7 386.1,391.6 386.4,390.1 386.6,390.5 386.9,391.2 387.1,391.7 387.4,389.9 387.6,390.3 387.9,392.6 388.1,391.3 388.4,390.0 388.6,392.2 388.9,390.0 389.1,389.9 389.4,391.6 389.6,391.2 389.9,391.3 390.1,390.2 390.4,392.1 390.6,390.4 390.9,391.7 391.1,390.7 391.4,391.3 391.6,391.5 391.9,390.6 392.1,390.1 392.4,392.1 392.6,390.4 392.9,391.2 393.1,390.8 393.4,391.5 393.6,391.3 393.9,390.1 394.1,390.9 394.4,391.9 394.6,392.3 394.9,391.3 395.1,391.9 395.4,390.5 395.6,391.5 395.9,391.1 396.1,392.3 396.4,390.5 396.6,391.9 396.9,390.7 397.1,391.2 397.4,390.3 397.6,391.9 397.9,391.2 398.1,390.2 398.4,392.1 398.6,391.9 398.9,390.7 399.1,390.9 399.4,392.1 399.6,390.5 399.9,391.3 400.1,391.9 400.4,390.9 400.6,391.5 400.9,390.6 401.1,390.9 401.4,392.1 401.6,391.4 401.9,392.4 402.1,391.1 402.4,392.1 402.6,391.4 402.9,390.6 403.1,391.1 403.4,391.9 403.6,391.0 403.9,392.0 404.1,391.8 404.4,391.4 404.6,391.3 404.9,391.9 405.1,391.0 405.4,391.6 405.6,392.1 405.9,391.4 406.1,391.2 406.4,391.9 406.6,392.2 406.9,391.1 407.1,392.1 407.4,390.6 407.6,391.3 407.9,392.3 408.1,391.3 408.4,392.4 408.6,391.3 408.9,392.4 409.1,391.6 409.4,392.1 409.6,391.1 409.9,392.7 410.1,391.5 410.4,392.3 410.6,391.4 410.9,392.8 411.1,392.7 411.4,391.0 411.6,392.7 411.9,391.8 412.1,391.7 412.4,392.4 412.6,392.1 412.9,390.8 413.1,392.7 413.4,390.7 413.6,392.1 413.9,390.8 414.1,392.4 414.4,391.1 414.6,392.5 414.9,391.1 415.1,392.3 415.4,391.3 415.6,391.3 415.9,392.5 416.1,392.5 416.4,391.0 416.6,390.9 416.9,392.3 417.1,391.4 417.4,392.4 417.6,392.0 417.9,391.1 418.1,392.2 418.4,391.1 418.6,392.2 418.9,391.5 419.1,392.3 419.4,390.9 419.6,392.3 419.9,391.2 420.1,391.2 420.4,392.3 420.6,391.4 420.9,392.5 421.1,391.5 421.4,392.8 421.6,391.6 421.9,392.4 422.1,392.1 422.4,392.8 422.6,392.7 422.9,391.5 423.1,392.6 423.4,391.9 423.6,391.6 423.9,392.5 424.1,392.0 424.4,391.7 424.6,392.6 424.9,391.7 425.1,392.2 425.4,391.6 425.6,391.9 425.9,392.5 426.1,391.8 426.4,392.7 426.6,391.8 426.9,392.6 427.1,391.9 427.4,392.7 427.6,392.7 427.9,391.8 428.1,391.7 428.4,392.3 428.6,391.9 428.9,392.6 429.1,392.6 429.4,392.1 429.6,392.7 429.9,391.9 430.1,392.3 430.4,391.8 430.6,391.9 430.9,392.8 431.1,392.3 431.4,391.8 431.6,392.0 431.9,392.3 432.1,392.3 432.4,392.0 432.6,392.4 432.9,392.1 433.1,392.4 433.4,392.0 433.6,392.1 433.9,392.4 434.1,392.2 434.4,392.5 434.6,392.6 434.9,392.0 435.1,392.0 435.4,392.6 435.6,392.5 435.9,391.9 436.1,392.2 436.4,392.6 436.6,392.1 436.9,392.4 437.1,392.7 437.4,392.1 437.6,392.3 437.9,392.6 438.1,392.6 438.4,392.1 438.6,391.9 438.9,392.6 439.1,392.3 439.4,392.1 439.6,392.3 439.9,392.5 440.1,392.6 440.4,392.4 440.6,392.6 440.9,392.0 441.1,392.4 441.4,392.2 441.6,392.1 441.9,392.5 442.1,392.5 442.4,392.2 442.6,392.5 442.9,392.2 443.1,392.4 443.4,392.3 443.6,392.2 443.9,392.6 444.1,392.4 444.4,392.5 444.6,392.6 444.9,392.5 445.1,392.3 445.4,392.6 445.6,392.5 445.9,392.3 446.1,392.7 446.4,392.4 446.6,392.3 446.9,392.5 447.1,392.4 447.4,392.5 447.6,392.4 447.9,392.6 448.1,392.4 448.4,392.5 448.6,392.7 448.9,392.4 449.1,392.4 449.4,392.7 449.6,392.5 449.9,392.6 450.1,392.4 450.4,392.6 450.6,392.6 450.9,392.4 451.1,392.6 451.4,392.6 451.6,392.4 451.9,392.6 452.1,392.5 452.4,392.6 452.6,392.6 452.9,392.4 453.1,392.5 453.4,392.7 453.6,392.5 453.9,392.6 454.1,392.6 454.4,392.5 454.6,392.5 454.9,392.7 455.1,392.6 455.4,392.5 455.6,392.6 455.9,392.5 456.1,392.6 456.4,392.5 456.6,392.5 456.9,392.6 457.1,392.6 457.4,392.6 457.6,392.5 457.9,392.7 458.1,392.6 458.4,392.7 458.6,392.6 458.9,392.7 459.1,392.7 459.4,392.6 459.6,392.7 459.9,392.5 460.1,392.6 460.4,392.7 460.6,392.6 460.9,392.7 461.1,392.7 461.4,392.6 461.6,392.7 461.9,392.6 462.1,392.6 462.4,392.6 462.6,392.7 462.9,392.6 463.1,392.6 463.4,392.7 463.6,392.7 463.9,392.6 464.1,392.6 464.4,392.7 464.6,392.6 464.9,392.6 465.1,392.7 465.4,392.6 465.6,392.6 465.9,392.6 466.1,392.7 466.4,392.6 466.6,392.7 466.9,392.6 467.1,392.7 467.4,392.6 467.6,392.6 467.9,392.7 468.1,392.7 468.4,392.6 468.6,392.6 468.9,392.7 469.1,392.7 469.4,392.6 469.6,392.6 469.9,392.7 470.1,392.6 470.4,392.7 470.6,392.6 470.9,392.7 471.1,392.6 471.4,392.7 471.6,392.6 471.9,392.7 472.1,392.7 472.4,392.7 472.6,392.6 472.9,392.7 473.1,392.7 473.4,392.6 473.6,392.6 473.9,392.7 474.1,392.7 474.4,392.6 474.6,392.6 474.9,392.7 475.1,392.7 475.4,392.6 475.6,392.7 475.9,392.7 476.1,392.6 476.4,392.7 476.6,392.7 476.9,392.6 477.1,392.7 477.4,392.6 477.6,392.7 477.9,392.6 478.1,392.7 478.4,392.7 478.6,392.6 478.9,392.7 479.1,392.7 479.4,392.6 479.6,392.7 479.9,392.6 480.1,392.7 480.4,392.6 480.6,392.7 480.9,392.6 481.1,392.7 481.4,392.6 481.6,392.7 481.9,392.7 482.1,392.7 482.4,392.6 482.6,392.7 482.9,392.7 483.1,392.6 483.4,392.7 483.6,392.7 483.9,392.6 484.1,392.6 484.4,392.7 484.6,392.6 484.9,392.8 485.1,392.7 485.4,392.7 485.6,392.7 485.9,392.7 486.1,392.6 486.4,392.7 486.6,392.6 486.9,392.7 487.1,392.6 487.4,392.7 487.6,392.7 487.9,392.7 488.1,392.7 488.4,392.7 488.6,392.7 488.9,392.6 489.1,392.7 489.4,392.7 489.6,392.7 489.9,392.7 490.1,392.7 490.4,392.7 490.6,392.7 490.9,392.7 491.1,392.7 491.4,392.6 491.6,392.7 491.9,392.7 492.1,392.7 492.4,392.7 492.6,392.7 492.9,392.7 493.1,392.7 493.4,392.7 493.6,392.7 493.9,392.7 494.1,392.7 494.4,392.7 494.6,392.7 494.9,392.7 495.1,392.7 495.4,392.7 495.6,392.7 495.9,392.7 496.1,392.7 496.4,392.7 496.6,392.7 496.9,392.7 497.1,392.7 497.4,392.7 497.6,392.7 497.9,392.7 498.1,392.7 498.4,392.7 498.6,392.7 498.9,392.7 499.1,392.7 499.4,392.7 499.6,392.7 499.9,392.7 500.1,392.7 500.4,392.7 500.6,392.7 500.9,392.6 501.1,392.7 501.4,392.7 501.6,392.7 501.9,392.7 502.1,392.7 502.4,392.7 502.6,392.7 502.9,392.7 503.1,392.7 503.4,392.7 503.6,392.7 503.9,392.7 504.1,392.7 504.4,392.7 504.6,392.7 504.9,392.7 505.1,392.7 505.4,392.7 505.6,392.7 505.9,392.7 506.1,392.7 506.4,392.7 506.6,392.7 506.9,392.7 507.1,392.7 507.4,392.7 507.6,392.7 507.9,392.7 508.1,392.7 508.4,392.7 508.6,392.7 508.9,392.7 509.1,392.7 509.2,392.7" fill="none" stroke="#F8766D" stroke-opacity="0.8" stroke-width="1.3" stroke-linejoin="round"/>
<polyline points="328.0,364.9 328.6,368.5 329.1,374.1 329.6,365.2 330.1,371.7 330.6,372.7 331.1,375.1 331.6,374.9 332.1,374.8 332.6,374.0 333.1,377.1 333.5,374.1 334.0,375.1 334.4,377.6 334.9,376.5 335.3,378.8 335.7,378.1 336.1,376.8 336.5,378.8 337.0,378.0 337.4,377.3 337.7,379.9 338.1,378.5 338.5,378.1 338.9,377.5 339.3,378.9 339.6,380.6 340.0,378.8 340.4,378.4 340.7,380.6 341.1,378.5 341.4,382.1 341.8,380.8 342.1,380.0 342.4,382.7 342.7,383.1 343.1,379.8 343.4,382.4 343.7,382.3 344.0,379.6 344.3,384.2 344.6,385.8 344.9,385.6 345.2,383.7 345.5,382.4 345.8,381.4 346.1,380.4 346.4,382.8 346.7,383.2 347.0,383.8 347.3,381.1 347.5,384.1 347.8,381.7 348.1,381.1 348.4,382.3 348.6,383.7 348.9,383.2 349.1,384.0 349.4,383.8 349.7,382.9 349.9,383.7 350.2,387.4 350.4,384.4 350.7,385.2 350.9,383.9 351.2,384.8 351.4,381.9 351.6,385.1 351.9,387.3 352.1,384.3 352.3,386.3 352.6,384.8 352.8,381.9 353.1,385.1 353.4,383.1 353.7,387.1 353.9,386.4 354.1,382.7 354.3,385.4 354.6,381.0 354.9,386.7 355.2,385.3 355.4,385.4 355.6,383.6 355.8,386.3 356.1,386.8 356.4,385.7 356.6,385.5 356.8,385.9 356.5,386.1 356.7,365.6 356.9,386.1 357.1,388.1 357.4,383.7 357.6,387.2 357.9,385.9 358.2,386.9 358.3,386.3 358.6,387.5 358.9,385.6 359.1,385.3 359.4,387.7 359.6,386.7 359.9,389.1 360.2,387.3 360.3,388.7 360.6,388.3 360.9,387.8 361.1,387.9 361.4,387.3 361.6,386.3 361.9,387.3 362.1,389.4 362.4,387.1 362.6,389.4 362.9,386.3 363.1,388.9 363.4,387.8 363.6,387.5 363.9,385.8 364.1,389.5 364.4,388.6 364.6,389.2 364.9,387.9 365.1,390.3 365.4,388.5 365.6,387.3 365.9,390.1 366.1,387.2 366.4,389.3 366.6,389.7 366.9,388.2 367.1,389.3 367.4,387.9 367.6,386.6 367.9,389.1 368.1,388.1 368.4,389.8 368.6,387.7 368.9,389.8 369.1,390.4 369.4,388.5 369.6,390.8 369.9,389.7 370.1,391.0 370.4,389.2 370.6,390.7 370.9,388.5 371.1,388.1 371.4,390.6 371.6,390.8 371.9,389.2 372.1,389.9 372.4,387.8 372.6,391.4 372.9,388.5 373.1,390.1 373.4,387.5 373.6,389.0 373.9,390.4 374.1,390.2 374.4,389.6 374.6,388.6 374.9,390.8 375.1,388.7 375.4,390.1 375.6,387.8 375.9,390.2 376.1,390.2 376.4,388.7 376.6,390.2 376.9,388.9 377.1,390.5 377.4,388.1 377.6,391.0 377.9,389.7 378.1,391.0 378.4,388.8 378.6,388.9 378.9,391.2 379.1,389.5 379.4,390.9 379.6,391.0 379.9,389.2 380.1,388.6 380.4,390.2 380.6,391.3 380.9,388.8 381.1,390.0 381.4,391.8 381.6,390.7 381.9,389.0 382.1,389.4 382.4,390.3 382.6,390.5 382.9,388.7 383.1,390.8 383.4,389.4 383.6,390.1 383.9,390.9 384.1,388.8 384.4,391.5 384.6,390.5 384.9,389.9 385.1,389.7 385.4,391.1 385.6,391.5 385.9,390.0 386.1,390.2 386.4,392.3 386.6,389.7 386.9,391.3 387.1,388.3 387.4,390.8 387.6,389.7 387.9,390.7 388.1,389.2 388.4,391.3 388.6,390.5 388.9,391.1 389.1,391.0 389.4,388.9 389.6,390.6 389.9,389.9 390.1,391.9 390.4,389.7 390.6,389.7 390.9,390.9 391.1,390.0 391.4,392.0 391.6,390.0 391.9,390.9 392.1,389.6 392.4,392.3 392.6,391.8 392.9,390.7 393.1,389.9 393.4,391.3 393.6,391.5 393.9,390.9 394.1,391.2 394.4,390.6 394.6,391.8 394.9,390.5 395.1,390.2 395.4,391.3 395.6,390.6 395.9,391.7 396.1,391.5 396.4,390.3 396.6,390.0 396.9,390.7 397.1,391.8 397.4,390.6 397.6,391.6 397.9,390.1 398.1,390.8 398.4,391.8 398.6,389.7 398.9,391.6 399.1,390.1 399.4,391.8 399.6,392.2 399.9,390.7 400.1,391.6 400.4,390.2 400.6,390.5 400.9,391.6 401.1,392.0 401.4,390.6 401.6,392.0 401.9,390.5 402.1,390.9 402.4,392.5 402.6,391.4 402.9,392.1 403.1,390.1 403.4,391.2 403.6,390.8 403.9,391.4 404.1,390.7 404.4,391.7 404.6,391.0 404.9,391.9 405.1,392.7 405.4,391.6 405.6,391.7 405.9,390.6 406.1,390.6 406.4,392.1 406.6,392.3 406.9,390.3 407.1,390.7 407.4,391.9 407.6,391.7 407.9,391.4 408.1,392.3 408.4,391.0 408.6,391.5 408.9,392.7 409.1,391.5 409.4,391.9 409.6,392.7 409.9,391.0 410.1,392.2 410.4,390.7 410.6,391.7 410.9,390.9 411.1,391.0 411.4,392.7 411.6,391.2 411.9,392.3 412.1,390.9 412.4,392.0 412.6,390.7 412.9,392.3 413.1,392.8 413.4,391.4 413.6,392.4 413.9,391.6 414.1,391.2 414.4,392.4 414.6,390.4 414.9,392.2 415.1,391.7 415.4,390.8 415.6,390.8 415.9,391.9 416.1,392.4 416.4,391.1 416.6,390.9 416.9,392.7 417.1,392.1 417.4,391.0 417.6,392.7 417.9,391.0 418.1,392.4 418.4,391.4 418.6,391.7 418.9,391.2 419.1,391.4 419.4,392.2 419.6,391.3 419.9,391.6 420.1,391.5 420.4,392.0 420.6,392.0 420.9,392.3 421.1,392.4 421.4,391.8 421.6,391.5 421.9,392.0 422.1,391.3 422.4,392.4 422.6,392.6 422.9,391.4 423.1,391.2 423.4,391.9 423.6,391.5 423.9,392.7 424.1,392.2 424.4,391.3 424.6,392.4 424.9,391.2 425.1,392.8 425.4,391.8 425.6,391.5 425.9,392.7 426.1,392.4 426.4,391.5 426.6,391.7 426.9,392.2 427.1,392.4 427.4,391.5 427.6,392.8 427.9,391.6 428.1,392.7 428.4,391.7 428.6,391.4 428.9,392.3 429.1,391.7 429.4,392.4 429.6,392.5 429.9,391.3 430.1,392.3 430.4,391.5 430.6,391.7 430.9,392.1 431.1,391.8 431.4,392.5 431.6,391.7 431.9,392.0 432.1,392.2 432.4,391.4 432.6,392.0 432.9,392.6 433.1,392.5 433.4,391.8 433.6,391.8 433.9,392.5 434.1,392.0 434.4,392.4 434.6,392.4 434.9,392.0 435.1,392.6 435.4,391.6 435.6,392.4 435.9,391.8 436.1,391.8 436.4,392.3 436.6,392.7 436.9,391.8 437.1,391.9 437.4,392.5 437.6,391.9 437.9,392.3 438.1,392.5 438.4,391.9 438.6,392.3 438.9,392.4 439.1,392.2 439.4,392.4 439.6,391.9 439.9,392.6 440.1,392.1 440.4,392.4 440.6,392.3 440.9,392.3 441.1,392.0 441.4,392.4 441.6,392.7 441.9,392.1 442.1,392.3 442.4,392.8 442.6,392.4 442.9,392.2 443.1,392.5 443.4,392.3 443.6,392.6 443.9,392.2 444.1,392.3 444.4,392.5 444.6,392.3 444.9,392.6 445.1,392.5 445.4,392.1 445.6,392.3 445.9,392.6 446.1,392.5 446.4,392.2 446.6,392.3 446.9,392.6 447.1,392.3 447.4,392.5 447.6,392.6 447.9,392.3 448.1,392.5 448.4,392.3 448.6,392.4 448.9,392.6 449.1,392.4 449.4,392.7 449.6,392.6 449.9,392.4 450.1,392.3 450.4,392.5 450.6,392.6 450.9,392.4 451.1,392.6 451.4,392.4 451.6,392.4 451.9,392.5 452.1,392.6 452.4,392.5 452.6,392.5 452.9,392.4 453.1,392.6 453.4,392.5 453.6,392.5 453.9,392.6 454.1,392.6 454.4,392.5 454.6,392.4 454.9,392.7 455.1,392.5 455.4,392.6 455.6,392.5 455.9,392.6 456.1,392.5 456.4,392.6 456.6,392.6 456.9,392.5 457.1,392.6 457.4,392.5 457.6,392.7 457.9,392.4 458.1,392.7 458.4,392.5 458.6,392.6 458.9,392.6 459.1,392.6 459.4,392.5 459.6,392.5 459.9,392.6 460.1,392.5 460.4,392.7 460.6,392.6 460.9,392.7 461.1,392.6 461.4,392.5 461.6,392.6 461.9,392.5 462.1,392.5 462.4,392.6 462.6,392.7 462.9,392.6 463.1,392.6 463.4,392.7 463.6,392.7 463.9,392.6 464.1,392.6 464.4,392.5 464.6,392.6 464.9,392.5 465.1,392.6 465.4,392.7 465.6,392.6 465.9,392.7 466.1,392.6 466.4,392.7 466.6,392.7 466.9,392.6 467.1,392.5 467.4,392.7 467.6,392.6 467.9,392.6 468.1,392.6 468.4,392.6 468.6,392.6 468.9,392.7 469.1,392.7 469.4,392.6 469.6,392.6 469.9,392.6 470.1,392.7 470.4,392.5 470.6,392.7 470.9,392.6 471.1,392.7 471.4,392.6 471.6,392.6 471.9,392.6 472.1,392.7 472.4,392.6 472.6,392.6 472.9,392.7 473.1,392.7 473.4,392.5 473.6,392.6 473.9,392.7 474.1,392.6 474.4,392.7 474.6,392.6 474.9,392.7 475.1,392.6 475.4,392.7 475.6,392.7 475.9,392.6 476.1,392.5 476.4,392.7 476.6,392.6 476.9,392.7 477.1,392.6 477.4,392.7 477.6,392.6 477.9,392.7 478.1,392.6 478.4,392.7 478.6,392.7 478.9,392.6 479.1,392.7 479.4,392.6 479.6,392.6 479.9,392.7 480.1,392.7 480.4,392.6 480.6,392.7 480.9,392.6 481.1,392.6 481.4,392.7 481.6,392.6 481.9,392.7 482.1,392.6 482.4,392.7 482.6,392.6 482.9,392.7 483.1,392.7 483.4,392.6 483.6,392.7 483.9,392.6 484.1,392.6 484.4,392.7 484.6,392.7 484.9,392.6 485.1,392.7 485.4,392.6 485.6,392.6 485.9,392.7 486.1,392.7 486.4,392.6 486.6,392.6 486.9,392.7 487.1,392.7 487.4,392.6 487.6,392.6 487.9,392.7 488.1,392.7 488.4,392.7 488.6,392.6 488.9,392.7 489.1,392.7 489.4,392.7 489.6,392.6 489.9,392.7 490.1,392.7 490.4,392.7 490.6,392.7 490.9,392.7 491.1,392.7 491.4,392.6 491.6,392.7 491.9,392.7 492.1,392.7 492.4,392.7 492.6,392.7 492.9,392.7 493.1,392.7 493.4,392.6 493.6,392.7 493.9,392.6 494.1,392.7 494.4,392.7 494.6,392.7 494.9,392.7 495.1,392.7 495.4,392.6 495.6,392.7 495.9,392.7 496.1,392.7 496.4,392.6 496.6,392.7 496.9,392.7 497.1,392.7 497.4,392.7 497.6,392.7 497.9,392.6 498.1,392.7 498.4,392.7 498.6,392.7 498.9,392.6 499.1,392.7 499.4,392.7 499.6,392.7 499.9,392.7 500.1,392.6 500.4,392.7 500.6,392.7 500.9,392.7" fill="none" stroke="#00BA38" stroke-opacity="0.8" stroke-width="1.3" stroke-linejoin="round"/>
<polyline points="328.0,346.7 328.6,354.8 329.1,358.1 329.6,361.6 330.1,363.7 330.6,367.8 331.1,366.1 331.6,369.4 332.1,369.9 332.6,372.6 333.1,374.3 333.5,371.6 334.0,372.4 334.4,374.5 334.9,373.8 335.3,374.9 335.7,373.9 336.1,373.5 336.5,372.0 337.0,378.5 337.4,376.6 337.7,378.7 338.1,377.5 338.5,378.7 338.9,379.5 339.3,378.2 339.6,378.9 340.0,380.5 340.4,380.7 340.7,377.8 341.1,378.4 341.4,377.1 341.8,379.6 342.1,377.2 342.4,380.3 342.7,378.6 343.1,382.4 343.4,376.5 343.7,380.8 344.0,380.3 344.3,379.4 344.6,382.2 344.9,378.9 345.2,382.5 345.5,381.0 345.8,380.7 346.1,383.8 346.4,381.2 346.7,382.8 347.0,380.3 347.3,384.0 347.5,380.9 347.8,385.1 348.1,382.5 348.4,386.6 348.6,382.5 348.9,383.1 349.1,385.0 349.4,383.0 349.7,381.9 349.9,382.9 350.2,385.0 350.4,382.3 350.7,387.5 350.9,385.3 351.2,385.3 351.4,387.2 351.6,384.1 351.9,384.3 352.1,384.5 352.3,387.8 352.6,384.5 352.8,384.1 353.1,387.5 353.4,384.4 353.7,385.3 353.9,386.2 354.1,384.0 354.3,387.3 354.6,387.5 354.9,388.7 355.2,387.4 355.4,383.7 355.6,387.1 355.8,383.6 356.1,387.0 356.4,388.7 356.6,387.4 356.8,387.0 356.5,386.9 356.7,375.1 356.9,386.9 357.1,388.4 357.4,386.6 357.6,388.7 357.9,386.5 358.2,386.3 358.3,388.2 358.6,387.1 358.9,388.6 359.1,387.4 359.4,389.5 359.6,385.8 359.9,387.0 360.2,387.2 360.3,388.4 360.6,387.4 360.9,387.8 361.1,386.8 361.4,387.9 361.6,388.7 361.9,386.3 362.1,386.9 362.4,388.3 362.6,385.3 362.9,391.3 363.1,389.7 363.4,387.4 363.6,387.4 363.9,389.7 364.1,387.1 364.4,387.8 364.6,387.1 364.9,389.2 365.1,386.8 365.4,389.8 365.6,387.9 365.9,390.8 366.1,387.5 366.4,390.3 366.6,388.0 366.9,389.0 367.1,389.3 367.4,387.4 367.6,387.5 367.9,390.6 368.1,388.0 368.4,390.4 368.6,389.2 368.9,389.9 369.1,390.2 369.4,388.2 369.6,390.0 369.9,389.2 370.1,389.0 370.4,387.7 370.6,390.0 370.9,389.4 371.1,389.4 371.4,386.6 371.6,389.0 371.9,390.5 372.1,390.1 372.4,388.9 372.6,391.3 372.9,388.8 373.1,387.4 373.4,390.4 373.6,390.2 373.9,389.8 374.1,389.0 374.4,390.7 374.6,389.1 374.9,390.2 374.8,389.9 375.0,386.0 375.2,389.9 375.1,389.6 375.4,390.2 375.6,388.8 375.9,390.6 376.1,391.3 376.4,389.1 376.6,388.0 376.9,390.6 377.1,388.8 377.4,391.2 377.6,391.0 377.9,389.5 378.1,388.7 378.4,391.7 378.6,388.9 378.9,391.8 379.1,388.4 379.4,390.0 379.6,388.3 379.9,391.6 380.1,389.6 380.4,391.0 380.6,389.4 380.9,390.2 381.1,392.2 381.4,389.0 381.6,389.6 381.9,390.8 382.1,390.6 382.4,388.9 382.6,389.8 382.9,391.3 383.1,389.8 383.4,390.3 383.6,389.3 383.9,391.6 384.1,388.6 384.4,390.8 384.6,389.1 384.9,390.5 385.1,391.1 385.4,389.6 385.6,389.1 385.9,390.9 386.1,389.5 386.4,392.6 386.6,390.0 386.9,391.3 387.1,389.7 387.4,391.2 387.6,391.4 387.9,389.2 388.1,389.5 388.4,391.2 388.6,391.6 388.9,389.9 389.1,388.4 389.4,391.7 389.6,388.8 389.9,390.7 390.1,392.2 390.4,390.7 390.6,389.1 390.9,391.6 391.1,391.3 391.4,390.7 391.6,390.2 391.9,391.9 392.1,391.9 392.4,390.0 392.6,391.6 392.9,389.9 393.1,389.6 393.4,390.6 393.6,390.4 393.9,392.2 394.1,391.3 394.4,390.5 394.6,391.8 394.9,389.9 395.1,391.5 395.4,389.8 395.6,391.8 395.9,390.7 396.1,392.5 396.4,389.4 396.6,391.8 396.9,390.8 397.1,391.0 397.4,392.7 397.6,389.5 397.9,391.3 398.1,389.7 398.4,391.2 398.6,390.5 398.9,392.4 399.1,392.1 399.4,389.4 399.6,391.7 399.9,390.1 400.1,391.2 400.4,389.4 400.6,390.6 400.9,392.1 401.1,392.0 401.4,389.7 401.6,390.9 401.9,392.0 402.1,390.3 402.4,392.3 402.6,391.7 402.9,389.9 403.1,389.8 403.4,392.7 403.6,391.3 403.9,390.3 404.1,391.9 404.4,390.6 404.6,390.5 404.9,392.1 405.1,391.8 405.4,389.4 405.6,390.2 405.9,391.6 406.1,390.1 406.4,392.3 406.6,390.7 406.9,391.9 407.1,391.5 407.4,390.5 407.6,391.0 407.9,390.2 408.1,391.7 408.4,390.7 408.6,390.0 408.9,391.5 409.1,391.5 409.4,390.4 409.6,390.0 409.9,392.7 410.1,390.9 410.4,392.3 410.6,391.7 410.9,390.8 411.1,391.5 411.4,390.6 411.6,390.7 411.9,390.0 412.1,392.3 412.4,391.7 412.6,392.6 412.9,390.8 413.1,390.6 413.4,392.3 413.6,391.9 413.9,391.2 414.1,391.2 414.4,392.7 414.6,392.0 414.9,390.6 415.1,392.1 415.4,390.7 415.6,392.2 415.9,391.0 416.1,390.2 416.4,392.0 416.6,392.3 416.9,391.4 417.1,390.8 417.4,392.1 417.6,391.7 417.9,392.1 418.1,392.7 418.4,391.6 418.6,390.7 418.9,392.4 419.1,391.7 419.4,392.1 419.6,390.4 419.9,392.0 420.1,390.5 420.4,392.3 420.6,392.4 420.9,391.3 421.1,390.7 421.4,391.8 421.6,392.0 421.9,391.3 422.1,392.2 422.4,391.3 422.6,392.8 422.9,391.1 423.1,391.1 423.4,392.4 423.6,391.1 423.9,392.4 424.1,392.0 424.4,391.6 424.6,391.5 424.9,392.0 425.1,391.1 425.4,392.7 425.6,391.5 425.9,392.7 426.1,392.3 426.4,392.0 426.6,392.2 426.9,391.8 427.1,391.6 427.4,392.1 427.6,392.2 427.9,391.3 428.1,392.3 428.4,391.7 428.6,392.1 428.9,391.3 429.1,391.4 429.4,392.1 429.6,391.6 429.9,392.8 430.1,392.8 430.4,390.8 430.6,392.7 430.9,391.5 431.1,392.5 431.4,391.9 431.6,391.9 431.9,392.1 432.1,391.2 432.4,391.9 432.6,392.1 432.9,392.5 433.1,391.6 433.4,391.9 433.6,391.7 433.9,392.7 434.1,391.7 434.4,392.7 434.6,392.6 434.9,392.0 435.1,392.8 435.4,391.7 435.6,392.5 435.9,391.6 436.1,391.8 436.4,392.4 436.6,392.4 436.9,391.6 437.1,392.8 437.4,392.1 437.6,392.5 437.9,391.7 438.1,391.8 438.4,392.8 438.6,391.9 438.9,392.6 439.1,392.2 439.4,391.8 439.6,391.8 439.9,392.5 440.1,391.9 440.4,392.3 440.6,392.6 440.9,391.9 441.1,391.7 441.4,392.3 441.6,392.6 441.9,391.9 442.1,392.6 442.4,391.8 442.6,392.1 442.9,392.4 443.1,392.2 443.4,392.6 443.6,392.1 443.9,392.5 444.1,392.2 444.4,392.5 444.6,392.1 444.9,392.8 445.1,392.4 445.4,392.2 445.6,392.7 445.9,392.1 446.1,392.4 446.4,392.2 446.6,392.4 446.9,392.1 447.1,392.5 447.4,392.2 447.6,392.7 447.9,392.1 448.1,392.4 448.4,392.6 448.6,392.5 448.9,392.0 449.1,392.6 449.4,392.2 449.6,392.1 449.9,392.4 450.1,392.6 450.4,392.3 450.6,392.3 450.9,392.7 451.1,392.1 451.4,392.6 451.6,392.3 451.9,392.7 452.1,392.3 452.4,392.6 452.6,392.4 452.9,392.7 453.1,392.7 453.4,392.4 453.6,392.3 453.9,392.6 454.1,392.1 454.4,392.7 454.6,392.6 454.9,392.4 455.1,392.7 455.4,392.4 455.6,392.4 455.9,392.6 456.1,392.6 456.4,392.4 456.6,392.6 456.9,392.5 457.1,392.5 457.4,392.4 457.6,392.4 457.9,392.6 458.1,392.6 458.4,392.4 458.6,392.5 458.9,392.6 459.1,392.6 459.4,392.5 459.6,392.6 459.9,392.4 460.1,392.6 460.4,392.5 460.6,392.6 460.9,392.6 461.1,392.7 461.4,392.6 461.6,392.5 461.9,392.7 462.1,392.5 462.4,392.7 462.6,392.6 462.9,392.6 463.1,392.7 463.4,392.5 463.6,392.5 463.9,392.6 464.1,392.5 464.4,392.6 464.6,392.5 464.9,392.6 465.1,392.6 465.4,392.5 465.6,392.6 465.9,392.5 466.1,392.5 466.4,392.6 466.6,392.7 466.9,392.5 467.1,392.7 467.4,392.5 467.6,392.5 467.9,392.7 468.1,392.7 468.4,392.5 468.6,392.5 468.9,392.6 469.1,392.5 469.4,392.6 469.6,392.6 469.9,392.6 470.1,392.6 470.4,392.5 470.6,392.7 470.9,392.5 471.1,392.6 471.4,392.5 471.6,392.5 471.9,392.6 472.1,392.6 472.4,392.7 472.6,392.5 472.9,392.7 473.1,392.7 473.4,392.6 473.6,392.7 473.9,392.6 474.1,392.5 474.4,392.6 474.6,392.7 474.9,392.6 475.1,392.7 475.4,392.6 475.6,392.6 475.9,392.5 476.1,392.6 476.4,392.6 476.6,392.6 476.9,392.6 477.1,392.7 477.4,392.6 477.6,392.7 477.9,392.6 478.1,392.7 478.4,392.6 478.6,392.7 478.9,392.6 479.1,392.7 479.4,392.6 479.6,392.6 479.9,392.7 480.1,392.5 480.4,392.6 480.6,392.6 480.9,392.6 481.1,392.6 481.4,392.6 481.6,392.6 481.9,392.6 482.1,392.7 482.4,392.6 482.6,392.7 482.9,392.6 483.1,392.6 483.4,392.7 483.6,392.7 483.9,392.6 484.1,392.7 484.4,392.6 484.6,392.7 484.9,392.6 485.1,392.6 485.4,392.6 485.6,392.7 485.9,392.6 486.1,392.7 486.4,392.6 486.6,392.6 486.9,392.7 487.1,392.6 487.4,392.6 487.6,392.7 487.9,392.6 488.1,392.6 488.4,392.7 488.6,392.7 488.9,392.6 489.1,392.7 489.4,392.6 489.6,392.7 489.9,392.6 490.1,392.7 490.4,392.7 490.6,392.7 490.9,392.6 491.1,392.7 491.4,392.6 491.6,392.7 491.9,392.7 492.1,392.7 492.4,392.6 492.6,392.7 492.9,392.6 493.1,392.7 493.4,392.7 493.6,392.6 493.9,392.7 494.1,392.7 494.4,392.6 494.6,392.6 494.9,392.7 495.1,392.6 495.4,392.7 495.6,392.7 495.9,392.7 496.1,392.7 496.4,392.6 496.6,392.6 496.9,392.7 497.1,392.7 497.4,392.6 497.6,392.7 497.9,392.6 498.1,392.6 498.4,392.7 498.6,392.7 498.9,392.6 499.1,392.7 499.4,392.7 499.6,392.6 499.9,392.7 500.1,392.6 500.4,392.7 500.6,392.7 500.9,392.7 501.1,392.7 501.4,392.7 501.6,392.7 501.9,392.6 502.1,392.7 502.4,392.7 502.6,392.7 502.9,392.7 503.1,392.7 503.4,392.7 503.6,392.6 503.9,392.7 504.1,392.7 504.4,392.7 504.6,392.7 504.9,392.7 505.1,392.7 505.4,392.7 505.6,392.7 505.9,392.7 506.1,392.7 506.4,392.7 506.6,392.7 506.9,392.7 507.1,392.7 507.4,392.7 507.6,392.7 507.9,392.7 508.1,392.7 508.4,392.7 508.6,392.7 508.9,392.7 509.1,392.7 509.4,392.7 509.6,392.7 509.9,392.7 510.1,392.7 510.4,392.7 510.6,392.7 510.9,392.7 511.1,392.7 511.4,392.7 511.6,392.7 511.9,392.7 512.1,392.7 512.4,392.7 512.6,392.7 512.9,392.7 513.1,392.7 513.4,392.7 513.6,392.7 513.9,392.7 514.1,392.7 514.4,392.7 514.6,392.7 514.9,392.7 515.1,392.7 515.4,392.7 515.6,392.7 515.9,392.7 516.1,392.7 516.4,392.7 516.6,392.7 516.9,392.7 517.1,392.7 517.4,392.7 517.5,392.8" fill="none" stroke="#619CFF" stroke-opacity="0.8" stroke-width="1.3" stroke-linejoin="round"/>
<text x="0.00" y="0.00" font-size="9.2" text-anchor="middle" fill="#000" font-weight="normal" font-family="'Liberation Sans', Arial, sans-serif" stroke="#000" stroke-width="0.22" transform="translate(12.4,481.4) rotate(-90)">CLR</text>
<line x1="40.50" y1="436.80" x2="40.50" y2="526.70" stroke="#333333" stroke-width="1"/>
<line x1="40.00" y1="526.20" x2="272.40" y2="526.20" stroke="#333333" stroke-width="1"/>
<line x1="38.20" y1="440.50" x2="40.50" y2="440.50" stroke="#333333" stroke-width="1"/>
<text x="36.80" y="442.90" font-size="6.8" text-anchor="end" fill="#444444" font-weight="normal" font-family="'Liberation Sans', Arial, sans-serif" stroke="#444444" stroke-width="0.22" >600</text>
<line x1="38.20" y1="467.80" x2="40.50" y2="467.80" stroke="#333333" stroke-width="1"/>
<text x="36.80" y="470.20" font-size="6.8" text-anchor="end" fill="#444444" font-weight="normal" font-family="'Liberation Sans', Arial, sans-serif" stroke="#444444" stroke-width="0.22" >400</text>
<line x1="38.20" y1="495.10" x2="40.50" y2="495.10" stroke="#333333" stroke-width="1"/>
<text x="36.80" y="497.50" font-size="6.8" text-anchor="end" fill="#444444" font-weight="normal" font-family="'Liberation Sans', Arial, sans-serif" stroke="#444444" stroke-width="0.22" >200</text>
<line x1="38.20" y1="522.30" x2="40.50" y2="522.30" stroke="#333333" stroke-width="1"/>
<text x="36.80" y="524.70" font-size="6.8" text-anchor="end" fill="#444444" font-weight="normal" font-family="'Liberation Sans', Arial, sans-serif" stroke="#444444" stroke-width="0.22" >0</text>
<line x1="51.60" y1="526.20" x2="51.60" y2="528.40" stroke="#333333" stroke-width="1"/>
<text x="51.60" y="535.20" font-size="6.8" text-anchor="middle" fill="#444444" font-weight="normal" font-family="'Liberation Sans', Arial, sans-serif" stroke="#444444" stroke-width="0.22" >-100kb</text>
<line x1="115.40" y1="526.20" x2="115.40" y2="528.40" stroke="#333333" stroke-width="1"/>
<text x="115.40" y="535.20" font-size="6.8" text-anchor="middle" fill="#444444" font-weight="normal" font-family="'Liberation Sans', Arial, sans-serif" stroke="#444444" stroke-width="0.22" >-10kb</text>
<line x1="179.50" y1="526.20" x2="179.50" y2="528.40" stroke="#333333" stroke-width="1"/>
<text x="179.50" y="535.20" font-size="6.8" text-anchor="middle" fill="#444444" font-weight="normal" font-family="'Liberation Sans', Arial, sans-serif" stroke="#444444" stroke-width="0.22" >-1kb</text>
<line x1="243.00" y1="526.20" x2="243.00" y2="528.40" stroke="#333333" stroke-width="1"/>
<text x="243.00" y="535.20" font-size="6.8" text-anchor="middle" fill="#444444" font-weight="normal" font-family="'Liberation Sans', Arial, sans-serif" stroke="#444444" stroke-width="0.22" >-100bp</text>
<line x1="262.40" y1="526.20" x2="262.40" y2="528.40" stroke="#333333" stroke-width="1"/>
<text x="262.40" y="535.20" font-size="6.8" text-anchor="middle" fill="#444444" font-weight="normal" font-family="'Liberation Sans', Arial, sans-serif" stroke="#444444" stroke-width="0.22" >-50bp</text>
<line x1="317.50" y1="436.80" x2="317.50" y2="526.30" stroke="#333333" stroke-width="1"/>
<line x1="317.00" y1="525.80" x2="549.50" y2="525.80" stroke="#333333" stroke-width="1"/>
<line x1="315.20" y1="440.90" x2="317.50" y2="440.90" stroke="#333333" stroke-width="1"/>
<text x="313.80" y="443.30" font-size="6.8" text-anchor="end" fill="#444444" font-weight="normal" font-family="'Liberation Sans', Arial, sans-serif" stroke="#444444" stroke-width="0.22" >600</text>
<line x1="315.20" y1="467.90" x2="317.50" y2="467.90" stroke="#333333" stroke-width="1"/>
<text x="313.80" y="470.30" font-size="6.8" text-anchor="end" fill="#444444" font-weight="normal" font-family="'Liberation Sans', Arial, sans-serif" stroke="#444444" stroke-width="0.22" >400</text>
<line x1="315.20" y1="495.10" x2="317.50" y2="495.10" stroke="#333333" stroke-width="1"/>
<text x="313.80" y="497.50" font-size="6.8" text-anchor="end" fill="#444444" font-weight="normal" font-family="'Liberation Sans', Arial, sans-serif" stroke="#444444" stroke-width="0.22" >200</text>
<line x1="315.20" y1="522.40" x2="317.50" y2="522.40" stroke="#333333" stroke-width="1"/>
<text x="313.80" y="524.80" font-size="6.8" text-anchor="end" fill="#444444" font-weight="normal" font-family="'Liberation Sans', Arial, sans-serif" stroke="#444444" stroke-width="0.22" >0</text>
<line x1="328.00" y1="525.80" x2="328.00" y2="528.00" stroke="#333333" stroke-width="1"/>
<text x="328.00" y="534.80" font-size="6.8" text-anchor="middle" fill="#444444" font-weight="normal" font-family="'Liberation Sans', Arial, sans-serif" stroke="#444444" stroke-width="0.22" >50bp</text>
<line x1="347.30" y1="525.80" x2="347.30" y2="528.00" stroke="#333333" stroke-width="1"/>
<text x="347.30" y="534.80" font-size="6.8" text-anchor="middle" fill="#444444" font-weight="normal" font-family="'Liberation Sans', Arial, sans-serif" stroke="#444444" stroke-width="0.22" >100bp</text>
<line x1="411.50" y1="525.80" x2="411.50" y2="528.00" stroke="#333333" stroke-width="1"/>
<text x="411.50" y="534.80" font-size="6.8" text-anchor="middle" fill="#444444" font-weight="normal" font-family="'Liberation Sans', Arial, sans-serif" stroke="#444444" stroke-width="0.22" >1kb</text>
<line x1="475.00" y1="525.80" x2="475.00" y2="528.00" stroke="#333333" stroke-width="1"/>
<text x="475.00" y="534.80" font-size="6.8" text-anchor="middle" fill="#444444" font-weight="normal" font-family="'Liberation Sans', Arial, sans-serif" stroke="#444444" stroke-width="0.22" >10kb</text>
<line x1="538.50" y1="525.80" x2="538.50" y2="528.00" stroke="#333333" stroke-width="1"/>
<text x="538.50" y="534.80" font-size="6.8" text-anchor="middle" fill="#444444" font-weight="normal" font-family="'Liberation Sans', Arial, sans-serif" stroke="#444444" stroke-width="0.22" >100kb</text>
<polyline points="51.6,522.2 51.9,522.2 52.1,522.2 52.4,522.2 52.6,522.2 52.9,522.2 53.1,522.2 53.4,522.3 53.6,522.2 53.9,522.2 54.1,522.2 54.4,522.2 54.6,522.3 54.9,522.2 55.1,522.2 55.4,522.3 55.6,522.2 55.9,522.2 56.1,522.2 56.4,522.2 56.6,522.2 56.9,522.3 57.1,522.2 57.4,522.2 57.6,522.3 57.9,522.2 58.1,522.2 58.4,522.2 58.6,522.2 58.9,522.2 59.1,522.2 59.4,522.2 59.6,522.2 59.9,522.2 60.1,522.2 60.4,522.2 60.6,522.2 60.9,522.2 61.1,522.2 61.4,522.2 61.6,522.3 61.9,522.2 62.1,522.2 62.4,522.2 62.6,522.2 62.9,522.2 63.1,522.2 63.4,522.2 63.6,522.2 63.9,522.2 64.1,522.2 64.4,522.2 64.6,522.2 64.9,522.2 65.1,522.2 65.4,522.2 65.6,522.2 65.9,522.3 66.1,522.2 66.4,522.2 66.6,522.2 66.9,522.2 67.1,522.2 67.4,522.2 67.6,522.2 67.9,522.2 68.1,522.2 68.4,522.2 68.6,522.2 68.9,522.2 69.1,522.2 69.4,522.2 69.6,522.2 69.9,522.2 70.1,522.2 70.4,522.2 70.6,522.2 70.9,522.2 71.1,522.2 71.4,522.2 71.6,522.2 71.9,522.2 72.1,522.2 72.4,522.2 72.6,522.2 72.9,522.2 73.1,522.3 73.4,522.2 73.6,522.2 73.9,522.3 74.1,522.2 74.4,522.2 74.6,522.2 74.9,522.2 75.1,522.2 75.4,522.2 75.6,522.2 75.9,522.2 76.1,522.2 76.4,522.2 76.6,522.3 76.9,522.2 77.1,522.2 77.4,522.2 77.6,522.2 77.9,522.2 78.1,522.2 78.4,522.2 78.6,522.2 78.9,522.2 79.1,522.1 79.4,522.2 79.6,522.2 79.9,522.1 80.1,522.2 80.4,522.2 80.6,522.2 80.9,522.2 81.1,522.2 81.4,522.2 81.6,522.2 81.9,522.2 82.1,522.2 82.4,522.2 82.6,522.2 82.9,522.2 83.1,522.2 83.4,522.2 83.6,522.2 83.9,522.1 84.1,522.1 84.4,522.2 84.6,522.1 84.9,522.2 85.1,522.2 85.4,522.2 85.6,522.1 85.9,522.2 86.1,522.1 86.4,522.2 86.6,522.2 86.9,522.2 87.1,522.1 87.4,522.2 87.6,522.2 87.9,522.2 88.1,522.2 88.4,522.2 88.6,522.2 88.9,522.1 89.1,522.2 89.4,522.1 89.6,522.2 89.9,522.2 90.1,522.2 90.4,522.2 90.6,522.2 90.9,522.2 91.1,522.1 91.4,522.2 91.6,522.2 91.9,522.2 92.1,522.3 92.4,522.1 92.6,522.2 92.9,522.1 93.1,522.2 93.4,522.1 93.6,522.1 93.9,522.2 94.1,522.1 94.4,522.2 94.6,522.1 94.9,522.3 95.1,522.1 95.4,522.2 95.6,522.3 95.9,522.2 96.1,522.1 96.4,522.2 96.6,522.2 96.9,522.2 97.1,522.2 97.4,522.1 97.6,522.2 97.9,522.2 98.1,522.1 98.4,522.2 98.6,522.3 98.9,522.1 99.1,522.2 99.4,522.2 99.6,522.1 99.9,522.2 100.1,522.2 100.4,522.1 100.6,522.1 100.9,522.2 101.1,522.1 101.4,522.2 101.6,522.1 101.9,522.2 102.1,522.2 102.4,522.1 102.6,522.2 102.9,522.1 103.1,522.2 103.4,522.1 103.6,522.1 103.9,522.2 104.1,522.2 104.4,522.1 104.6,522.1 104.9,522.2 105.1,522.2 105.4,522.1 105.6,522.2 105.9,522.1 106.1,522.2 106.4,522.1 106.6,522.2 106.9,522.2 107.1,522.3 107.4,522.0 107.6,522.2 107.9,522.1 108.1,522.2 108.4,522.1 108.6,522.1 108.9,522.2 109.1,522.2 109.4,522.1 109.6,522.2 109.9,522.1 110.1,522.1 110.4,522.2 110.6,522.2 110.9,522.0 111.1,522.1 111.4,522.2 111.6,522.2 111.9,522.1 112.1,522.2 112.4,522.1 112.6,522.0 112.9,522.2 113.1,522.1 113.4,522.2 113.6,522.1 113.9,522.2 114.1,522.2 114.4,522.1 114.6,522.0 114.9,522.2 115.1,522.2 115.4,522.1 115.6,522.2 115.9,522.1 116.1,522.0 116.4,522.2 116.6,522.0 116.9,522.2 117.1,522.2 117.4,522.1 117.6,522.2 117.9,522.1 118.1,522.2 118.4,522.1 118.6,522.1 118.9,522.0 119.1,522.2 119.4,522.1 119.6,522.1 119.9,522.1 120.1,522.2 120.4,522.1 120.6,522.1 120.9,522.0 121.1,522.2 121.4,522.1 121.6,522.1 121.9,522.2 122.1,522.3 122.4,521.9 122.6,522.1 122.9,522.3 123.1,522.2 123.4,522.1 123.6,522.2 123.9,522.0 124.1,522.1 124.4,522.2 124.6,522.1 124.9,522.1 125.1,522.1 125.4,522.0 125.6,522.1 125.9,522.3 126.1,522.1 126.4,522.0 126.6,522.0 126.9,522.2 127.1,522.0 127.4,522.2 127.6,522.1 127.9,522.2 128.1,522.2 128.4,522.1 128.6,522.0 128.9,522.2 129.1,522.0 129.4,522.1 129.6,522.3 129.9,522.0 130.1,522.0 130.4,522.2 130.6,522.1 130.9,522.0 131.1,522.2 131.4,522.0 131.6,522.2 131.9,522.1 132.1,522.0 132.4,522.2 132.6,522.1 132.9,522.0 133.1,522.1 133.4,522.0 133.6,522.0 133.9,522.1 134.1,522.2 134.4,522.1 134.6,522.2 134.9,522.1 135.1,522.1 135.4,522.0 135.6,522.2 135.9,522.1 136.1,522.1 136.4,522.2 136.6,522.0 136.9,522.3 137.1,522.0 137.4,522.1 137.6,522.0 137.9,522.1 138.1,522.0 138.4,522.2 138.6,522.0 138.9,522.3 139.1,522.1 139.4,522.1 139.6,522.0 139.9,522.2 140.1,522.1 140.4,522.1 140.6,522.2 140.9,521.9 141.1,521.9 141.4,522.1 141.6,522.1 141.9,522.1 142.1,522.1 142.4,522.0 142.6,522.2 142.9,522.1 143.1,521.9 143.4,522.1 143.6,522.0 143.9,522.1 144.1,522.2 144.4,522.0 144.6,522.3 144.9,521.9 145.1,522.0 145.4,522.2 145.6,522.0 145.9,522.1 146.1,522.0 146.4,522.1 146.6,522.0 146.9,522.2 147.1,522.2 147.4,522.0 147.6,522.3 147.9,521.9 148.1,522.2 148.4,522.0 148.6,522.1 148.9,521.8 149.1,521.9 149.4,522.0 149.6,522.1 149.9,521.8 150.1,522.0 150.4,522.1 150.6,522.1 150.9,522.0 151.1,521.9 151.4,522.1 151.6,521.8 151.9,522.1 152.1,521.9 152.4,522.1 152.6,522.1 152.9,521.8 153.1,521.9 153.4,522.2 153.6,521.9 153.9,522.3 154.1,522.2 154.4,522.0 154.6,521.8 154.9,522.0 155.1,521.9 155.4,522.1 155.6,522.1 155.9,521.9 156.1,521.9 156.4,522.1 156.6,522.1 156.9,521.8 157.1,522.3 157.4,521.9 157.6,521.9 157.9,522.1 158.1,522.0 158.4,521.7 158.6,521.9 158.9,522.1 159.1,522.0 159.4,521.7 159.6,522.2 159.9,521.9 160.1,521.6 160.4,522.1 160.6,522.0 160.9,521.9 161.1,522.1 161.4,522.0 161.6,521.7 161.9,522.0 162.1,522.1 162.4,521.9 162.6,521.9 162.9,522.2 163.1,522.2 163.4,521.6 163.6,522.1 163.9,521.7 164.1,521.8 164.4,522.2 164.6,522.1 164.9,521.8 165.1,521.9 165.4,522.3 165.6,522.2 165.9,521.8 166.1,522.0 166.4,521.6 166.6,521.8 166.9,522.2 167.1,522.1 167.4,521.7 167.6,522.2 167.9,521.5 168.1,521.8 168.4,522.1 168.6,522.1 168.9,521.7 169.1,522.0 169.4,521.8 169.6,521.7 169.9,522.2 170.1,521.8 170.4,522.3 170.6,521.8 170.9,522.3 171.1,521.9 171.4,521.4 171.6,521.7 171.9,522.3 172.1,521.8 172.4,522.3 172.6,522.0 172.9,521.7 173.1,521.7 173.4,522.2 173.6,521.4 173.9,521.7 174.1,521.6 174.4,522.3 174.6,521.3 174.9,522.2 175.1,522.2 175.4,521.7 175.6,521.9 175.9,521.6 176.1,521.4 176.4,522.0 176.6,522.0 176.9,521.7 177.1,521.5 177.4,522.0 177.6,521.4 177.9,522.0 178.1,522.2 178.4,521.1 178.6,521.2 178.9,521.9 179.1,522.1 179.4,521.5 179.6,521.9 179.9,521.7 180.1,521.3 180.4,521.6 180.6,521.5 180.9,521.8 181.1,522.0 181.4,521.3 181.6,521.9 181.9,521.6 182.1,522.0 182.4,521.1 182.6,521.3 182.9,521.9 183.1,522.1 183.4,521.5 183.6,521.6 183.9,521.8 184.1,521.5 184.4,521.8 184.6,522.0 184.9,521.4 185.1,521.4 185.4,522.1 185.6,521.6 185.9,522.0 186.1,522.0 186.4,520.8 186.6,521.3 186.9,521.8 187.1,521.3 187.4,521.9 187.6,521.5 187.9,521.8 188.1,521.4 188.4,521.8 188.6,522.1 188.9,521.4 189.1,521.4 189.4,522.0 189.6,521.9 189.9,521.0 190.1,521.0 190.4,522.1 190.6,521.4 190.9,522.2 191.1,521.5 191.4,521.1 191.6,521.2 191.9,521.4 192.1,521.7 192.4,521.0 192.6,521.7 192.9,520.8 193.1,522.1 193.4,521.1 193.6,521.9 193.9,521.1 194.1,521.7 194.4,520.9 194.6,522.0 194.9,521.0 195.1,521.5 195.4,521.2 195.6,521.9 195.9,521.0 196.1,520.6 196.4,521.8 196.6,520.9 196.9,521.5 197.1,521.7 197.4,520.8 197.6,521.1 197.9,521.7 198.1,521.0 198.4,521.7 198.6,520.6 198.9,521.5 199.1,521.9 199.4,520.9 199.6,521.1 199.9,520.8 200.1,521.1 200.4,521.8 200.6,521.4 200.9,520.7 201.1,521.4 201.4,521.1 201.6,521.0 201.9,521.5 202.1,520.6 202.4,521.5 202.6,521.3 202.9,520.9 203.1,521.6 203.4,520.9 203.6,520.5 203.9,521.5 204.1,521.2 204.4,520.7 204.6,521.9 204.9,520.2 205.1,520.9 205.4,521.1 205.6,520.3 205.9,521.9 206.1,521.6 206.4,520.6 206.6,521.3 206.9,520.6 207.1,520.7 207.4,521.3 207.6,521.3 207.9,520.8 208.1,521.4 208.4,520.2 208.6,520.5 208.9,521.5 209.1,520.5 209.4,521.7 209.6,520.1 209.9,521.1 210.1,521.1 210.4,520.5 210.6,520.5 210.9,521.5 211.1,520.3 211.4,520.6 211.6,520.3 211.9,521.3 212.1,520.2 212.4,520.9 212.6,520.2 212.9,521.6 213.1,520.2 213.4,521.1 213.6,520.2 213.9,521.5 214.1,520.3 214.4,521.9 214.6,520.5 214.9,521.3 215.1,520.3 215.4,521.8 215.6,520.4 215.9,521.2 216.1,521.1 216.4,520.2 216.6,519.6 216.9,521.0 217.1,520.4 217.4,521.7 217.6,519.9 217.9,520.7 218.1,520.0 218.4,520.3 218.6,520.7 218.9,519.6 219.1,520.8 219.4,519.8 219.6,519.4 219.9,520.9 220.1,520.1 220.4,520.7 220.6,520.9 220.9,519.1 221.1,520.7 221.4,519.4 221.6,519.8 221.9,520.5 222.1,519.1 222.4,520.2 222.6,520.7 222.9,519.8 223.1,520.9 223.4,520.2 223.6,520.7 223.9,519.7 224.1,520.0 224.4,519.2 224.6,519.6 224.9,519.9 225.1,520.3 225.4,519.0 225.6,519.7 225.9,519.4 226.1,520.0 226.4,519.8 226.6,518.5 226.9,520.0 227.1,519.2 227.4,520.3 227.6,520.4 227.9,519.4 228.1,520.0 228.4,518.8 228.6,519.9 228.9,518.9 229.1,519.8 229.4,519.3 229.6,519.0 229.9,520.1 230.1,519.2 230.4,519.5 230.6,519.9 230.9,518.6 231.2,518.5 231.4,519.9 231.6,519.9 231.9,518.4 232.1,520.4 232.4,518.6 232.7,518.8 232.9,518.2 232.8,519.1 233.0,501.8 233.2,519.1 233.1,519.2 233.4,518.8 233.6,519.3 233.8,518.7 234.1,518.2 234.4,517.4 234.7,519.1 234.9,519.0 235.1,519.3 235.4,519.6 235.7,519.3 235.9,518.9 236.1,518.1 236.4,518.5 236.6,518.8 236.8,519.0 237.1,518.6 237.4,519.1 237.7,518.3 237.9,517.2 238.2,517.9 238.4,516.6 238.6,518.0 238.9,518.5 239.1,518.8 239.4,519.0 239.6,516.2 239.9,517.7 240.1,518.4 240.4,517.3 240.6,517.8 240.9,518.5 241.1,516.8 241.4,516.3 241.6,517.9 241.9,517.0 242.2,517.0 242.4,515.6 242.7,517.1 243.0,517.9 243.3,517.1 243.6,517.6 243.8,517.4 244.1,517.6 244.4,516.3 244.7,517.4 245.0,515.4 245.3,516.3 245.6,517.4 245.9,516.7 246.2,516.0 246.6,516.3 246.9,514.7 247.2,515.3 247.5,515.1 247.8,515.6 248.2,514.2 248.5,516.1 248.9,515.5 249.2,515.5 249.6,515.6 249.9,514.6 250.3,515.7 250.6,515.1 251.0,514.1 251.4,513.7 251.7,512.7 252.1,513.8 252.5,513.4 252.9,511.0 253.3,513.3 253.7,512.1 254.1,513.1 254.5,509.4 255.0,513.0 255.4,511.3 255.8,508.9 256.3,510.0 256.7,509.7 257.2,511.3 257.7,510.4 258.1,509.4 258.6,509.6 259.1,508.2 259.6,508.7 260.1,508.0 260.6,508.5 261.2,509.2 261.7,509.0" fill="none" stroke="#F8766D" stroke-opacity="0.8" stroke-width="1.3" stroke-linejoin="round"/>
<polyline points="51.6,522.2 51.9,522.2 52.1,522.2 52.4,522.2 52.6,522.2 52.9,522.2 53.1,522.2 53.4,522.2 53.6,522.2 53.9,522.2 54.1,522.2 54.4,522.2 54.6,522.2 54.9,522.1 55.1,522.2 55.4,522.2 55.6,522.2 55.9,522.2 56.1,522.2 56.4,522.2 56.6,522.2 56.9,522.2 57.1,522.2 57.4,522.2 57.6,522.2 57.9,522.3 58.1,522.3 58.4,522.2 58.6,522.2 58.9,522.2 59.1,522.2 59.4,522.2 59.6,522.2 59.9,522.2 60.1,522.2 60.4,522.2 60.6,522.2 60.9,522.2 61.1,522.2 61.4,522.2 61.6,522.2 61.9,522.2 62.1,522.2 62.4,522.2 62.6,522.2 62.9,522.2 63.1,522.3 63.4,522.2 63.6,522.2 63.9,522.2 64.1,522.2 64.4,522.2 64.6,522.2 64.9,522.2 65.1,522.2 65.4,522.2 65.6,522.2 65.9,522.1 66.1,522.2 66.4,522.2 66.6,522.2 66.9,522.2 67.1,522.2 67.4,522.2 67.6,522.2 67.9,522.1 68.1,522.2 68.4,522.2 68.6,522.2 68.9,522.2 69.1,522.2 69.4,522.2 69.6,522.2 69.9,522.2 70.1,522.2 70.4,522.2 70.6,522.2 70.9,522.1 71.1,522.2 71.4,522.2 71.6,522.2 71.9,522.2 72.1,522.1 72.4,522.2 72.6,522.2 72.9,522.2 73.1,522.2 73.4,522.3 73.6,522.2 73.9,522.2 74.1,522.2 74.4,522.2 74.6,522.2 74.9,522.2 75.1,522.1 75.4,522.2 75.6,522.1 75.9,522.2 76.1,522.2 76.4,522.2 76.6,522.2 76.9,522.2 77.1,522.2 77.4,522.2 77.6,522.2 77.9,522.2 78.1,522.1 78.4,522.3 78.6,522.2 78.9,522.2 79.1,522.2 79.4,522.1 79.6,522.2 79.9,522.2 80.1,522.2 80.4,522.2 80.6,522.2 80.9,522.2 81.1,522.1 81.4,522.2 81.6,522.2 81.9,522.2 82.1,522.1 82.4,522.2 82.6,522.2 82.9,522.2 83.1,522.1 83.4,522.2 83.6,522.2 83.9,522.2 84.1,522.2 84.4,522.2 84.6,522.2 84.9,522.2 85.1,522.1 85.4,522.2 85.6,522.2 85.9,522.1 86.1,522.1 86.4,522.2 86.6,522.3 86.9,522.1 87.1,522.2 87.4,522.2 87.6,522.2 87.9,522.2 88.1,522.3 88.4,522.2 88.6,522.2 88.9,522.1 89.1,522.1 89.4,522.3 89.6,522.2 89.9,522.2 90.1,522.1 90.4,522.2 90.6,522.2 90.9,522.1 91.1,522.1 91.4,522.2 91.6,522.2 91.9,522.2 92.1,522.1 92.4,522.2 92.6,522.1 92.9,522.2 93.1,522.2 93.4,522.1 93.6,522.1 93.9,522.2 94.1,522.1 94.4,522.2 94.6,522.1 94.9,522.2 95.1,522.1 95.4,522.2 95.6,522.1 95.9,522.2 96.1,522.2 96.4,522.2 96.6,522.2 96.9,522.1 97.1,522.2 97.4,522.1 97.6,522.1 97.9,522.2 98.1,522.1 98.4,522.2 98.6,522.2 98.9,522.1 99.1,522.1 99.4,522.1 99.6,522.2 99.9,522.1 100.1,522.3 100.4,522.1 100.6,522.2 100.9,522.1 101.1,522.1 101.4,522.2 101.6,522.1 101.9,522.2 102.1,522.0 102.4,522.2 102.6,522.2 102.9,522.1 103.1,522.1 103.4,522.2 103.6,522.1 103.9,522.2 104.1,522.0 104.4,522.2 104.6,522.1 104.9,522.3 105.1,522.3 105.4,522.1 105.6,522.1 105.9,522.2 106.1,522.2 106.4,522.1 106.6,522.2 106.9,522.2 107.1,522.1 107.4,522.2 107.6,522.0 107.9,522.1 108.1,522.2 108.4,522.1 108.6,522.2 108.9,522.0 109.1,522.1 109.4,522.2 109.6,522.2 109.9,522.1 110.1,522.1 110.4,522.2 110.6,522.0 110.9,522.2 111.1,522.2 111.4,522.1 111.6,522.2 111.9,522.0 112.1,522.1 112.4,522.1 112.6,522.1 112.9,522.1 113.1,522.2 113.4,522.0 113.6,522.1 113.9,522.1 114.1,522.1 114.4,522.2 114.6,522.0 114.9,522.1 115.1,522.0 115.4,522.2 115.6,522.1 115.9,522.2 116.1,522.0 116.4,522.2 116.6,522.2 116.9,522.1 117.1,522.1 117.4,522.2 117.6,522.2 117.9,522.0 118.1,522.2 118.4,522.1 118.6,522.1 118.9,522.2 119.1,522.2 119.4,522.0 119.6,522.1 119.9,522.0 120.1,522.0 120.4,522.2 120.6,522.1 120.9,522.2 121.1,522.1 121.4,522.1 121.6,522.1 121.9,522.2 122.1,522.1 122.4,522.2 122.6,522.1 122.9,522.0 123.1,522.1 123.4,522.2 123.6,522.2 123.9,522.1 124.1,522.2 124.4,522.1 124.6,522.1 124.9,522.2 125.1,522.1 125.4,522.1 125.6,522.1 125.9,522.0 126.1,522.1 126.4,522.1 126.6,522.1 126.9,522.0 127.1,522.2 127.4,522.0 127.6,522.1 127.9,522.1 128.1,521.9 128.4,522.2 128.6,522.1 128.9,521.9 129.1,522.0 129.4,522.1 129.6,521.9 129.9,522.2 130.1,522.0 130.4,522.2 130.6,522.1 130.9,521.9 131.1,522.2 131.4,522.1 131.6,522.0 131.9,522.1 132.1,522.1 132.4,522.3 132.6,522.0 132.9,522.1 133.1,522.1 133.4,522.2 133.6,522.2 133.9,521.8 134.1,522.2 134.4,522.0 134.6,522.2 134.9,522.0 135.1,522.2 135.4,521.9 135.6,522.2 135.9,522.0 136.1,522.0 136.4,522.1 136.6,521.9 136.9,522.1 137.1,522.1 137.4,522.2 137.6,521.9 137.9,522.3 138.1,521.9 138.4,522.1 138.6,522.1 138.9,522.0 139.1,522.0 139.4,522.2 139.6,522.1 139.9,521.8 140.1,522.1 140.4,522.3 140.6,522.2 140.9,522.0 141.1,522.1 141.4,522.2 141.6,522.1 141.9,522.0 142.1,522.1 142.4,522.0 142.6,522.1 142.9,522.2 143.1,521.9 143.4,522.1 143.6,521.8 143.9,522.2 144.1,522.2 144.4,522.0 144.6,522.2 144.9,522.0 145.1,522.0 145.4,522.1 145.6,522.2 145.9,522.0 146.1,522.0 146.4,522.3 146.6,522.2 146.9,521.9 147.1,521.9 147.4,522.0 147.6,522.2 147.9,522.0 148.1,521.9 148.4,522.2 148.6,521.8 148.9,522.1 149.1,522.1 149.4,521.9 149.6,521.9 149.9,522.2 150.1,522.1 150.4,522.2 150.6,521.8 150.9,522.1 151.1,522.0 151.4,522.3 151.6,522.0 151.9,522.0 152.1,522.1 152.4,521.8 152.6,521.9 152.9,522.2 153.1,522.1 153.4,521.8 153.6,522.0 153.9,522.2 154.1,522.0 154.4,521.9 154.6,521.6 154.9,522.2 155.1,521.9 155.4,522.2 155.6,521.9 155.9,522.0 156.1,522.1 156.4,521.9 156.6,522.0 156.9,521.8 157.1,522.2 157.4,522.0 157.6,522.0 157.9,521.8 158.1,521.6 158.4,521.9 158.6,522.2 158.9,521.9 159.1,522.0 159.4,521.9 159.6,521.8 159.9,522.2 160.1,522.1 160.4,521.7 160.6,522.1 160.9,522.0 161.1,521.8 161.4,522.2 161.6,521.7 161.9,522.0 162.1,521.9 162.4,522.2 162.6,522.0 162.9,521.4 163.1,521.7 163.4,522.1 163.6,521.6 163.9,522.1 164.1,521.7 164.4,522.0 164.6,521.7 164.9,521.9 165.1,521.5 165.4,522.3 165.6,522.0 165.9,521.8 166.1,522.2 166.4,521.7 166.6,522.2 166.9,521.6 167.1,522.2 167.4,521.7 167.6,522.0 167.9,521.8 168.1,521.8 168.4,522.0 168.6,522.0 168.9,521.5 169.1,522.0 169.4,521.6 169.6,521.3 169.9,522.3 170.1,521.5 170.4,522.2 170.6,522.0 170.9,521.8 171.1,522.1 171.4,521.7 171.6,522.0 171.9,521.3 172.1,522.1 172.4,521.7 172.6,521.7 172.9,521.9 173.1,521.6 173.4,521.9 173.6,521.5 173.9,522.0 174.1,521.3 174.4,521.6 174.6,522.2 174.9,521.3 175.1,521.6 175.4,522.0 175.6,522.0 175.9,521.7 176.1,521.3 176.4,521.8 176.6,521.5 176.9,522.3 177.1,521.3 177.4,522.1 177.6,521.4 177.9,521.9 178.1,521.5 178.4,522.0 178.6,521.6 178.9,521.9 179.1,521.8 179.4,521.2 179.6,521.9 179.9,521.6 180.1,521.5 180.4,521.8 180.6,521.9 180.9,521.5 181.1,521.8 181.4,521.4 181.6,521.5 181.9,521.7 182.1,521.5 182.4,522.2 182.6,521.2 182.9,522.1 183.1,521.1 183.4,521.7 183.6,521.2 183.9,521.9 184.1,521.5 184.4,521.9 184.6,521.9 184.9,521.1 185.1,521.3 185.4,522.1 185.6,522.2 185.9,521.1 186.1,521.9 186.4,521.2 186.6,521.1 186.9,521.9 187.1,522.0 187.4,521.1 187.6,521.8 187.9,521.2 188.1,521.9 188.4,521.2 188.6,521.9 188.9,521.3 189.1,521.3 189.4,521.9 189.6,521.5 189.9,521.8 190.1,521.0 190.4,521.9 190.6,521.0 190.9,522.0 191.1,521.7 191.4,521.2 191.6,521.7 191.9,521.1 192.1,521.6 192.4,521.1 192.6,521.2 192.9,521.6 193.1,520.7 193.4,521.6 193.6,521.7 193.9,521.4 194.1,521.0 194.4,521.8 194.6,521.0 194.9,521.3 195.1,521.0 195.4,522.0 195.6,521.7 195.9,521.3 196.1,521.1 196.4,521.6 196.6,520.8 196.9,521.4 197.1,521.2 197.4,520.4 197.6,521.0 197.9,521.6 198.1,521.3 198.4,520.4 198.6,520.6 198.9,521.7 199.1,520.8 199.4,521.7 199.6,521.6 199.9,520.5 200.1,520.7 200.4,521.7 200.6,521.9 200.9,521.1 201.1,520.8 201.4,521.4 201.6,521.7 201.9,520.4 202.1,521.2 202.4,520.6 202.6,520.5 202.9,521.4 203.1,521.2 203.4,520.5 203.6,520.4 203.9,521.1 204.1,521.5 204.4,520.6 204.6,521.3 204.9,519.9 205.1,520.5 205.4,521.0 205.6,520.4 205.9,521.2 206.1,521.0 206.4,520.3 206.6,520.4 206.9,521.0 207.1,521.7 207.4,519.9 207.6,521.4 207.9,520.6 208.1,521.4 208.4,520.6 208.6,520.7 208.9,521.6 209.1,521.1 209.4,520.2 209.6,521.3 209.9,520.5 210.1,520.5 210.4,521.1 210.6,520.5 210.9,521.2 211.1,519.8 211.4,520.9 211.6,520.3 211.9,521.6 212.1,521.5 212.4,520.7 212.6,520.1 212.9,521.2 213.1,519.9 213.4,520.8 213.6,521.0 213.9,519.8 214.1,520.2 214.4,520.7 214.6,520.0 214.9,520.8 215.1,520.3 215.4,521.5 215.6,521.5 215.9,519.9 216.1,520.7 216.4,519.4 216.6,520.4 216.9,521.3 217.1,520.5 217.4,519.9 217.6,520.5 217.9,519.6 218.1,520.2 218.4,520.5 218.6,519.9 218.9,520.9 219.1,520.4 219.4,519.2 219.6,521.3 219.9,519.6 220.1,521.2 220.4,519.8 220.6,519.6 220.9,520.7 221.1,519.8 221.4,520.6 221.6,519.3 221.9,521.4 222.1,520.4 222.4,520.7 222.6,518.8 222.9,520.7 223.1,519.2 223.4,520.4 223.6,519.7 223.9,520.2 224.1,518.9 224.4,520.4 224.6,519.7 224.9,518.7 225.1,520.3 225.4,519.2 225.6,518.9 225.9,519.8 226.1,519.5 226.4,518.8 226.6,520.0 226.9,519.3 227.1,519.6 227.4,519.4 227.6,520.3 227.9,519.6 228.1,519.3 228.4,520.5 228.6,518.6 228.9,519.6 229.1,519.8 229.4,518.6 229.6,519.9 229.9,518.8 230.1,518.8 230.4,518.9 230.6,520.1 230.9,519.2 231.2,519.5 231.4,518.8 231.6,519.4 231.9,519.0 232.1,518.0 232.4,519.1 232.7,519.0 232.9,520.3 232.8,518.8 233.0,486.4 233.2,518.8 233.1,517.7 233.4,519.1 233.6,518.1 233.8,518.5 234.1,517.9 234.4,517.6 234.7,518.5 234.9,519.4 235.1,519.4 235.4,518.2 235.7,517.9 235.9,517.4 236.1,519.0 236.4,518.3 236.6,518.5 236.8,518.7 237.1,517.8 237.4,518.5 237.7,517.9 237.9,518.7 237.7,517.9 237.9,513.6 238.1,517.9 238.2,518.0 238.4,517.3 238.6,517.1 238.9,516.6 239.1,518.3 239.4,517.4 239.6,517.7 239.9,516.9 240.1,517.6 240.4,518.8 240.6,517.5 240.9,516.8 241.1,515.6 241.4,517.2 241.6,516.2 241.9,517.3 242.2,516.8 242.4,516.8 242.7,514.9 243.0,518.1 243.3,518.2 243.6,515.8 243.8,515.7 244.1,517.1 244.4,517.0 244.7,516.4 245.0,517.9 245.3,516.2 245.6,513.5 245.9,516.8 246.2,516.3 246.6,516.1 246.9,514.0 247.2,517.1 247.5,514.5 247.8,514.6 248.2,514.1 248.5,515.2 248.9,514.8 249.2,513.1 249.6,515.5 249.9,513.5 250.3,514.7 250.6,513.9 251.0,511.3 251.4,514.1 251.7,514.6 252.1,512.3 252.5,513.5 252.9,512.9 253.3,512.5 253.7,513.7 254.1,512.6 254.5,511.5 255.0,510.7 255.4,512.7 255.8,510.4 256.3,509.5 256.7,510.3 257.2,509.0 257.7,507.9 258.1,507.7 258.6,508.9 259.1,508.1 259.6,509.6 260.1,507.9 260.6,505.5 261.2,508.9 261.7,505.4" fill="none" stroke="#00BA38" stroke-opacity="0.8" stroke-width="1.3" stroke-linejoin="round"/>
<polyline points="51.6,522.3 51.9,522.2 52.1,522.2 52.4,522.2 52.6,522.2 52.9,522.3 53.1,522.2 53.4,522.2 53.6,522.2 53.9,522.2 54.1,522.2 54.4,522.2 54.6,522.2 54.9,522.2 55.1,522.2 55.4,522.2 55.6,522.2 55.9,522.2 56.1,522.2 56.4,522.2 56.6,522.2 56.9,522.2 57.1,522.2 57.4,522.2 57.6,522.2 57.9,522.2 58.1,522.2 58.4,522.2 58.6,522.2 58.9,522.3 59.1,522.2 59.4,522.2 59.6,522.2 59.9,522.2 60.1,522.2 60.4,522.2 60.6,522.2 60.9,522.2 61.1,522.2 61.4,522.2 61.6,522.2 61.9,522.2 62.1,522.2 62.4,522.2 62.6,522.2 62.9,522.2 63.1,522.2 63.4,522.2 63.6,522.2 63.9,522.2 64.1,522.2 64.4,522.2 64.6,522.2 64.9,522.2 65.1,522.2 65.4,522.2 65.6,522.2 65.9,522.2 66.1,522.2 66.4,522.2 66.6,522.3 66.9,522.2 67.1,522.2 67.4,522.2 67.6,522.2 67.9,522.2 68.1,522.2 68.4,522.2 68.6,522.2 68.9,522.2 69.1,522.2 69.4,522.2 69.6,522.2 69.9,522.1 70.1,522.2 70.4,522.3 70.6,522.2 70.9,522.2 71.1,522.2 71.4,522.2 71.6,522.2 71.9,522.2 72.1,522.2 72.4,522.2 72.6,522.2 72.9,522.2 73.1,522.2 73.4,522.2 73.6,522.2 73.9,522.2 74.1,522.2 74.4,522.2 74.6,522.2 74.9,522.2 75.1,522.2 75.4,522.2 75.6,522.1 75.9,522.2 76.1,522.2 76.4,522.2 76.6,522.2 76.9,522.3 77.1,522.2 77.4,522.1 77.6,522.2 77.9,522.2 78.1,522.2 78.4,522.2 78.6,522.2 78.9,522.2 79.1,522.1 79.4,522.2 79.6,522.2 79.9,522.2 80.1,522.2 80.4,522.2 80.6,522.2 80.9,522.2 81.1,522.2 81.4,522.1 81.6,522.2 81.9,522.1 82.1,522.2 82.4,522.2 82.6,522.2 82.9,522.1 83.1,522.2 83.4,522.2 83.6,522.2 83.9,522.2 84.1,522.2 84.4,522.1 84.6,522.2 84.9,522.1 85.1,522.2 85.4,522.1 85.6,522.2 85.9,522.1 86.1,522.2 86.4,522.1 86.6,522.2 86.9,522.1 87.1,522.1 87.4,522.2 87.6,522.2 87.9,522.2 88.1,522.2 88.4,522.1 88.6,522.2 88.9,522.1 89.1,522.2 89.4,522.1 89.6,522.1 89.9,522.2 90.1,522.1 90.4,522.2 90.6,522.2 90.9,522.1 91.1,522.1 91.4,522.2 91.6,522.1 91.9,522.2 92.1,522.1 92.4,522.2 92.6,522.1 92.9,522.2 93.1,522.3 93.4,522.2 93.6,522.2 93.9,522.1 94.1,522.2 94.4,522.1 94.6,522.1 94.9,522.2 95.1,522.2 95.4,522.1 95.6,522.2 95.9,522.2 96.1,522.2 96.4,522.1 96.6,522.2 96.9,522.1 97.1,522.2 97.4,522.0 97.6,522.2 97.9,522.1 98.1,522.1 98.4,522.2 98.6,522.1 98.9,522.2 99.1,522.1 99.4,522.2 99.6,522.2 99.9,522.1 100.1,522.2 100.4,522.1 100.6,522.0 100.9,522.1 101.1,522.0 101.4,522.2 101.6,522.1 101.9,522.1 102.1,522.2 102.4,522.1 102.6,522.1 102.9,522.2 103.1,522.1 103.4,522.1 103.6,522.1 103.9,522.2 104.1,522.2 104.4,522.0 104.6,522.1 104.9,522.2 105.1,522.1 105.4,522.3 105.6,522.2 105.9,522.0 106.1,522.2 106.4,522.1 106.6,522.1 106.9,522.2 107.1,522.3 107.4,522.0 107.6,522.1 107.9,522.1 108.1,522.2 108.4,522.1 108.6,522.2 108.9,522.1 109.1,522.2 109.4,522.1 109.6,522.1 109.9,522.2 110.1,522.1 110.4,522.2 110.6,522.0 110.9,522.1 111.1,522.2 111.4,522.1 111.6,522.0 111.9,522.2 112.1,522.1 112.4,522.2 112.6,522.1 112.9,522.2 113.1,522.1 113.4,522.2 113.6,522.2 113.9,522.1 114.1,522.1 114.4,522.2 114.6,522.2 114.9,522.0 115.1,522.2 115.4,522.0 115.6,522.0 115.9,522.2 116.1,522.2 116.4,522.1 116.6,522.0 116.9,522.2 117.1,522.1 117.4,522.2 117.6,522.2 117.9,522.2 118.1,522.0 118.4,522.2 118.6,522.2 118.9,522.0 119.1,522.1 119.4,522.2 119.6,521.9 119.9,522.2 120.1,522.1 120.4,522.0 120.6,522.0 120.9,522.2 121.1,522.2 121.4,522.1 121.6,522.1 121.9,522.2 122.1,522.2 122.4,522.0 122.6,522.1 122.9,522.0 123.1,522.1 123.4,522.1 123.6,522.3 123.9,522.1 124.1,522.1 124.4,522.1 124.6,522.0 124.9,522.1 125.1,522.2 125.4,522.1 125.6,522.0 125.9,522.1 126.1,522.2 126.4,522.0 126.6,522.2 126.9,522.0 127.1,522.1 127.4,522.2 127.6,521.9 127.9,522.2 128.1,522.2 128.4,522.0 128.6,522.2 128.9,522.0 129.1,522.1 129.4,522.2 129.6,522.2 129.9,522.0 130.1,522.0 130.4,522.1 130.6,522.1 130.9,522.0 131.1,522.1 131.4,522.0 131.6,522.1 131.9,522.0 132.1,522.1 132.4,521.9 132.6,521.8 132.9,522.2 133.1,522.2 133.4,521.9 133.6,522.2 133.9,522.0 134.1,522.2 134.4,522.0 134.6,522.2 134.9,522.0 135.1,522.1 135.4,522.0 135.6,522.0 135.9,522.2 136.1,522.0 136.4,522.1 136.6,522.0 136.9,522.2 137.1,521.9 137.4,522.0 137.6,522.1 137.9,522.0 138.1,522.2 138.4,522.0 138.6,521.9 138.9,522.2 139.1,522.1 139.4,522.2 139.6,522.2 139.9,522.1 140.1,522.0 140.4,522.1 140.6,522.0 140.9,522.1 141.1,522.0 141.4,522.2 141.6,521.8 141.9,522.2 142.1,521.9 142.4,522.1 142.6,521.9 142.9,522.2 143.1,522.2 143.4,521.9 143.6,521.9 143.9,522.1 144.1,521.9 144.4,522.1 144.6,521.9 144.9,522.2 145.1,521.9 145.4,522.1 145.6,522.3 145.9,521.9 146.1,522.0 146.4,522.0 146.6,521.8 146.9,522.2 147.1,521.9 147.4,522.1 147.6,522.1 147.9,521.9 148.1,522.2 148.4,521.9 148.6,521.9 148.9,522.1 149.1,522.2 149.4,522.0 149.6,522.3 149.9,522.0 150.1,522.1 150.4,521.7 150.6,522.3 150.9,521.9 151.1,521.8 151.4,522.2 151.6,521.7 151.9,522.0 152.1,522.1 152.4,522.2 152.6,521.9 152.9,522.3 153.1,522.2 153.4,522.0 153.6,522.0 153.9,522.2 154.1,521.8 154.4,521.9 154.6,521.8 154.9,522.1 155.1,522.0 155.4,522.1 155.6,521.7 155.9,522.3 156.1,522.1 156.4,521.8 156.6,522.2 156.9,521.9 157.1,521.7 157.4,522.2 157.6,522.3 157.9,521.6 158.1,521.9 158.4,522.3 158.6,521.7 158.9,522.3 159.1,521.8 159.4,522.0 159.6,521.8 159.9,522.0 160.1,521.7 160.4,522.2 160.6,521.7 160.9,522.0 161.1,521.6 161.4,522.0 161.6,522.3 161.9,521.8 162.1,521.8 162.4,522.2 162.6,521.9 162.9,522.1 163.1,521.8 163.4,522.0 163.6,521.7 163.9,522.0 164.1,522.3 164.4,521.6 164.6,521.6 164.9,521.9 165.1,522.1 165.4,521.6 165.6,521.7 165.9,522.1 166.1,521.5 166.4,521.9 166.6,521.9 166.9,521.6 167.1,522.0 167.4,521.7 167.6,522.0 167.9,521.7 168.1,522.1 168.4,521.7 168.6,521.3 168.9,522.0 169.1,522.3 169.4,521.8 169.6,521.6 169.9,522.1 170.1,522.0 170.4,521.3 170.6,521.6 170.9,521.8 171.1,522.0 171.4,521.6 171.6,521.9 171.9,521.7 171.8,521.8 172.0,520.7 172.2,521.8 172.1,521.9 172.4,521.6 172.6,521.9 172.9,521.7 173.1,522.1 173.4,521.1 173.6,521.9 173.9,521.5 174.1,521.5 174.4,521.8 174.6,521.7 174.9,522.3 175.1,521.9 175.4,521.5 175.6,522.3 175.9,521.4 176.1,521.7 176.4,521.4 176.6,521.7 176.9,521.8 177.1,521.7 177.4,521.0 177.6,522.0 177.9,521.4 178.1,521.6 178.4,522.0 178.6,521.7 178.9,521.4 179.1,521.7 179.4,521.2 179.6,521.3 179.9,522.2 180.1,522.1 180.4,521.2 180.6,521.2 180.9,521.6 181.1,522.1 181.4,521.3 181.6,521.4 181.9,522.0 182.1,521.0 182.4,521.8 182.6,521.5 182.9,521.2 183.1,521.9 183.4,521.4 183.6,522.0 183.9,521.0 184.1,522.1 184.4,521.7 184.6,521.7 184.9,521.2 185.1,521.3 185.4,521.5 185.6,521.8 185.9,521.6 186.1,522.1 186.4,521.4 186.6,521.5 186.9,522.0 187.1,521.1 187.4,522.0 187.6,521.9 187.9,521.2 188.1,522.0 188.4,521.2 188.6,521.8 188.9,521.1 189.1,521.1 189.4,521.6 189.6,522.0 189.9,521.7 190.1,521.1 190.4,521.9 190.6,522.1 190.9,520.9 191.1,521.5 191.4,522.2 191.6,520.8 191.9,521.6 192.1,521.7 192.4,521.3 192.6,520.9 192.9,521.5 193.1,520.8 193.4,521.6 193.6,521.1 193.9,521.7 194.1,520.6 194.4,521.7 194.6,521.1 194.9,521.8 195.1,521.1 195.4,521.7 195.6,521.2 195.9,520.9 196.1,520.4 196.4,521.5 196.6,521.4 196.9,520.9 197.1,520.9 197.4,521.5 197.6,521.5 197.9,521.8 198.1,521.9 198.4,521.0 198.6,520.8 198.9,521.2 199.1,520.8 199.4,521.7 199.6,520.2 199.9,521.6 200.1,521.5 200.4,520.9 200.6,520.5 200.9,521.1 201.1,521.7 201.4,520.6 201.6,522.0 201.9,520.3 202.1,520.7 202.4,521.4 202.6,520.3 202.9,521.5 203.1,521.2 203.4,520.6 203.6,520.9 203.9,521.9 204.1,520.7 204.4,521.0 204.6,521.4 204.9,520.1 205.1,520.4 205.4,521.0 205.6,520.6 205.9,521.5 206.1,521.3 206.4,520.3 206.6,520.6 206.9,521.4 207.1,520.6 207.4,521.7 207.6,521.1 207.9,520.1 208.1,520.6 208.4,521.4 208.6,520.1 208.9,521.4 209.1,520.6 209.4,521.8 209.6,519.8 209.9,520.7 210.1,521.8 210.4,519.7 210.6,522.0 210.9,520.2 211.1,521.0 211.4,520.4 211.6,521.0 211.9,519.9 212.1,521.0 212.4,520.7 212.6,520.0 212.9,520.8 213.1,520.0 213.4,520.9 213.6,520.9 213.9,519.8 214.1,520.9 214.4,520.3 214.6,520.6 214.9,519.9 215.1,520.8 215.4,520.1 215.6,519.8 215.9,521.1 216.1,520.6 216.4,520.0 216.6,520.2 216.9,520.8 217.1,519.3 217.4,520.8 217.6,520.0 217.9,520.9 218.1,521.0 218.4,520.1 218.6,519.2 218.9,520.4 219.1,521.6 219.4,520.0 219.6,519.9 219.9,520.3 220.1,519.2 220.4,520.7 220.6,520.5 220.9,519.4 221.1,520.5 221.4,519.5 221.6,520.7 221.9,519.5 222.1,520.5 222.4,519.0 222.6,519.1 222.9,520.8 223.1,520.2 223.4,519.4 223.6,519.6 223.9,521.2 224.1,519.2 224.4,521.0 224.6,520.2 224.9,519.2 225.1,518.7 225.4,520.1 225.6,520.2 225.9,518.5 226.1,518.0 226.4,520.5 226.6,519.0 226.9,520.3 227.1,518.7 227.4,519.7 227.6,520.1 227.9,519.5 228.1,519.3 228.4,519.6 228.6,519.0 228.9,519.9 229.1,519.5 229.4,520.4 229.6,519.5 229.9,519.9 230.1,519.5 230.4,518.8 230.6,518.1 230.9,518.8 231.2,519.8 231.4,519.7 231.6,518.6 231.9,519.7 232.1,518.7 232.4,519.8 232.7,518.0 232.9,519.1 232.8,518.7 233.0,496.5 233.2,518.7 233.1,518.0 233.4,518.9 233.6,518.1 233.8,517.6 234.1,518.7 234.4,519.7 234.7,518.2 234.9,518.1 235.1,518.0 235.4,518.4 235.7,518.6 235.9,518.2 236.1,518.0 236.4,518.0 236.6,517.6 236.8,517.9 237.1,518.4 237.4,517.1 237.7,517.5 237.9,517.8 238.2,518.1 238.4,517.8 238.6,517.3 238.9,517.6 239.1,517.5 239.4,516.6 239.6,517.1 239.9,517.4 240.1,517.4 240.4,516.9 240.6,516.9 240.9,518.2 241.1,516.2 241.4,517.6 241.6,517.9 241.9,516.8 242.2,517.2 242.4,516.6 242.7,516.2 243.0,516.6 243.3,517.1 243.6,515.5 243.8,516.3 244.1,515.5 244.4,515.8 244.7,515.0 245.0,515.0 245.3,518.1 245.6,516.3 245.9,515.4 246.2,513.8 246.6,514.3 246.9,515.7 247.2,513.5 247.5,515.4 247.8,514.0 248.2,511.4 248.5,515.4 248.9,512.8 249.2,512.3 249.6,515.2 249.9,516.2 250.3,511.2 250.6,513.0 251.0,513.1 251.4,514.3 251.7,514.7 252.1,511.2 252.5,512.9 252.9,512.6 253.3,512.0 253.7,511.8 254.1,511.6 254.5,513.7 255.0,509.9 255.4,509.8 255.8,510.5 256.3,508.1 256.7,510.3 257.2,508.8 257.7,509.4 258.1,508.0 258.6,509.2 259.1,507.9 259.6,507.6 260.1,508.2 260.6,505.6 261.2,505.9 261.7,508.6" fill="none" stroke="#619CFF" stroke-opacity="0.8" stroke-width="1.3" stroke-linejoin="round"/>
<polyline points="328.6,494.7 329.1,486.3 329.6,490.4 330.1,494.4 330.6,496.0 331.1,493.1 331.6,496.0 332.1,500.6 332.6,502.5 333.1,501.6 333.5,504.9 334.0,502.9 334.4,504.4 334.9,504.8 335.3,507.8 335.7,507.2 336.1,502.6 336.5,503.9 337.0,508.2 337.4,508.4 337.7,507.6 338.1,510.9 338.5,509.5 338.9,511.5 339.3,512.0 339.6,509.7 340.0,516.6 340.4,512.7 340.7,513.1 341.1,514.1 341.4,513.9 341.8,514.7 342.1,510.6 342.4,511.8 342.7,513.5 343.1,512.3 343.4,513.7 343.7,513.5 344.0,512.4 344.3,512.6 344.6,513.6 344.9,513.8 345.2,515.0 345.5,513.0 345.8,514.8 346.1,513.3 346.4,515.1 346.7,515.9 347.0,513.1 347.3,515.2 347.5,515.3 347.8,514.5 348.1,514.1 348.4,515.9 348.6,515.1 348.9,515.7 349.1,516.8 349.4,516.9 349.7,515.5 349.9,517.6 350.2,516.8 350.4,517.5 350.7,517.6 350.9,516.5 351.2,516.7 351.4,518.8 351.6,516.6 351.9,516.5 352.1,517.6 352.3,518.9 352.6,517.0 352.8,518.1 353.1,518.8 353.4,516.3 353.7,517.0 353.9,515.9 354.1,518.1 354.3,518.6 354.6,517.0 354.9,519.0 355.2,518.1 355.4,518.1 355.6,517.9 355.8,519.1 356.1,514.8 356.4,518.1 356.6,517.3 356.8,519.5 357.1,519.2 357.4,517.6 357.6,516.4 357.9,519.0 358.2,516.8 358.3,519.1 358.0,518.5 358.2,512.8 358.4,518.5 358.6,517.2 358.9,519.2 359.1,517.2 359.4,518.6 359.6,520.2 359.9,518.3 360.2,519.5 360.3,519.4 360.6,519.7 360.9,519.0 361.1,518.3 361.4,519.6 361.6,520.0 361.9,519.1 362.1,518.0 362.4,520.5 362.6,517.2 362.9,519.7 363.1,521.5 363.4,519.5 363.6,520.8 363.9,518.9 364.1,518.2 364.4,518.7 364.6,518.4 364.9,520.0 365.1,517.8 365.4,519.5 365.6,517.5 365.9,519.9 366.1,520.1 366.4,518.7 366.6,519.3 366.9,520.9 367.1,518.4 367.4,519.9 367.6,519.9 367.9,517.5 368.1,521.4 368.4,519.6 368.6,517.8 368.9,520.6 369.1,520.1 369.4,518.5 369.6,522.2 369.9,519.1 370.1,520.4 370.4,518.7 370.6,520.5 370.9,518.5 371.1,518.0 371.4,521.4 371.6,518.9 371.9,521.6 372.1,521.7 372.4,518.5 372.6,519.6 372.9,521.4 373.1,519.6 373.4,520.3 373.6,518.8 373.9,520.4 374.1,518.8 374.4,521.0 374.6,521.0 374.9,518.8 375.1,519.3 375.4,521.2 375.6,519.5 375.9,520.8 376.1,519.3 376.4,521.4 376.6,518.8 376.9,521.6 377.1,519.6 377.4,521.8 377.6,522.1 377.9,519.2 378.1,519.9 378.4,522.2 378.6,521.6 378.9,519.4 379.1,519.6 379.4,521.9 379.6,519.7 379.9,520.6 380.1,520.1 380.4,520.9 380.6,519.6 380.9,521.1 381.1,520.3 381.4,522.0 381.6,521.1 381.9,519.9 382.1,520.9 382.4,522.2 382.6,519.8 382.9,521.0 383.1,519.0 383.4,521.7 383.6,520.1 383.9,521.6 384.1,520.2 384.4,522.3 384.6,520.0 384.9,521.3 385.1,521.2 385.4,519.4 385.6,520.4 385.9,521.1 386.1,521.3 386.4,520.2 386.6,520.8 386.9,520.3 387.1,520.6 387.4,522.1 387.6,520.7 387.9,522.0 388.1,521.1 388.4,519.7 388.6,522.3 388.9,520.5 389.1,520.4 389.4,521.8 389.6,521.1 389.9,521.6 390.1,521.6 390.4,520.4 390.6,521.2 390.9,520.2 391.1,520.1 391.4,521.4 391.6,522.2 391.9,520.6 392.1,521.1 392.4,520.2 392.6,520.9 392.9,521.9 393.1,522.2 393.4,520.3 393.6,521.2 393.9,520.6 394.1,521.8 394.4,520.3 394.6,521.4 394.9,520.0 395.1,520.5 395.4,521.3 395.6,520.9 395.9,521.9 396.1,521.5 396.4,520.9 396.6,521.1 396.9,522.1 397.1,520.6 397.4,522.0 397.6,521.6 397.9,520.2 398.1,522.2 398.4,520.8 398.6,521.0 398.9,521.8 399.1,521.4 399.4,520.9 399.6,521.1 399.9,522.1 400.1,521.2 400.4,522.2 400.6,521.1 400.9,521.9 401.1,521.0 401.4,522.2 401.6,522.2 401.9,521.3 402.1,521.9 402.4,521.4 402.6,522.1 402.9,520.6 403.1,521.8 403.4,521.2 403.6,521.7 403.9,521.3 404.1,521.3 404.4,521.9 404.6,521.5 404.9,520.9 405.1,521.8 405.4,521.0 405.6,520.9 405.9,522.3 406.1,520.9 406.4,522.2 406.6,521.0 406.9,521.8 407.1,521.9 407.4,521.2 407.6,522.1 407.9,521.1 408.1,522.0 408.4,521.1 408.6,521.9 408.9,521.3 409.1,522.2 409.4,521.5 409.6,520.8 409.9,522.3 410.1,522.3 410.4,521.2 410.6,521.3 410.9,522.0 411.1,522.2 411.4,520.6 411.6,521.9 411.9,521.0 412.1,521.4 412.4,522.1 412.6,521.2 412.9,522.1 413.1,522.0 413.4,521.0 413.6,521.8 413.9,520.8 414.1,522.3 414.4,521.6 414.6,520.7 414.9,521.8 415.1,522.2 415.4,520.9 415.6,522.3 415.9,521.1 416.1,522.0 416.4,520.8 416.6,521.7 416.9,522.3 417.1,521.2 417.4,522.0 417.6,520.9 417.9,522.3 418.1,521.3 418.4,522.3 418.6,521.6 418.9,522.2 419.1,521.2 419.4,522.0 419.6,520.8 419.9,521.9 420.1,522.2 420.4,521.8 420.6,521.5 420.9,522.3 421.1,521.4 421.4,522.0 421.6,522.1 421.9,521.6 422.1,520.6 422.4,522.1 422.6,521.9 422.9,520.9 423.1,521.4 423.4,522.1 423.6,520.7 423.9,521.6 424.1,522.3 424.4,521.1 424.6,521.5 424.9,521.8 425.1,522.2 425.4,521.3 425.6,521.7 425.9,522.2 426.1,521.3 426.4,521.7 426.6,522.1 426.9,521.3 427.1,522.1 427.4,521.3 427.6,522.3 427.9,521.6 428.1,521.9 428.4,521.2 428.6,522.2 428.9,521.3 429.1,521.4 429.4,522.1 429.6,522.3 429.9,521.7 430.1,521.5 430.4,522.3 430.6,522.3 430.9,520.9 431.1,522.0 431.4,521.4 431.6,522.1 431.9,521.5 432.1,522.1 432.4,521.6 432.6,521.8 432.9,522.3 433.1,521.6 433.4,522.3 433.6,522.2 433.9,521.5 434.1,521.4 434.4,522.1 434.6,522.1 434.9,521.3 435.1,521.6 435.4,522.1 435.6,522.2 435.9,521.5 436.1,521.5 436.4,522.2 436.6,521.4 436.9,522.1 437.1,522.2 437.4,521.7 437.6,521.3 437.9,522.0 438.1,522.2 438.4,521.4 438.6,522.1 438.9,521.5 439.1,521.4 439.4,522.1 439.6,521.4 439.9,522.2 440.1,521.5 440.4,522.3 440.6,522.2 440.9,521.5 441.1,521.4 441.4,522.1 441.6,521.2 441.9,522.2 442.1,521.6 442.4,522.0 442.6,521.8 442.9,522.1 443.1,521.9 443.4,522.2 443.6,522.1 443.9,521.7 444.1,521.5 444.4,522.0 444.6,522.0 444.9,521.4 445.1,521.7 445.4,522.0 445.6,521.3 445.9,522.1 446.1,522.2 446.4,521.6 446.6,521.7 446.9,522.0 447.1,521.5 447.4,522.0 447.6,522.2 447.9,521.6 448.1,522.3 448.4,522.0 448.6,521.6 448.9,521.9 449.1,521.6 449.4,522.3 449.6,522.2 449.9,521.5 450.1,521.5 450.4,522.1 450.6,521.9 450.9,521.4 451.1,522.1 451.4,521.6 451.6,522.1 451.9,521.7 452.1,522.2 452.4,521.9 452.6,522.2 452.9,521.9 453.1,522.2 453.4,521.7 453.6,522.0 453.9,521.8 454.1,522.1 454.4,521.5 454.6,521.5 454.9,522.1 455.1,521.6 455.4,522.1 455.6,521.8 455.9,522.1 456.1,522.2 456.4,521.7 456.6,521.6 456.9,522.3 457.1,521.9 457.4,522.0 457.6,521.5 457.9,522.1 458.1,522.2 458.4,522.0 458.6,522.2 458.9,522.1 459.1,522.2 459.4,521.6 459.6,522.2 459.9,521.6 460.1,521.8 460.4,522.3 460.6,522.2 460.9,521.5 461.1,522.2 461.4,521.8 461.6,521.8 461.9,522.1 462.1,521.9 462.4,521.9 462.6,522.1 462.9,521.8 463.1,522.1 463.4,521.8 463.6,522.2 463.9,521.6 464.1,522.1 464.4,521.8 464.6,522.0 464.9,522.1 465.1,522.3 465.4,521.8 465.6,522.2 465.9,521.8 466.1,522.1 466.4,521.9 466.6,521.9 466.9,522.3 467.1,522.3 467.4,521.8 467.6,521.9 467.9,522.3 468.1,522.0 468.4,521.9 468.6,522.0 468.9,521.8 469.1,521.9 469.4,522.2 469.6,521.8 469.9,522.3 470.1,522.2 470.4,521.8 470.6,521.8 470.9,522.3 471.1,522.3 471.4,522.0 471.6,521.9 471.9,522.2 472.1,522.2 472.4,522.0 472.6,522.0 472.9,522.2 473.1,522.2 473.4,521.9 473.6,522.3 473.9,521.9 474.1,522.2 474.4,521.8 474.6,521.8 474.9,522.2 475.1,522.2 475.4,521.8 475.6,522.3 475.9,521.9 476.1,522.0 476.4,522.2 476.6,521.8 476.9,522.2 477.1,521.9 477.4,522.3 477.6,522.2 477.9,521.8 478.1,521.9 478.4,522.2 478.6,521.8 478.9,522.3 479.1,521.9 479.4,522.2 479.6,521.9 479.9,522.2 480.1,522.1 480.4,522.0 480.6,522.1 480.9,522.2 481.1,522.0 481.4,522.3 481.6,522.1 481.9,522.0 482.1,522.2 482.4,522.0 482.6,522.0 482.9,522.2 483.1,522.1 483.4,521.9 483.6,521.9 483.9,522.1 484.1,522.0 484.4,522.2 484.6,522.2 484.9,522.0 485.1,522.2 485.4,521.9 485.6,522.1 485.9,522.2 486.1,522.2 486.4,521.9 486.6,522.0 486.9,522.2 487.1,522.0 487.4,522.3 487.6,522.0 487.9,522.2 488.1,522.0 488.4,522.2 488.6,522.0 488.9,522.0 489.1,522.0 489.4,522.2 489.6,521.9 489.9,522.1 490.1,522.2 490.4,521.9 490.6,522.3 490.9,522.1 491.1,522.2 491.4,522.0 491.6,522.2 491.9,522.0 492.1,522.2 492.4,522.0 492.6,522.0 492.9,522.2 493.1,522.1 493.4,522.0 493.6,522.2 493.9,522.1 494.1,522.0 494.4,522.1 494.6,522.2 494.9,522.0 495.1,521.9 495.4,522.2 495.6,522.2 495.9,522.0 496.1,522.2 496.4,522.0 496.6,522.3 496.9,522.1 497.1,522.0 497.4,522.2 497.6,522.1 497.9,522.2 498.1,522.0 498.4,522.3 498.6,522.1 498.9,522.0 499.1,522.0 499.4,522.2 499.6,522.1 499.9,522.2 500.1,522.0 500.4,522.2 500.6,522.2 500.9,522.0 501.1,522.2 501.4,522.0 501.6,522.1 501.9,522.3 502.1,522.1 502.4,522.1 502.6,522.2 502.9,522.1 503.1,522.2 503.4,522.1 503.6,522.2 503.9,522.1 504.1,522.1 504.4,522.2 504.6,522.2 504.9,522.1 505.1,522.1 505.4,522.3 505.6,522.1 505.9,522.2 506.1,522.0 506.4,522.3 506.6,522.3 506.9,522.1 507.1,522.1 507.4,522.2 507.6,522.2 507.9,522.1 508.1,522.1 508.4,522.2 508.6,522.2 508.9,522.1 509.1,522.2 509.4,522.2 509.6,522.2 509.9,522.1 510.1,522.2 510.4,522.1 510.6,522.2 510.9,522.3 511.1,522.1 511.4,522.2 511.6,522.1 511.9,522.2" fill="none" stroke="#F8766D" stroke-opacity="0.8" stroke-width="1.3" stroke-linejoin="round"/>
<polyline points="328.6,507.8 329.1,509.7 329.6,505.2 330.1,509.7 330.6,511.7 331.1,509.8 331.6,510.8 332.1,512.1 332.6,511.9 333.1,508.8 333.5,514.5 334.0,514.5 334.4,511.5 334.9,513.4 335.3,511.6 335.7,511.6 336.1,512.5 336.5,514.5 337.0,511.6 337.4,514.1 337.7,511.3 338.1,512.4 338.5,515.3 338.9,513.2 339.3,512.8 339.6,512.7 340.0,513.7 340.4,514.0 340.7,513.6 341.1,513.1 341.4,513.3 341.8,512.7 342.1,513.9 342.4,516.3 342.7,517.3 343.1,516.6 343.4,514.9 343.7,515.4 344.0,514.0 344.3,515.3 344.6,517.5 344.9,514.8 345.2,514.8 345.5,513.7 345.8,517.4 346.1,518.7 346.4,518.0 346.7,517.4 347.0,519.0 347.3,517.7 347.5,519.7 347.8,516.9 348.1,517.7 348.4,517.0 348.6,516.8 348.9,520.8 349.1,515.5 349.4,517.4 349.7,519.4 349.9,519.0 350.2,517.2 350.4,519.8 350.7,516.9 350.9,517.7 351.2,517.5 351.4,517.5 351.6,518.8 351.9,518.6 352.1,518.6 352.3,517.7 352.6,519.3 352.8,518.7 353.1,519.2 353.4,518.5 353.7,516.7 353.9,518.9 354.1,519.3 354.3,518.7 354.6,518.4 354.9,519.6 355.2,518.9 355.4,518.0 355.6,518.8 355.8,519.8 356.1,518.1 356.4,519.6 356.6,518.0 356.8,519.1 356.7,519.0 356.9,497.1 357.1,519.0 357.1,517.7 357.4,519.2 357.6,518.3 357.9,520.1 358.2,518.1 358.3,517.4 358.6,520.7 358.9,518.1 359.1,517.3 359.4,518.5 359.6,519.9 359.9,518.4 360.2,520.3 360.3,519.9 360.6,522.3 360.9,519.2 361.1,519.4 361.4,520.0 361.6,519.7 361.9,518.2 362.1,520.9 362.4,519.6 362.6,520.3 362.9,519.0 363.1,520.2 363.4,518.9 363.6,519.0 363.9,520.3 364.1,519.3 364.4,520.2 364.6,519.4 364.9,520.7 365.1,520.4 365.4,518.8 365.6,521.2 365.9,519.0 366.1,520.5 366.4,520.9 366.6,520.6 366.9,519.1 367.1,520.5 367.4,519.2 367.6,520.1 367.9,520.0 368.1,521.2 368.4,518.7 368.6,521.0 368.9,519.4 369.1,520.6 369.4,519.5 369.6,521.0 369.9,519.2 370.1,520.8 370.4,519.0 370.6,521.5 370.9,521.0 371.1,518.4 371.4,521.1 371.6,519.1 371.9,522.1 372.1,521.4 372.4,519.5 372.6,519.8 372.9,520.9 373.1,522.0 373.4,518.9 373.6,520.5 373.9,519.8 374.1,519.1 374.4,521.9 374.6,519.3 374.9,522.2 375.1,520.2 375.4,521.2 375.6,520.4 375.9,521.9 376.1,521.6 376.4,519.4 376.6,519.8 376.9,520.8 377.1,521.9 377.4,520.9 377.6,521.9 377.9,520.6 378.1,519.7 378.4,521.2 378.6,521.8 378.9,520.5 379.1,521.5 379.4,519.9 379.6,521.6 379.9,520.3 380.1,521.6 380.4,520.5 380.6,520.3 380.9,521.5 381.1,522.0 381.4,519.9 381.6,519.4 381.9,521.1 382.1,522.0 382.4,520.1 382.6,520.3 382.9,521.2 383.1,521.8 383.4,519.8 383.6,521.0 383.9,521.8 384.1,521.8 384.4,520.5 384.6,521.1 384.9,521.6 385.1,520.3 385.4,521.7 385.6,521.8 385.9,520.9 386.1,521.0 386.4,522.1 386.6,522.3 386.9,520.7 387.1,520.9 387.4,521.3 387.6,521.5 387.9,520.8 388.1,521.3 388.4,520.6 388.6,520.9 388.9,521.8 389.1,521.8 389.4,521.0 389.6,521.4 389.9,519.9 390.1,520.5 390.4,522.3 390.6,522.1 390.9,521.2 391.1,520.7 391.4,521.8 391.6,522.2 391.9,520.8 392.1,521.0 392.4,522.2 392.6,521.0 392.9,521.7 393.1,520.6 393.4,522.3 393.6,520.8 393.9,522.1 394.1,520.7 394.4,521.5 394.6,521.5 394.9,521.2 395.1,520.9 395.4,521.7 395.6,520.9 395.9,522.1 396.1,520.9 396.4,521.8 396.6,522.2 396.9,521.2 397.1,522.2 397.4,520.9 397.6,522.1 397.9,520.7 398.1,520.5 398.4,522.2 398.6,521.7 398.9,521.2 399.1,521.0 399.4,522.2 399.6,520.9 399.9,521.8 400.1,521.0 400.4,522.2 400.6,521.9 400.9,521.0 401.1,522.0 401.4,521.4 401.6,521.3 401.9,522.0 402.1,520.6 402.4,522.2 402.6,521.0 402.9,521.6 403.1,521.8 403.4,520.6 403.6,522.0 403.9,521.1 404.1,521.1 404.4,522.1 404.6,522.1 404.9,520.7 405.1,521.4 405.4,522.2 405.6,521.7 405.9,522.1 406.1,521.6 406.4,522.3 406.6,522.3 406.9,521.3 407.1,522.1 407.4,521.1 407.6,521.5 407.9,522.2 408.1,520.5 408.4,522.0 408.6,521.2 408.9,521.7 409.1,521.0 409.4,521.7 409.6,522.2 409.9,521.1 410.1,522.3 410.4,521.6 410.6,521.4 410.9,522.0 411.1,521.3 411.4,521.7 411.6,521.1 411.9,522.0 412.1,522.3 412.4,521.0 412.6,521.0 412.9,521.9 413.1,521.2 413.4,522.2 413.6,522.1 413.9,521.6 414.1,521.4 414.4,521.9 414.6,521.0 414.9,521.7 415.1,522.2 415.4,521.3 415.6,522.1 415.9,521.0 416.1,520.9 416.4,522.3 416.6,520.5 416.9,522.1 417.1,522.1 417.4,521.3 417.6,522.2 417.9,521.4 418.1,521.5 418.4,522.2 418.6,521.8 418.9,521.1 419.1,521.9 419.4,521.2 419.6,522.3 419.9,521.6 420.1,521.7 420.4,522.0 420.6,521.2 420.9,521.7 421.1,522.1 421.4,520.9 421.6,521.3 421.9,521.8 422.1,522.3 422.4,521.3 422.6,521.5 422.9,522.3 423.1,522.3 423.4,521.0 423.6,521.5 423.9,522.2 424.1,522.0 424.4,521.5 424.6,522.3 424.9,521.2 425.1,521.9 425.4,522.2 425.6,521.4 425.9,522.0 426.1,521.7 426.4,522.3 426.6,521.5 426.9,522.2 427.1,521.7 427.4,521.9 427.6,522.1 427.9,521.6 428.1,522.3 428.4,521.7 428.6,521.1 428.9,522.0 429.1,521.5 429.4,522.1 429.6,521.1 429.9,522.1 430.1,521.4 430.4,521.8 430.6,522.0 430.9,521.5 431.1,522.1 431.4,521.6 431.6,521.5 431.9,522.1 432.1,521.9 432.4,521.2 432.6,521.6 432.9,522.1 433.1,521.7 433.4,522.3 433.6,521.8 433.9,521.4 434.1,521.7 434.4,522.3 434.6,521.6 434.9,522.2 435.1,522.3 435.4,521.2 435.6,522.3 435.9,521.7 436.1,522.3 436.4,521.7 436.6,522.3 436.9,521.5 437.1,521.6 437.4,522.0 437.6,521.8 437.9,522.2 438.1,522.2 438.4,521.6 438.6,521.7 438.9,522.1 439.1,521.5 439.4,522.1 439.6,521.8 439.9,522.0 440.1,522.2 440.4,521.8 440.6,521.8 440.9,521.2 441.1,521.3 441.4,522.2 441.6,521.2 441.9,522.0 442.1,522.2 442.4,521.7 442.6,522.1 442.9,521.7 443.1,521.6 443.4,522.1 443.6,522.3 443.9,521.7 444.1,521.5 444.4,522.2 444.6,522.2 444.9,521.6 445.1,522.1 445.4,521.7 445.6,521.8 445.9,522.1 446.1,521.8 446.4,522.2 446.6,522.3 446.9,521.7 447.1,522.3 447.4,522.0 447.6,522.3 447.9,521.7 448.1,522.1 448.4,521.7 448.6,521.7 448.9,522.1 449.1,522.3 449.4,521.8 449.6,522.3 449.9,521.9 450.1,521.7 450.4,522.0 450.6,521.7 450.9,522.1 451.1,521.6 451.4,522.0 451.6,522.3 451.9,521.9 452.1,522.1 452.4,521.8 452.6,522.0 452.9,522.2 453.1,522.2 453.4,521.9 453.6,521.8 453.9,522.1 454.1,522.2 454.4,522.0 454.6,522.2 454.9,521.9 455.1,522.1 455.4,522.2 455.6,522.0 455.9,522.3 456.1,522.2 456.4,521.9 456.6,522.1 456.9,521.8 457.1,522.0 457.4,522.1 457.6,522.2 457.9,521.8 458.1,522.2 458.4,522.0 458.6,522.1 458.9,522.0 459.1,522.2 459.4,522.0 459.6,522.3 459.9,522.0 460.1,521.9 460.4,522.2 460.6,522.2 460.9,521.9 461.1,522.2 461.4,522.0 461.6,522.1 461.9,522.2 462.1,522.3 462.4,522.0 462.6,522.1 462.9,522.2 463.1,521.9 463.4,522.2 463.6,522.1 463.9,522.1 464.1,522.2 464.4,522.0 464.6,522.2 464.9,522.0 465.1,522.3 465.4,521.9 465.6,522.2 465.9,522.1 466.1,522.1 466.4,522.2 466.6,522.2 466.9,522.1 467.1,522.1 467.4,522.2 467.6,522.2 467.9,522.0 468.1,522.3 468.4,522.1 468.6,522.2 468.9,522.1 469.1,522.0 469.4,522.2 469.6,522.0 469.9,522.2 470.1,522.0 470.4,522.2 470.6,522.2 470.9,522.1 471.1,522.0 471.4,522.3 471.6,522.1 471.9,522.2 472.1,522.0 472.4,522.2 472.6,522.1 472.9,522.0 473.1,522.3 473.4,522.1 473.6,522.1 473.9,522.2 474.1,522.2 474.4,522.0 474.6,522.1 474.9,522.2 475.1,522.1 475.4,522.2 475.6,522.1 475.9,522.2 476.1,522.2 476.4,522.0 476.6,522.1 476.9,522.2 477.1,522.2 477.4,522.1 477.6,522.1 477.9,522.2 478.1,522.2 478.4,522.1 478.6,522.2 478.9,522.2 479.1,522.0 479.4,522.2 479.6,522.2 479.9,522.1 480.1,522.1 480.4,522.2 480.6,522.2 480.9,522.1 481.1,522.2 481.4,522.0 481.6,522.2 481.9,522.1 482.1,522.3 482.4,522.1 482.6,522.1 482.9,522.2 483.1,522.2 483.4,522.1 483.6,522.2 483.9,522.1" fill="none" stroke="#00BA38" stroke-opacity="0.8" stroke-width="1.3" stroke-linejoin="round"/>
<polyline points="331.6,449.1 332.1,453.0 332.6,456.2 333.1,458.2 333.5,468.4 334.0,463.4 334.4,464.4 334.9,465.1 335.3,471.9 335.7,470.6 336.1,469.5 336.5,463.5 337.0,475.8 337.4,474.5 337.7,482.7 338.1,468.4 338.5,479.4 338.9,480.1 339.3,484.4 339.6,487.6 340.0,484.7 340.4,493.8 340.7,489.4 341.1,493.8 341.4,495.5 341.8,496.0 342.1,496.5 342.4,500.8 342.7,503.7 343.1,501.7 343.4,505.2 343.7,501.2 344.0,506.7 344.3,503.1 344.6,506.7 344.9,505.0 345.2,509.8 345.5,506.6 345.8,508.0 346.1,510.8 346.4,509.6 346.7,510.4 347.0,513.8 347.3,511.9 347.5,511.0 347.8,515.8 348.1,512.9 348.4,513.9 348.6,513.8 348.9,513.4 349.1,514.0 349.4,514.8 349.7,516.0 349.9,516.1 350.2,515.0 350.4,516.5 350.7,515.6 350.9,514.8 351.2,516.3 351.4,516.9 351.6,516.5 351.9,513.4 352.1,518.4 352.3,517.6 352.6,517.6 352.8,518.6 353.1,518.6 353.4,516.2 353.7,517.2 353.9,518.0 354.1,516.6 354.3,516.4 354.6,518.0 354.9,519.3 355.2,517.9 355.4,518.1 355.6,520.4 355.8,518.3 356.1,518.1 356.4,519.7 356.6,519.1 356.8,519.5 357.1,518.6 357.4,519.4 357.6,516.4 357.9,519.9 358.2,519.4 358.3,519.4 358.6,516.3 358.9,520.2 359.1,519.0 359.4,517.5 359.6,519.0 359.9,520.7 360.2,518.9 360.3,517.0 360.6,519.0 360.9,518.7 361.1,520.9 361.4,518.0 361.6,519.9 361.9,517.9 362.1,521.4 362.4,519.4 362.6,520.0 362.9,518.5 363.1,519.7 363.4,518.8 363.6,519.4 363.9,519.7 364.1,519.4 364.4,519.6 364.6,520.9 364.9,519.1 365.1,520.2 365.4,519.1 365.6,519.1 365.9,521.1 366.1,520.7 366.4,518.8 366.6,519.5 366.9,520.6 367.1,520.2 367.4,519.3 367.6,519.8 367.9,521.1 368.1,519.4 368.4,520.3 368.6,518.1 368.9,521.1 369.1,520.6 369.4,519.0 369.6,521.6 369.9,519.7 370.1,520.1 370.4,521.9 370.6,519.1 370.9,521.1 371.1,522.2 371.4,518.7 371.6,519.5 371.9,519.9 372.1,520.1 372.4,521.1 372.6,519.2 372.9,521.7 373.1,521.5 373.4,519.7 373.6,521.8 373.9,520.5 374.1,519.8 374.4,521.4 374.6,519.4 374.9,520.8 375.1,518.7 375.4,521.5 375.6,521.3 375.9,519.8 376.1,520.2 376.4,520.8 376.6,520.8 376.9,520.0 377.1,520.0 377.4,520.8 377.6,521.6 377.9,519.6 378.1,520.3 378.4,521.3 378.6,519.9 378.9,521.6 379.1,519.8 379.4,520.9 379.6,521.7 379.9,519.8 380.1,520.8 380.4,520.0 380.6,521.7 380.9,520.0 381.1,520.3 381.4,521.1 381.6,520.2 381.9,521.2 382.1,521.8 382.4,519.9 382.6,521.5 382.9,520.4 383.1,519.3 383.4,522.3 383.6,520.4 383.9,521.2 384.1,521.1 384.4,519.6 384.6,520.1 384.9,522.0 385.1,521.5 385.4,520.4 385.6,521.4 385.9,520.6 386.1,519.6 386.4,521.8 386.6,520.1 386.9,521.2 387.1,520.3 387.4,521.2 387.6,521.3 387.9,520.4 388.1,522.0 388.4,519.7 388.6,521.7 388.9,520.3 389.1,519.6 389.4,521.6 389.6,520.7 389.9,521.2 390.1,519.7 390.4,521.2 390.6,521.5 390.9,520.5 391.1,521.3 391.4,520.2 391.6,521.6 391.9,520.5 392.1,520.1 392.4,521.4 392.6,519.8 392.9,521.8 393.1,520.3 393.4,521.6 393.6,522.1 393.9,521.0 394.1,520.2 394.4,522.1 394.6,521.9 394.9,520.3 395.1,521.9 395.4,520.9 395.6,520.8 395.9,521.7 396.1,521.5 396.4,520.3 396.6,522.2 396.9,521.7 397.1,521.5 397.4,519.9 397.6,521.0 397.9,522.1 398.1,520.9 398.4,522.1 398.6,521.8 398.9,520.5 399.1,520.9 399.4,521.5 399.6,521.3 399.9,520.6 400.1,520.6 400.4,521.6 400.6,522.0 400.9,520.8 401.1,521.8 401.4,521.1 401.6,520.5 401.9,521.4 402.1,521.1 402.4,522.1 402.6,520.6 402.9,521.6 403.1,520.6 403.4,522.2 403.6,521.8 403.9,520.6 404.1,521.8 404.4,520.7 404.6,521.4 404.9,520.9 405.1,521.3 405.4,522.0 405.6,521.1 405.9,521.4 406.1,521.5 406.4,520.5 406.6,521.9 406.9,520.7 407.1,521.2 407.4,522.1 407.6,521.3 407.9,522.3 408.1,522.0 408.4,521.7 408.6,521.4 408.9,520.6 409.1,520.7 409.4,521.7 409.6,520.6 409.9,521.8 410.1,520.8 410.4,521.8 410.6,521.6 410.9,521.0 411.1,521.5 411.4,520.4 411.6,521.8 411.9,520.9 412.1,520.8 412.4,521.5 412.6,522.1 412.9,521.7 413.1,521.0 413.4,522.0 413.6,520.7 413.9,522.0 414.1,522.1 414.4,521.2 414.6,522.1 414.9,520.8 415.1,520.6 415.4,521.9 415.6,521.0 415.9,522.0 416.1,520.9 416.4,521.8 416.6,521.9 416.9,520.8 417.1,521.4 417.4,522.3 417.6,521.8 417.9,520.8 418.1,522.2 418.4,520.9 418.6,521.3 418.9,522.0 419.1,521.1 419.4,521.5 419.6,522.0 419.9,520.9 420.1,521.2 420.4,522.1 420.6,520.2 420.9,521.7 421.1,521.1 421.4,521.8 421.6,521.9 421.9,521.1 422.1,521.5 422.4,520.5 422.6,521.5 422.9,522.1 423.1,520.8 423.4,521.9 423.6,520.8 423.9,522.3 424.1,521.8 424.4,521.0 424.6,521.3 424.9,521.9 425.1,521.1 425.4,521.7 425.6,521.1 425.9,521.9 426.1,520.9 426.4,521.8 426.6,522.2 426.9,521.3 427.1,522.1 427.4,520.9 427.6,522.1 427.9,521.3 428.1,521.7 428.4,522.2 428.6,522.3 428.9,521.2 429.1,521.6 429.4,521.4 429.6,522.3 429.9,521.2 430.1,521.0 430.4,522.1 430.6,522.2 430.9,520.8 431.1,521.8 431.4,521.2 431.6,522.2 431.9,521.3 432.1,521.6 432.4,522.3 432.6,521.8 432.9,521.3 433.1,521.2 433.4,522.0 433.6,520.7 433.9,521.6 434.1,522.2 434.4,521.2 434.6,522.2 434.9,520.9 435.1,521.0 435.4,521.6 435.6,522.0 435.9,517.8 436.1,518.8 436.4,516.3 436.6,520.0 436.9,516.0 437.1,519.4 437.4,516.6 437.6,516.2 437.9,519.1 438.1,519.4 438.4,516.8 438.6,517.4 438.9,518.7 439.1,520.1 439.4,516.8 439.6,520.2 439.9,517.1 440.1,516.8 440.4,519.0 440.6,517.3 440.9,520.4 441.1,518.9 441.4,517.0 441.6,520.6 441.9,517.7 442.1,519.8 442.4,518.5 442.6,518.5 442.9,519.7 443.1,517.5 443.4,520.3 443.6,517.1 443.9,521.2 444.1,517.8 444.4,520.3 444.6,522.0 444.9,518.4 445.1,522.0 445.4,517.9 445.6,518.0 445.9,520.5 446.1,518.6 446.4,521.0 446.6,517.9 446.9,519.1 447.1,521.3 447.4,517.9 447.6,517.8 447.9,520.0 448.1,519.4 448.4,518.2 448.6,518.5 448.9,520.8 449.1,518.1 449.4,520.8 449.6,518.1 449.9,521.5 450.1,518.1 450.4,520.9 450.6,521.6 450.9,518.1 451.1,519.5 451.4,518.8 451.6,519.8 451.9,518.3 452.1,518.5 452.4,520.3 452.6,521.0 452.9,519.1 453.1,518.7 453.4,521.1 453.6,519.0 453.9,521.5 454.1,520.0 454.4,518.6 454.6,521.1 454.9,518.8 455.1,518.6 455.4,521.2 455.6,521.6 455.9,518.8 456.1,521.6 456.4,518.8 456.6,521.1 456.9,519.5 457.1,518.8 457.4,520.5 457.6,518.8 457.9,520.4 458.1,519.4 458.4,519.6 458.6,519.2 458.9,520.9 459.1,518.8 459.4,521.9 459.6,519.2 459.9,521.2 460.1,519.7 460.4,518.9 460.6,521.5 460.9,519.3 461.1,519.2 461.4,521.5 461.6,519.7 461.9,520.9 462.1,519.6 462.4,521.7 462.6,520.1 462.9,519.7 463.1,519.5 463.4,519.2 463.6,519.2 463.9,521.0 464.1,519.2 464.4,522.0 464.6,519.6 464.9,521.5 465.1,519.8 465.4,521.3 465.6,520.2 465.9,521.7 466.1,519.4 466.4,520.4 466.6,521.7 466.9,519.4 467.1,521.1 467.4,519.6 467.6,520.7 467.9,519.5 468.1,519.6 468.4,521.3 468.6,519.6 468.9,520.6 469.1,519.7 469.4,521.0 469.6,519.7 469.9,521.6 470.1,521.9 470.4,519.8 470.6,519.8 470.9,521.1 471.1,521.5 471.4,519.7 471.6,520.9 471.9,519.7 472.1,520.9 472.4,519.8 472.6,519.9 472.9,521.3 473.1,521.2 473.4,519.9 473.6,520.1 473.9,520.9 474.1,521.8 474.4,520.1 474.6,520.1 474.9,520.8 475.1,520.9 475.4,520.1 475.6,520.1 475.9,521.2 476.1,521.1 476.4,520.4 476.6,521.6 476.9,520.2 477.1,521.7 477.4,520.5 477.6,520.3 477.9,521.3 478.1,520.3 478.4,521.5 478.6,520.5 478.9,521.5 479.1,520.9 479.4,521.9 479.6,520.6 479.9,520.9 480.1,520.5 480.4,521.3 480.6,520.4 480.9,521.2 481.1,520.7 481.4,522.1 481.6,520.8 481.9,522.1 482.1,521.4 482.4,520.6 482.6,520.6 482.9,521.7 483.1,520.6 483.4,521.6 483.6,520.7 483.9,521.1 484.1,520.7 484.4,521.4 484.6,521.3 484.9,521.9 485.1,522.1 485.4,520.7 485.6,521.3 485.9,520.8 486.1,521.7 486.4,520.8 486.6,521.5 486.9,520.8 487.1,521.3 487.4,520.8 487.6,521.1 487.9,521.5 488.1,520.8 488.4,521.7 488.6,522.1 488.9,521.5 489.1,521.0 489.4,522.2 489.6,521.7 489.9,520.9 490.1,521.0 490.4,521.7 490.6,521.1 490.9,521.9 491.1,521.8 491.4,521.1 491.6,521.2 491.9,522.2 492.1,521.3 492.4,521.8 492.6,521.3 492.9,521.5 493.1,521.2 493.4,521.9 493.6,521.2 493.9,521.9 494.1,522.0 494.4,521.4 494.6,521.3 494.9,521.6 495.1,521.7 495.4,521.4 495.6,522.1 495.9,521.5 496.1,521.5 496.4,522.0 496.6,522.0 496.9,521.5 497.1,521.5 497.4,522.0 497.6,521.9 497.9,521.6 498.1,521.9 498.4,521.6 498.6,521.8 498.9,521.5 499.1,521.8 499.4,521.5 499.6,522.0 499.9,521.6 500.1,521.7 500.4,521.9 500.6,522.2 500.9,521.6 501.1,521.9 501.4,521.7 501.6,521.6 501.9,522.0 502.1,522.1 502.4,521.7 502.6,521.7 502.9,522.2 503.1,522.1 503.4,521.8 503.6,522.2 503.9,521.8 504.1,522.0 504.4,522.0 504.6,522.2 504.9,521.8 505.1,521.7 505.4,521.1 505.6,521.8 505.9,521.2 506.1,521.4 506.4,522.2 506.6,522.3 506.9,521.1 507.1,521.3 507.4,522.3 507.6,520.9 507.9,521.9 508.1,521.8 508.4,522.1 508.6,521.2 508.9,522.2 509.1,521.7 509.4,521.1 509.6,521.2 509.9,522.0 510.1,522.1 510.4,521.3 510.6,521.9 510.9,521.1 511.1,522.0 511.4,521.6 511.6,521.2 511.9,522.2 512.1,521.4 512.4,522.1 512.6,522.3 512.9,521.6 513.1,522.0 513.4,521.4 513.6,522.0 513.9,521.5 514.1,521.7 514.4,522.2 514.6,522.2 514.9,521.5 515.1,522.0 515.4,521.4 515.6,521.4 515.9,521.8 516.1,521.4 516.4,522.0 516.6,521.2 516.9,522.0 517.1,522.2 517.4,522.0 517.6,522.0 517.9,522.2 518.1,522.0 518.4,521.8 518.6,522.2 518.9,521.7 519.1,522.0 519.4,521.7 519.6,522.1 519.9,521.8 520.1,522.1 520.4,521.8 520.6,521.6 520.9,522.3 521.1,521.7 521.4,522.2 521.6,521.8 521.9,522.1 522.1,521.7 522.4,522.3 522.6,522.1 522.9,522.3 523.1,522.1 523.4,521.9 523.6,521.7 523.9,522.1 524.1,522.0 524.4,522.2 524.6,522.2 524.9,521.9 525.1,522.1 525.4,522.2 525.6,522.2 525.9,521.7 526.1,522.0 526.4,522.1 526.6,522.3 526.9,522.0 527.1,522.2 527.4,521.9 527.6,521.8 527.9,522.1 528.1,522.0 528.4,522.2 528.6,522.0 528.9,522.1 529.1,522.2 529.4,521.8 529.6,522.0 529.9,522.2 530.1,521.9 530.4,522.2 530.6,522.1 530.9,521.9 531.1,522.2 531.4,522.0 531.6,522.2 531.9,521.8 532.1,522.0 532.4,522.1 532.6,521.9 532.9,522.3 533.1,522.2 533.4,521.9 533.6,522.2 533.9,521.9 534.1,522.3 534.4,521.9 534.6,522.0 534.9,522.2 535.1,522.2 535.4,522.0 535.6,522.0 535.9,522.2 536.1,522.0 536.4,522.2 536.6,522.0 536.9,522.2 537.1,522.2 537.4,522.0 537.5,522.1 537.6,522.1" fill="none" stroke="#619CFF" stroke-opacity="0.8" stroke-width="1.3" stroke-linejoin="round"/>
<text x="5.40" y="551.10" font-size="8.7" text-anchor="start" fill="#000" font-weight="bold" font-family="'Liberation Sans', Arial, sans-serif" stroke="#000" stroke-width="0.22" >d</text>
<text x="120.00" y="553.00" font-size="6.5" text-anchor="middle" fill="#222" font-weight="normal" font-family="'Liberation Sans', Arial, sans-serif" >DEL</text>
<text x="295.70" y="552.50" font-size="6.5" text-anchor="middle" fill="#222" font-weight="normal" font-family="'Liberation Sans', Arial, sans-serif" >INS</text>
<text x="0.00" y="0.00" font-size="8.6" text-anchor="middle" fill="#000" font-weight="normal" font-family="'Liberation Sans', Arial, sans-serif" stroke="#000" stroke-width="0.22" transform="translate(21.9,616.8) rotate(-90)">F1 score</text>
<line x1="41.80" y1="556.90" x2="41.80" y2="675.60" stroke="#333333" stroke-width="1"/>
<line x1="41.30" y1="675.20" x2="198.00" y2="675.20" stroke="#333333" stroke-width="1"/>
<line x1="39.50" y1="669.80" x2="41.80" y2="669.80" stroke="#333333" stroke-width="1"/>
<text x="38.20" y="672.10" font-size="6.5" text-anchor="end" fill="#444444" font-weight="normal" font-family="'Liberation Sans', Arial, sans-serif" stroke="#444444" stroke-width="0.22" >0.00</text>
<line x1="39.50" y1="640.40" x2="41.80" y2="640.40" stroke="#333333" stroke-width="1"/>
<text x="38.20" y="642.70" font-size="6.5" text-anchor="end" fill="#444444" font-weight="normal" font-family="'Liberation Sans', Arial, sans-serif" stroke="#444444" stroke-width="0.22" >0.25</text>
<line x1="39.50" y1="611.00" x2="41.80" y2="611.00" stroke="#333333" stroke-width="1"/>
<text x="38.20" y="613.30" font-size="6.5" text-anchor="end" fill="#444444" font-weight="normal" font-family="'Liberation Sans', Arial, sans-serif" stroke="#444444" stroke-width="0.22" >0.50</text>
<line x1="39.50" y1="581.60" x2="41.80" y2="581.60" stroke="#333333" stroke-width="1"/>
<text x="38.20" y="583.90" font-size="6.5" text-anchor="end" fill="#444444" font-weight="normal" font-family="'Liberation Sans', Arial, sans-serif" stroke="#444444" stroke-width="0.22" >0.75</text>
<line x1="84.20" y1="675.20" x2="84.20" y2="677.40" stroke="#333333" stroke-width="1"/>
<text x="84.20" y="684.20" font-size="6.8" text-anchor="middle" fill="#444444" font-weight="normal" font-family="'Liberation Sans', Arial, sans-serif" stroke="#444444" stroke-width="0.22" >CLR</text>
<line x1="155.40" y1="675.20" x2="155.40" y2="677.40" stroke="#333333" stroke-width="1"/>
<text x="155.40" y="684.20" font-size="6.8" text-anchor="middle" fill="#444444" font-weight="normal" font-family="'Liberation Sans', Arial, sans-serif" stroke="#444444" stroke-width="0.22" >ONT</text>
<line x1="218.70" y1="556.90" x2="218.70" y2="675.60" stroke="#333333" stroke-width="1"/>
<line x1="218.20" y1="675.20" x2="374.40" y2="675.20" stroke="#333333" stroke-width="1"/>
<line x1="216.40" y1="669.80" x2="218.70" y2="669.80" stroke="#333333" stroke-width="1"/>
<text x="214.50" y="672.10" font-size="6.5" text-anchor="end" fill="#444444" font-weight="normal" font-family="'Liberation Sans', Arial, sans-serif" stroke="#444444" stroke-width="0.22" >0.00</text>
<line x1="216.40" y1="640.40" x2="218.70" y2="640.40" stroke="#333333" stroke-width="1"/>
<text x="214.50" y="642.70" font-size="6.5" text-anchor="end" fill="#444444" font-weight="normal" font-family="'Liberation Sans', Arial, sans-serif" stroke="#444444" stroke-width="0.22" >0.25</text>
<line x1="216.40" y1="611.00" x2="218.70" y2="611.00" stroke="#333333" stroke-width="1"/>
<text x="214.50" y="613.30" font-size="6.5" text-anchor="end" fill="#444444" font-weight="normal" font-family="'Liberation Sans', Arial, sans-serif" stroke="#444444" stroke-width="0.22" >0.50</text>
<line x1="216.40" y1="581.60" x2="218.70" y2="581.60" stroke="#333333" stroke-width="1"/>
<text x="214.50" y="583.90" font-size="6.5" text-anchor="end" fill="#444444" font-weight="normal" font-family="'Liberation Sans', Arial, sans-serif" stroke="#444444" stroke-width="0.22" >0.75</text>
<line x1="260.70" y1="675.20" x2="260.70" y2="677.40" stroke="#333333" stroke-width="1"/>
<text x="260.70" y="684.20" font-size="6.8" text-anchor="middle" fill="#444444" font-weight="normal" font-family="'Liberation Sans', Arial, sans-serif" stroke="#444444" stroke-width="0.22" >CLR</text>
<line x1="331.60" y1="675.20" x2="331.60" y2="677.40" stroke="#333333" stroke-width="1"/>
<text x="331.60" y="684.20" font-size="6.8" text-anchor="middle" fill="#444444" font-weight="normal" font-family="'Liberation Sans', Arial, sans-serif" stroke="#444444" stroke-width="0.22" >ONT</text>
<rect x="62.10" y="564.80" width="21.20" height="105.00" fill="#F8766D"/>
<rect x="73.80" y="562.20" width="21.20" height="107.60" fill="#00BA38"/>
<rect x="85.80" y="571.70" width="21.20" height="98.10" fill="#619CFF"/>
<rect x="133.10" y="586.50" width="21.20" height="83.30" fill="#F8766D"/>
<rect x="144.90" y="562.40" width="21.20" height="107.40" fill="#00BA38"/>
<rect x="156.60" y="571.10" width="21.20" height="98.70" fill="#619CFF"/>
<rect x="238.40" y="572.10" width="21.20" height="97.70" fill="#F8766D"/>
<rect x="250.20" y="570.10" width="21.20" height="99.70" fill="#00BA38"/>
<rect x="262.10" y="655.10" width="21.20" height="14.70" fill="#619CFF"/>
<rect x="309.30" y="595.40" width="21.20" height="74.40" fill="#F8766D"/>
<rect x="321.10" y="570.70" width="21.20" height="99.10" fill="#00BA38"/>
<rect x="333.00" y="579.60" width="21.20" height="90.20" fill="#619CFF"/>
<rect x="386.9" y="597.6" width="11.3" height="11.4" fill="#F8766D"/>
<text x="402.70" y="606.30" font-size="6.65" text-anchor="start" fill="#222" font-weight="normal" font-family="'Liberation Sans', Arial, sans-serif" stroke="#222" stroke-width="0.08" >CuteSV</text>
<rect x="386.9" y="610.4" width="11.3" height="11.4" fill="#00BA38"/>
<text x="402.70" y="619.00" font-size="6.65" text-anchor="start" fill="#222" font-weight="normal" font-family="'Liberation Sans', Arial, sans-serif" stroke="#222" stroke-width="0.08" >Pbsv</text>
<rect x="386.9" y="622.9" width="11.3" height="11.4" fill="#619CFF"/>
<text x="402.70" y="631.40" font-size="6.65" text-anchor="start" fill="#222" font-weight="normal" font-family="'Liberation Sans', Arial, sans-serif" stroke="#222" stroke-width="0.08" >Sniffles</text>
</svg></body></html>
